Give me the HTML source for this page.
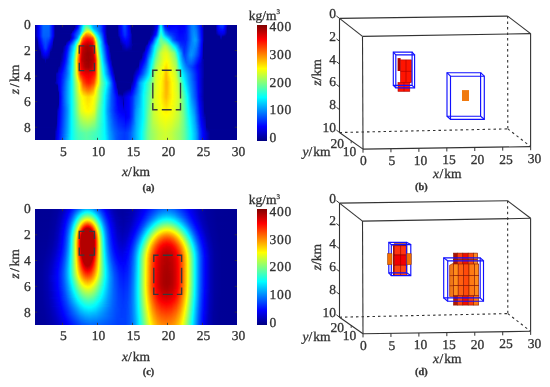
<!DOCTYPE html>
<html><head><meta charset="utf-8"><style>
html,body{margin:0;padding:0;background:#fff;width:550px;height:387px;overflow:hidden}
body{position:relative}
.hm{position:absolute;overflow:hidden}
.hm i{position:absolute;left:0;width:100%;height:1px;display:block}
.cb{position:absolute;left:257px;width:10px;background:linear-gradient(to top,#000080 0.0%,#00f 12.5%,#0ff 37.5%,#ff0 62.5%,#f00 87.5%,#800000 100.0%)}
svg{position:absolute;left:0;top:0}
text{font-family:"Liberation Serif",serif;fill:#333;text-rendering:geometricPrecision;stroke:#333;stroke-width:0.3px}
</style></head><body>
<div class="hm" style="left:35px;top:25px;width:202px;height:115px"><i style="top:0px;background:linear-gradient(90deg,#000094 0px,#0000de 2.5px,#0000f7 3.5px,#000fff 4.5px,#0058ff 7.5px,#0068ff 8.5px,#006aff 9.5px,#0068ff 13.5px,#0059ff 14.5px,#000cff 17.5px,#0000eb 18.5px,#0000b3 19.5px,#000094 20.5px,#000094 39.5px,#0000ae 40.5px,#0000f6 42.5px,#0016ff 43.5px,#003cff 44.5px,#00f6ff 48.5px,#1affe5 49.5px,#3fc 50.5px,#3fffc0 51.5px,#3cffc3 52.5px,#1bffe4 54.5px,#00f7ff 55.5px,#00d2ff 56.5px,#00a4ff 58.5px,#005bff 64.5px,#0037ff 66.5px,#0007ff 68.5px,#00e 69.5px,#0000a7 71.5px,#000094 72.5px,#000094 81.5px,#0000a2 82.5px,#0000ca 83.5px,#0000e6 84.5px,#0000f8 85.5px,#000dff 86.5px,#003eff 88.5px,#0048ff 89.5px,#0040ff 90.5px,#0000fa 93.5px,#0000e3 94.5px,#000094 96.5px,#000097 117.5px,#0000b1 119.5px,#0000e3 121.5px,#0005ff 122.5px,#008fff 124.5px,#00dcff 125.5px,#00dcff 126.5px,#0092ff 127.5px,#0020ff 129.5px,#000aff 130.5px,#00f 131.5px,#0000f0 134.5px,#0000fe 141.5px,#0000eb 145.5px,#0000ed 147.5px,#0000fd 149.5px,#0017ff 151.5px,#0076ff 156.5px,#0081ff 158.5px,#007cff 159.5px,#0062ff 161.5px,#0000f9 166.5px,#0000da 167.5px,#0000ac 168.5px,#000094 169.5px,#000094 180.5px,#0000f6 182.5px,#0013ff 183.5px,#0034ff 185.5px,#003dff 187.5px,#0030ff 188.5px,#0014ff 189.5px,#0000f3 190.5px,#0000a8 192.5px,#000097 193.5px,#000094 202px)"></i><i style="top:1px;background:linear-gradient(90deg,#000094 0px,#0000de 2.5px,#0000f8 3.5px,#000fff 4.5px,#0057ff 7.5px,#0067ff 8.5px,#0069ff 9.5px,#0067ff 13.5px,#0059ff 14.5px,#000cff 17.5px,#0000eb 18.5px,#0000b3 19.5px,#000094 20.5px,#000094 39.5px,#0000fd 42.5px,#0047ff 44.5px,#05fffa 48.5px,#4affb5 50.5px,#59ffa6 51.5px,#53ffac 52.5px,#43ffbc 53.5px,#2cffd3 54.5px,#06fff9 55.5px,#00c0ff 57.5px,#0af 58.5px,#0060ff 64.5px,#003bff 66.5px,#0007ff 68.5px,#00e 69.5px,#0000a7 71.5px,#000094 72.5px,#000098 82.5px,#0000c7 83.5px,#0000e4 84.5px,#0000f7 85.5px,#000bff 86.5px,#003aff 88.5px,#0045ff 89.5px,#003eff 90.5px,#0000fb 93.5px,#0000e5 94.5px,#000094 96.5px,#000094 116.5px,#0000a3 118.5px,#0000b5 119.5px,#0000e9 121.5px,#000fff 122.5px,#00e3ff 125.5px,#00e3ff 126.5px,#009fff 127.5px,#0031ff 129.5px,#0017ff 130.5px,#0002ff 132.5px,#0000f7 135.5px,#0003ff 141.5px,#00e 145.5px,#0000f3 148.5px,#0000fe 149.5px,#0018ff 151.5px,#0076ff 156.5px,#0082ff 158.5px,#007eff 159.5px,#0065ff 161.5px,#0000fb 166.5px,#0000dc 167.5px,#0000ac 168.5px,#000094 169.5px,#000094 180.5px,#0000f0 182.5px,#000cff 183.5px,#002bff 185.5px,#03f 187.5px,#0027ff 188.5px,#000eff 189.5px,#00e 190.5px,#00009c 192.5px,#000094 193.5px,#000094 202px)"></i><i style="top:2px;background:linear-gradient(90deg,#000094 0px,#0000de 2.5px,#0000f8 3.5px,#000fff 4.5px,#0057ff 7.5px,#06f 8.5px,#0068ff 9.5px,#06f 13.5px,#0058ff 14.5px,#000cff 17.5px,#0000eb 18.5px,#0000b3 19.5px,#000094 20.5px,#000095 39.5px,#0000e7 41.5px,#0006ff 42.5px,#0027ff 43.5px,#00e3ff 47.5px,#13ffec 48.5px,#62ff9d 50.5px,#73ff8c 51.5px,#6bff94 52.5px,#58ffa7 53.5px,#3effc1 54.5px,#13ffec 55.5px,#00ebff 56.5px,#00b0ff 58.5px,#0064ff 64.5px,#003fff 66.5px,#0008ff 68.5px,#00e 69.5px,#0000a6 71.5px,#000094 72.5px,#000094 82.5px,#0000c5 83.5px,#0000e2 84.5px,#0009ff 86.5px,#0037ff 88.5px,#0042ff 89.5px,#003cff 90.5px,#0000fc 93.5px,#0000e7 94.5px,#0000c3 95.5px,#000094 96.5px,#000094 116.5px,#0000a6 118.5px,#00e 121.5px,#0018ff 122.5px,#00e9ff 125.5px,#00eaff 126.5px,#00abff 127.5px,#0042ff 129.5px,#0024ff 130.5px,#000bff 132.5px,#0000fe 134.5px,#0007ff 140.5px,#00f 142.5px,#0000f1 145.5px,#00f 149.5px,#0018ff 151.5px,#0076ff 156.5px,#0084ff 158.5px,#0080ff 159.5px,#0068ff 161.5px,#0000fc 166.5px,#00d 167.5px,#0000ad 168.5px,#000094 169.5px,#000094 180.5px,#0000eb 182.5px,#0004ff 183.5px,#0021ff 185.5px,#0029ff 187.5px,#001eff 188.5px,#0007ff 189.5px,#0000ea 190.5px,#000094 192.5px,#000094 202px)"></i><i style="top:3px;background:linear-gradient(90deg,#000094 0px,#0000de 2.5px,#0000f8 3.5px,#000fff 4.5px,#0056ff 7.5px,#0065ff 8.5px,#0067ff 9.5px,#0065ff 13.5px,#0057ff 14.5px,#000cff 17.5px,#0000eb 18.5px,#0000b4 19.5px,#000094 20.5px,#000094 38.5px,#0000f4 41.5px,#0013ff 42.5px,#0034ff 43.5px,#008aff 45.5px,#0ef 47.5px,#20ffdf 48.5px,#78ff87 50.5px,#8cff73 51.5px,#89ff76 52.5px,#78ff87 53.5px,#5dffa2 54.5px,#08fff7 56.5px,#0df 57.5px,#00bfff 58.5px,#00adff 59.5px,#08f 62.5px,#0056ff 65.5px,#0008ff 68.5px,#0000ed 69.5px,#0000a6 71.5px,#000094 72.5px,#000094 82.5px,#0000c3 83.5px,#0000df 84.5px,#0007ff 86.5px,#0034ff 88.5px,#003fff 89.5px,#003aff 90.5px,#0000fd 93.5px,#0000e8 94.5px,#0000c6 95.5px,#000094 96.5px,#000094 116.5px,#0000a9 118.5px,#0000f3 121.5px,#0021ff 122.5px,#006bff 123.5px,#00f0ff 125.5px,#00f1ff 126.5px,#0053ff 129.5px,#0031ff 130.5px,#0014ff 132.5px,#0006ff 134.5px,#000aff 140.5px,#0000f5 145.5px,#0001ff 149.5px,#0019ff 151.5px,#0076ff 156.5px,#0085ff 158.5px,#007aff 160.5px,#006bff 161.5px,#0000fd 166.5px,#0000de 167.5px,#0000ad 168.5px,#000094 169.5px,#000094 180.5px,#0000e6 182.5px,#0000fc 183.5px,#000dff 184.5px,#001fff 187.5px,#0015ff 188.5px,#00f 189.5px,#0000e5 190.5px,#000094 192.5px,#000094 202px)"></i><i style="top:4px;background:linear-gradient(90deg,#000094 0px,#0000de 2.5px,#0000f8 3.5px,#000fff 4.5px,#05f 7.5px,#0064ff 8.5px,#06f 9.5px,#0064ff 13.5px,#0057ff 14.5px,#000cff 17.5px,#0000eb 18.5px,#0000b4 19.5px,#000094 20.5px,#000094 38.5px,#00c 39.5px,#0000ed 40.5px,#0009ff 41.5px,#04f 43.5px,#0092ff 45.5px,#00f5ff 47.5px,#2cffd3 48.5px,#61ff9e 49.5px,#8bff74 50.5px,#a5ff5a 51.5px,#acff53 52.5px,#a2ff5d 53.5px,#89ff76 54.5px,#34ffcb 56.5px,#00fdff 57.5px,#00d8ff 58.5px,#00c0ff 59.5px,#006cff 64.5px,#0040ff 66.5px,#0008ff 68.5px,#0000ed 69.5px,#0000a6 71.5px,#000094 72.5px,#000094 82.5px,#0000c0 83.5px,#00d 84.5px,#0005ff 86.5px,#0031ff 88.5px,#003cff 89.5px,#0038ff 90.5px,#0000fe 93.5px,#0000ea 94.5px,#0000c9 95.5px,#000094 96.5px,#000094 116.5px,#0000ac 118.5px,#0000f7 121.5px,#002bff 122.5px,#07f 123.5px,#00f6ff 125.5px,#00f8ff 126.5px,#0064ff 129.5px,#003eff 130.5px,#001dff 132.5px,#000dff 134.5px,#000dff 141.5px,#00f 143.5px,#0000f8 145.5px,#0003ff 149.5px,#001aff 151.5px,#0076ff 156.5px,#0087ff 158.5px,#007dff 160.5px,#006fff 161.5px,#0000fe 166.5px,#0000e0 167.5px,#0000ae 168.5px,#000094 169.5px,#000094 180.5px,#0000df 182.5px,#0000f5 183.5px,#0005ff 184.5px,#0014ff 187.5px,#0000f8 189.5px,#0000de 190.5px,#000094 192.5px,#000094 202px)"></i><i style="top:5px;background:linear-gradient(90deg,#000094 0px,#0000de 2.5px,#0000f8 3.5px,#000fff 4.5px,#05f 7.5px,#0063ff 8.5px,#06f 9.5px,#0064ff 13.5px,#0056ff 14.5px,#000cff 17.5px,#0000eb 18.5px,#0000b4 19.5px,#000094 20.5px,#000096 37.5px,#0000b7 38.5px,#0000e8 39.5px,#0002ff 40.5px,#0075ff 44.5px,#009aff 45.5px,#00fcff 47.5px,#38ffc7 48.5px,#74ff8b 49.5px,#9eff61 50.5px,#beff41 51.5px,#d0ff2f 52.5px,#cdff32 53.5px,#b6ff49 54.5px,#90ff6f 55.5px,#60ff9f 56.5px,#1effe1 57.5px,#00f2ff 58.5px,#00d2ff 59.5px,#0058ff 65.5px,#0008ff 68.5px,#0000ed 69.5px,#0000a6 71.5px,#000094 72.5px,#000094 82.5px,#0000be 83.5px,#0000db 84.5px,#0004ff 86.5px,#002eff 88.5px,#0039ff 89.5px,#0036ff 90.5px,#0000fe 93.5px,#0000eb 94.5px,#00c 95.5px,#000094 96.5px,#000094 115.5px,#0000a0 117.5px,#0000b2 118.5px,#0001ff 121.5px,#0036ff 122.5px,#0082ff 123.5px,#00feff 125.5px,#01fffe 126.5px,#0075ff 129.5px,#004eff 130.5px,#002aff 132.5px,#0017ff 134.5px,#000fff 141.5px,#0000fc 144.5px,#0006ff 149.5px,#001aff 151.5px,#07f 156.5px,#08f 158.5px,#0080ff 160.5px,#0072ff 161.5px,#0001ff 166.5px,#0000e1 167.5px,#0000ae 168.5px,#000094 169.5px,#000094 180.5px,#0000d7 182.5px,#00e 183.5px,#0005ff 185.5px,#000aff 187.5px,#0003ff 188.5px,#0000f1 189.5px,#000094 192.5px,#000094 202px)"></i><i style="top:6px;background:linear-gradient(90deg,#000094 0px,#0000df 2.5px,#0000f8 3.5px,#000fff 4.5px,#0054ff 7.5px,#0063ff 8.5px,#0065ff 9.5px,#0063ff 13.5px,#0056ff 14.5px,#000cff 17.5px,#0000eb 18.5px,#0000b4 19.5px,#000094 20.5px,#000094 36.5px,#0000f9 39.5px,#0047ff 42.5px,#0081ff 44.5px,#00a8ff 45.5px,#00dbff 46.5px,#18ffe7 47.5px,#98ff67 49.5px,#e4ff1b 51.5px,#f7ff08 52.5px,#f6ff09 53.5px,#e2ff1d 54.5px,#c2ff3d 55.5px,#91ff6e 56.5px,#4cffb3 57.5px,#1affe5 58.5px,#00f1ff 59.5px,#00d3ff 60.5px,#005fff 65.5px,#000bff 68.5px,#0000ef 69.5px,#0000a6 71.5px,#000094 72.5px,#000094 82.5px,#00b 83.5px,#0000d8 84.5px,#0002ff 86.5px,#002bff 88.5px,#0036ff 89.5px,#0034ff 90.5px,#00f 93.5px,#0000ec 94.5px,#0000cf 95.5px,#000094 96.5px,#000094 115.5px,#0000a6 117.5px,#0000f1 120.5px,#000eff 121.5px,#0045ff 122.5px,#00cdff 124.5px,#07fff8 125.5px,#0afff5 126.5px,#0df 127.5px,#0063ff 130.5px,#002eff 133.5px,#0020ff 135.5px,#01f 141.5px,#0000fe 144.5px,#00f 147.5px,#000eff 150.5px,#002cff 152.5px,#07f 156.5px,#0083ff 157.5px,#008aff 159.5px,#0075ff 161.5px,#0002ff 166.5px,#0000e2 167.5px,#0000af 168.5px,#000094 169.5px,#000094 180.5px,#0000e7 183.5px,#0000fa 185.5px,#00f 187.5px,#0000ea 189.5px,#000094 192.5px,#000094 202px)"></i><i style="top:7px;background:linear-gradient(90deg,#000094 0px,#0000df 2.5px,#0000f8 3.5px,#000fff 4.5px,#0054ff 7.5px,#0062ff 8.5px,#0064ff 9.5px,#0062ff 13.5px,#05f 14.5px,#000cff 17.5px,#0000ec 18.5px,#0000b4 19.5px,#000094 20.5px,#000094 36.5px,#0000d1 37.5px,#0000f2 38.5px,#000bff 39.5px,#006dff 43.5px,#008dff 44.5px,#00bdff 45.5px,#00fcff 46.5px,#48ffb7 47.5px,#92ff6d 48.5px,#ceff31 49.5px,#faff05 50.5px,#ffe900 51.5px,#ffde00 52.5px,#ffe000 53.5px,#fff000 54.5px,#f5ff0a 55.5px,#c8ff37 56.5px,#51ffae 58.5px,#1dffe2 59.5px,#00f1ff 60.5px,#0050ff 66.5px,#0012ff 68.5px,#0000f4 69.5px,#0000a7 71.5px,#000094 72.5px,#000094 82.5px,#0000b9 83.5px,#0000ed 85.5px,#00f 86.5px,#0014ff 87.5px,#03f 89.5px,#0032ff 90.5px,#0001ff 93.5px,#00e 94.5px,#0000d2 95.5px,#00009c 96.5px,#000094 97.5px,#000094 115.5px,#0000ab 117.5px,#0000f9 120.5px,#001bff 121.5px,#0053ff 122.5px,#00d7ff 124.5px,#10ffef 125.5px,#12ffed 126.5px,#00eaff 127.5px,#0078ff 130.5px,#003eff 133.5px,#002bff 135.5px,#0001ff 144.5px,#0003ff 147.5px,#0010ff 150.5px,#002cff 152.5px,#07f 156.5px,#008bff 158.5px,#008cff 159.5px,#0078ff 161.5px,#0003ff 166.5px,#0000e3 167.5px,#0000af 168.5px,#000094 169.5px,#000094 180.5px,#00d 183.5px,#0000f1 185.5px,#0000f5 187.5px,#0000e2 189.5px,#000094 192.5px,#000094 202px)"></i><i style="top:8px;background:linear-gradient(90deg,#000094 0px,#0000df 2.5px,#0000f8 3.5px,#000fff 4.5px,#0053ff 7.5px,#0061ff 8.5px,#0063ff 9.5px,#0061ff 13.5px,#0054ff 14.5px,#000cff 17.5px,#0000ec 18.5px,#0000b4 19.5px,#000094 20.5px,#000098 35.5px,#0000ba 36.5px,#0000ea 37.5px,#0004ff 38.5px,#07f 43.5px,#0098ff 44.5px,#00d1ff 45.5px,#1effe1 46.5px,#caff35 48.5px,#fffa00 49.5px,#ffcd00 50.5px,#ffb700 51.5px,#ffb900 53.5px,#ffd600 55.5px,#feff01 56.5px,#0ffff0 60.5px,#00e6ff 61.5px,#005bff 66.5px,#0019ff 68.5px,#0000f8 69.5px,#0000a9 71.5px,#000094 72.5px,#000094 82.5px,#0000b7 83.5px,#0000ec 85.5px,#0000fd 86.5px,#01f 87.5px,#0030ff 89.5px,#0030ff 90.5px,#0002ff 93.5px,#0000ef 94.5px,#0000d5 95.5px,#0000a7 96.5px,#000094 97.5px,#000094 115.5px,#0000b0 117.5px,#0003ff 120.5px,#0027ff 121.5px,#00e1ff 124.5px,#18ffe7 125.5px,#1bffe4 126.5px,#00f6ff 127.5px,#008cff 130.5px,#0060ff 132.5px,#003fff 134.5px,#0003ff 144.5px,#0005ff 147.5px,#0012ff 150.5px,#002dff 152.5px,#07f 156.5px,#008cff 158.5px,#008eff 159.5px,#007bff 161.5px,#0005ff 166.5px,#0000e5 167.5px,#0000b0 168.5px,#000094 169.5px,#000094 180.5px,#0000d1 183.5px,#0000df 184.5px,#0000eb 187.5px,#0000e6 188.5px,#0000d7 189.5px,#0000a5 191.5px,#000094 192.5px,#000094 202px)"></i><i style="top:9px;background:linear-gradient(90deg,#000094 0px,#0000df 2.5px,#0000f8 3.5px,#000fff 4.5px,#0052ff 7.5px,#0060ff 8.5px,#0062ff 9.5px,#0060ff 13.5px,#0054ff 14.5px,#000cff 17.5px,#0000ec 18.5px,#0000b4 19.5px,#000094 20.5px,#000094 34.5px,#0000a8 35.5px,#0000f2 37.5px,#000dff 38.5px,#006aff 42.5px,#08f 43.5px,#00b0ff 44.5px,#00f4ff 45.5px,#4bffb4 46.5px,#af5 47.5px,#fdff02 48.5px,#ffa100 50.5px,#ff9000 51.5px,#ff9500 53.5px,#ffab00 55.5px,#ffcf00 56.5px,#ff0 57.5px,#3fc 60.5px,#01fffe 61.5px,#00bcff 63.5px,#06f 66.5px,#0000fc 69.5px,#0000ac 71.5px,#000094 72.5px,#000094 82.5px,#0000ea 85.5px,#0000fb 86.5px,#000eff 87.5px,#002eff 89.5px,#002eff 90.5px,#0003ff 93.5px,#0000f1 94.5px,#0000d8 95.5px,#000094 97.5px,#000094 115.5px,#0000b6 117.5px,#0000f1 119.5px,#000bff 120.5px,#0034ff 121.5px,#00ebff 124.5px,#21ffde 125.5px,#24ffdb 126.5px,#04fffb 127.5px,#00a1ff 130.5px,#0072ff 132.5px,#004dff 134.5px,#0028ff 138.5px,#0005ff 144.5px,#000aff 148.5px,#001dff 151.5px,#07f 156.5px,#008eff 158.5px,#0090ff 159.5px,#007fff 161.5px,#0006ff 166.5px,#0000e6 167.5px,#0000b0 168.5px,#000094 169.5px,#000094 180.5px,#00009a 181.5px,#0000c0 183.5px,#0000da 185.5px,#0000de 186.5px,#0000d3 188.5px,#0000c6 189.5px,#00009b 191.5px,#000094 192.5px,#000094 202px)"></i><i style="top:10px;background:linear-gradient(90deg,#000094 0px,#0000df 2.5px,#0000f9 3.5px,#000fff 4.5px,#0052ff 7.5px,#005fff 8.5px,#0061ff 9.5px,#0060ff 13.5px,#0053ff 14.5px,#000dff 17.5px,#0000ec 18.5px,#0000b4 19.5px,#000094 20.5px,#000094 34.5px,#0000a7 35.5px,#0000f1 37.5px,#000cff 38.5px,#0079ff 42.5px,#00a0ff 43.5px,#00d4ff 44.5px,#28ffd7 45.5px,#e0ff1f 47.5px,#ffd200 48.5px,#ffa500 49.5px,#ff8200 50.5px,#ff7300 51.5px,#ff7200 52.5px,#f80 55.5px,#fc0 57.5px,#f5ff0a 58.5px,#5cffa3 60.5px,#21ffde 61.5px,#00f5ff 62.5px,#0070ff 66.5px,#0001ff 69.5px,#000094 72.5px,#000094 82.5px,#0000e7 85.5px,#000aff 87.5px,#0028ff 89.5px,#0029ff 90.5px,#0001ff 93.5px,#0000d9 95.5px,#000094 97.5px,#000094 114.5px,#00a 116.5px,#0001ff 119.5px,#001eff 120.5px,#0048ff 121.5px,#00f9ff 124.5px,#2cffd3 125.5px,#2fffd0 126.5px,#13ffec 127.5px,#00f0ff 128.5px,#0089ff 132.5px,#0052ff 135.5px,#0027ff 139.5px,#0007ff 144.5px,#000bff 148.5px,#001dff 151.5px,#07f 156.5px,#008fff 158.5px,#0093ff 159.5px,#0082ff 161.5px,#0007ff 166.5px,#0000e7 167.5px,#0000b1 168.5px,#000094 169.5px,#000094 181.5px,#0000b3 184.5px,#0000cd 185.5px,#0000d0 186.5px,#0000bd 187.5px,#0000b8 188.5px,#000094 191.5px,#000094 202px)"></i><i style="top:11px;background:linear-gradient(90deg,#000094 0px,#0000f6 3.5px,#000dff 4.5px,#004eff 7.5px,#005cff 8.5px,#005fff 11.5px,#005bff 13.5px,#004fff 14.5px,#0009ff 17.5px,#0000e7 18.5px,#0000af 19.5px,#000094 20.5px,#000094 34.5px,#0000a6 35.5px,#0000ef 37.5px,#000bff 38.5px,#0063ff 41.5px,#08f 42.5px,#00b8ff 43.5px,#00f7ff 44.5px,#5affa5 45.5px,#c1ff3e 46.5px,#ffe800 47.5px,#ffa300 48.5px,#ff7e00 49.5px,#ff6300 50.5px,#ff5600 51.5px,#f50 53.5px,#ff6500 55.5px,#f90 57.5px,#ffd200 58.5px,#deff21 59.5px,#86ff79 60.5px,#40ffbf 61.5px,#0efff1 62.5px,#00e4ff 63.5px,#007aff 66.5px,#0006ff 69.5px,#0000e5 70.5px,#000094 72.5px,#000094 82.5px,#0000a2 83.5px,#00b 84.5px,#0000e0 85.5px,#0003ff 87.5px,#001fff 89.5px,#0021ff 90.5px,#0000fd 93.5px,#0000d6 95.5px,#000094 97.5px,#000094 114.5px,#0000ba 116.5px,#0000f8 118.5px,#003aff 120.5px,#0065ff 121.5px,#00d1ff 123.5px,#0bfff4 124.5px,#39ffc6 125.5px,#3cffc3 126.5px,#07fff8 128.5px,#00edff 129.5px,#0090ff 133.5px,#04f 137.5px,#001bff 141.5px,#000aff 144.5px,#000cff 148.5px,#001eff 151.5px,#0087ff 157.5px,#0095ff 159.5px,#0085ff 161.5px,#0008ff 166.5px,#0000e7 167.5px,#0000b1 168.5px,#000094 169.5px,#000094 183.5px,#00009a 184.5px,#0000c0 185.5px,#0000c3 186.5px,#0000a1 187.5px,#000096 189.5px,#000094 202px)"></i><i style="top:12px;background:linear-gradient(90deg,#000094 0px,#00a 1.5px,#0000f1 3.5px,#0007ff 4.5px,#0048ff 7.5px,#0057ff 8.5px,#005cff 10.5px,#0054ff 13.5px,#0032ff 15.5px,#0003ff 17.5px,#0000da 18.5px,#0000a6 19.5px,#000094 20.5px,#000094 34.5px,#0000a4 35.5px,#00e 37.5px,#000bff 38.5px,#006cff 41.5px,#0097ff 42.5px,#00d0ff 43.5px,#1cffe3 44.5px,#fbff04 46.5px,#ffb200 47.5px,#ff7300 48.5px,#f40 50.5px,#ff3400 52.5px,#ff4200 55.5px,#f60 57.5px,#ff9b00 58.5px,#ffed00 59.5px,#afff50 60.5px,#60ff9f 61.5px,#27ffd8 62.5px,#00f8ff 63.5px,#000aff 69.5px,#0000e9 70.5px,#000095 72.5px,#000097 83.5px,#0000ad 84.5px,#0000d8 85.5px,#0000fb 87.5px,#0017ff 89.5px,#0019ff 90.5px,#0009ff 92.5px,#0000ea 94.5px,#0000d3 95.5px,#000094 97.5px,#000094 114.5px,#0000ea 117.5px,#000bff 118.5px,#0057ff 120.5px,#00e6ff 123.5px,#1cffe3 124.5px,#46ffb9 125.5px,#49ffb6 126.5px,#07fff8 129.5px,#00daff 131.5px,#0050ff 137.5px,#001eff 141.5px,#000dff 144.5px,#000eff 148.5px,#001fff 151.5px,#0087ff 157.5px,#0097ff 159.5px,#0095ff 160.5px,#08f 161.5px,#000aff 166.5px,#0000e8 167.5px,#0000b1 168.5px,#000094 169.5px,#000094 184.5px,#0000b4 185.5px,#0000b5 186.5px,#000094 187.5px,#000094 202px)"></i><i style="top:13px;background:linear-gradient(90deg,#000094 0px,#0000a0 1.5px,#0000bf 2.5px,#0000ec 3.5px,#0002ff 4.5px,#0051ff 8.5px,#0058ff 10.5px,#004cff 13.5px,#003fff 14.5px,#0000fb 17.5px,#00009c 19.5px,#000094 20.5px,#000094 34.5px,#0000f9 37.5px,#0038ff 39.5px,#0082ff 41.5px,#00b0ff 42.5px,#00efff 43.5px,#42ffbd 44.5px,#b6ff49 45.5px,#ffd600 46.5px,#ff8b00 47.5px,#ff5300 48.5px,#ff2d00 50.5px,#ff1c00 52.5px,#ff1f00 54.5px,#f40 57.5px,#ff7400 58.5px,#ffc500 59.5px,#d3ff2c 60.5px,#7cff83 61.5px,#3cffc3 62.5px,#0afff5 63.5px,#00e1ff 64.5px,#000fff 69.5px,#0000ed 70.5px,#0000a1 72.5px,#000094 73.5px,#000094 83.5px,#00009f 84.5px,#0000cf 85.5px,#0000e5 86.5px,#0003ff 88.5px,#01f 90.5px,#0004ff 92.5px,#0000f6 93.5px,#0000d0 95.5px,#000094 97.5px,#000094 114.5px,#00b 115.5px,#0000f7 117.5px,#001dff 118.5px,#00faff 123.5px,#2dffd2 124.5px,#53ffac 125.5px,#56ffa9 126.5px,#0dfff2 130.5px,#00f7ff 131.5px,#00afff 134.5px,#005cff 137.5px,#0049ff 138.5px,#0021ff 141.5px,#0010ff 144.5px,#000fff 148.5px,#001fff 151.5px,#08f 157.5px,#009aff 159.5px,#0098ff 160.5px,#008bff 161.5px,#000bff 166.5px,#0000e9 167.5px,#0000b2 168.5px,#000094 169.5px,#000094 184.5px,#0000a7 185.5px,#0000a8 186.5px,#000094 187.5px,#000094 202px)"></i><i style="top:14px;background:linear-gradient(90deg,#000094 0px,#000096 1.5px,#0000b2 2.5px,#0000e7 3.5px,#0000fb 4.5px,#0010ff 5.5px,#004bff 8.5px,#05f 10.5px,#0045ff 13.5px,#000cff 16.5px,#0000f4 17.5px,#0000bd 18.5px,#000094 19.5px,#000094 34.5px,#0000d3 35.5px,#0000f3 36.5px,#01f 37.5px,#05f 39.5px,#00d4ff 42.5px,#15ffea 43.5px,#69ff96 44.5px,#d7ff28 45.5px,#ffb800 46.5px,#ff7300 47.5px,#ff4300 48.5px,#ff1c00 50.5px,#ff0a00 52.5px,#ff0e00 54.5px,#ff3200 57.5px,#ff5f00 58.5px,#ffa800 59.5px,#f1ff0e 60.5px,#95ff6a 61.5px,#4fffb0 62.5px,#18ffe7 63.5px,#00efff 64.5px,#0015ff 69.5px,#0000f2 70.5px,#0000a3 72.5px,#000094 73.5px,#000094 84.5px,#0000c7 85.5px,#0000ed 87.5px,#0005ff 89.5px,#000aff 90.5px,#0000fe 92.5px,#0000f2 93.5px,#0000ce 95.5px,#000094 97.5px,#000094 113.5px,#0000a1 114.5px,#0000e8 116.5px,#0004ff 117.5px,#00e5ff 122.5px,#0ffff0 123.5px,#3effc1 124.5px,#60ff9f 125.5px,#63ff9c 126.5px,#39ffc6 129.5px,#0ff 132.5px,#00abff 135.5px,#0068ff 137.5px,#0052ff 138.5px,#0024ff 141.5px,#0012ff 144.5px,#0010ff 148.5px,#0020ff 151.5px,#0089ff 157.5px,#009cff 159.5px,#009bff 160.5px,#008fff 161.5px,#0060ff 163.5px,#000cff 166.5px,#0000ea 167.5px,#0000b2 168.5px,#000094 169.5px,#000094 184.5px,#00009b 186.5px,#000094 187.5px,#000094 202px)"></i><i style="top:15px;background:linear-gradient(90deg,#000094 0px,#000094 1.5px,#0000a4 2.5px,#0000df 3.5px,#0000f6 4.5px,#000bff 5.5px,#0046ff 8.5px,#0052ff 10.5px,#003dff 13.5px,#0005ff 16.5px,#00e 17.5px,#0000af 18.5px,#000094 19.5px,#000094 32.5px,#00009e 33.5px,#0000b5 34.5px,#00e 35.5px,#0009ff 36.5px,#0028ff 37.5px,#009cff 40.5px,#00f9ff 42.5px,#3affc5 43.5px,#91ff6e 44.5px,#f9ff06 45.5px,#ff9a00 46.5px,#ff5c00 47.5px,#ff3200 48.5px,#ff1b00 49.5px,#f00 51.5px,#f70000 53.5px,#ff0400 55.5px,#ff2000 57.5px,#ff4a00 58.5px,#ff8c00 59.5px,#ffef00 60.5px,#aeff51 61.5px,#61ff9e 62.5px,#27ffd8 63.5px,#00feff 64.5px,#001bff 69.5px,#0000f6 70.5px,#0000a5 72.5px,#000094 73.5px,#000094 84.5px,#0000bf 85.5px,#0000e6 87.5px,#0000fc 89.5px,#0002ff 90.5px,#0000fa 92.5px,#0000e0 94.5px,#0000b5 96.5px,#000094 97.5px,#000094 112.5px,#0000b7 114.5px,#0000f7 116.5px,#0015ff 117.5px,#00a6ff 120.5px,#00f6ff 122.5px,#1dffe2 123.5px,#48ffb7 124.5px,#67ff98 125.5px,#6cff93 126.5px,#40ffbf 130.5px,#0ff 133.5px,#00c3ff 135.5px,#007cff 137.5px,#0051ff 139.5px,#0027ff 142.5px,#0015ff 145.5px,#0015ff 149.5px,#02f 151.5px,#0089ff 157.5px,#009cff 159.5px,#009bff 160.5px,#008eff 161.5px,#005fff 163.5px,#000cff 166.5px,#0000ea 167.5px,#0000af 168.5px,#000094 169.5px,#000094 202px)"></i><i style="top:16px;background:linear-gradient(90deg,#000094 0px,#000097 2.5px,#0000d7 3.5px,#0000f1 4.5px,#0005ff 5.5px,#0040ff 8.5px,#004eff 10.5px,#0036ff 13.5px,#0000fd 16.5px,#0000e7 17.5px,#0000a0 18.5px,#000094 19.5px,#000094 31.5px,#0000a7 32.5px,#0002ff 35.5px,#001eff 36.5px,#06f 38.5px,#00edff 41.5px,#1effe1 42.5px,#5fffa0 43.5px,#b8ff47 44.5px,#ffe300 45.5px,#ff7c00 46.5px,#f40 47.5px,#ff2100 48.5px,#ff0b00 49.5px,#fb0000 50.5px,#e50000 52.5px,#e50000 53.5px,#fc0000 56.5px,#ff0e00 57.5px,#ff3500 58.5px,#ff6f00 59.5px,#ffd100 60.5px,#c7ff38 61.5px,#73ff8c 62.5px,#36ffc9 63.5px,#0dfff2 64.5px,#00e1ff 65.5px,#0021ff 69.5px,#0000fb 70.5px,#0000a6 72.5px,#000094 73.5px,#000094 84.5px,#0000b7 85.5px,#0000ea 88.5px,#0000fa 91.5px,#0000eb 93.5px,#0000db 94.5px,#0000b4 96.5px,#000094 97.5px,#000094 112.5px,#00e 115.5px,#000bff 116.5px,#002aff 117.5px,#00b6ff 120.5px,#02fffd 122.5px,#67ff98 125.5px,#6fff90 126.5px,#68ff97 128.5px,#5fa 130.5px,#30ffcf 132.5px,#00fbff 134.5px,#09f 137.5px,#006cff 139.5px,#003dff 142.5px,#0025ff 144.5px,#0019ff 146.5px,#001aff 150.5px,#0089ff 157.5px,#09f 159.5px,#0097ff 160.5px,#008aff 161.5px,#005cff 163.5px,#000aff 166.5px,#0000e8 167.5px,#0000a7 168.5px,#000094 169.5px,#000094 202px)"></i><i style="top:17px;background:linear-gradient(90deg,#000094 0px,#000094 2.5px,#0000cf 3.5px,#0000fe 5.5px,#003aff 8.5px,#004bff 10.5px,#003bff 12.5px,#000bff 15.5px,#0000f5 16.5px,#00d 17.5px,#000094 18.5px,#000094 30.5px,#0000a7 31.5px,#0000fb 34.5px,#0017ff 35.5px,#0057ff 37.5px,#00d7ff 40.5px,#0efff1 41.5px,#4fb 42.5px,#87ff78 43.5px,#e1ff1e 44.5px,#ffbf00 45.5px,#ff5f00 46.5px,#ff2c00 47.5px,#ff0e00 48.5px,#f90000 49.5px,#de0000 51.5px,#d60000 53.5px,#e20000 55.5px,#fe0000 57.5px,#ff2600 58.5px,#ff5e00 59.5px,#ffbf00 60.5px,#d8ff27 61.5px,#82ff7d 62.5px,#41ffbe 63.5px,#15ffea 64.5px,#00e8ff 65.5px,#0029ff 69.5px,#0003ff 70.5px,#0000de 71.5px,#0000b0 72.5px,#000094 73.5px,#000094 84.5px,#0000af 85.5px,#0000e0 88.5px,#0000f4 91.5px,#0000e7 93.5px,#0000b4 96.5px,#000094 97.5px,#000094 112.5px,#0000c6 113.5px,#00f 115.5px,#003fff 117.5px,#00c6ff 120.5px,#00eaff 121.5px,#0cfff3 122.5px,#68ff97 125.5px,#73ff8c 126.5px,#76ff89 128.5px,#69ff96 130.5px,#5bffa4 131.5px,#15ffea 134.5px,#00f8ff 135.5px,#00b6ff 137.5px,#0087ff 139.5px,#0031ff 144.5px,#001fff 146.5px,#001cff 150.5px,#007dff 156.5px,#0096ff 159.5px,#0086ff 161.5px,#0059ff 163.5px,#0008ff 166.5px,#0000e7 167.5px,#0000a0 168.5px,#000094 169.5px,#000094 202px)"></i><i style="top:18px;background:linear-gradient(90deg,#000094 0px,#000094 2.5px,#0000c7 3.5px,#0000e6 4.5px,#0000f9 5.5px,#000eff 6.5px,#0035ff 8.5px,#0047ff 10.5px,#0036ff 12.5px,#0003ff 15.5px,#00e 16.5px,#0000d2 17.5px,#000094 18.5px,#000094 30.5px,#0000ba 31.5px,#0000f2 33.5px,#000dff 34.5px,#004dff 36.5px,#0bf 39.5px,#00ebff 40.5px,#2affd5 41.5px,#b4ff4b 43.5px,#fff100 44.5px,#f40 46.5px,#ff1200 47.5px,#f70000 48.5px,#d90000 50.5px,#c90000 52.5px,#d50000 55.5px,#f20000 57.5px,#ff1e00 58.5px,#ff5900 59.5px,#ffb900 60.5px,#e2ff1d 61.5px,#8eff71 62.5px,#49ffb6 63.5px,#17ffe8 64.5px,#00e8ff 65.5px,#0032ff 69.5px,#000dff 70.5px,#0000ec 71.5px,#000094 73.5px,#000094 84.5px,#0000e0 89.5px,#00e 91.5px,#0000e2 93.5px,#0000b4 96.5px,#000098 97.5px,#000094 111.5px,#00009e 112.5px,#0000d8 113.5px,#0000f4 114.5px,#01f 115.5px,#0031ff 116.5px,#05f 117.5px,#00d7ff 120.5px,#00f8ff 121.5px,#17ffe8 122.5px,#69ff96 125.5px,#7fff80 127.5px,#84ff7b 129.5px,#7eff81 130.5px,#5effa1 132.5px,#14ffeb 135.5px,#00f3ff 136.5px,#00b9ff 138.5px,#003dff 144.5px,#002cff 145.5px,#0021ff 147.5px,#0020ff 150.5px,#007eff 156.5px,#0094ff 159.5px,#008fff 160.5px,#006eff 162.5px,#0006ff 166.5px,#0000e5 167.5px,#000098 168.5px,#000094 169.5px,#000094 202px)"></i><i style="top:19px;background:linear-gradient(90deg,#000094 0px,#000094 2.5px,#0000bf 3.5px,#00d 4.5px,#0008ff 6.5px,#002fff 8.5px,#04f 10.5px,#003eff 11.5px,#0000fb 15.5px,#0000e7 16.5px,#0000c8 17.5px,#000094 18.5px,#000097 30.5px,#0000cd 31.5px,#0002ff 33.5px,#001fff 34.5px,#00ceff 39.5px,#00feff 40.5px,#46ffb9 41.5px,#e1ff1e 43.5px,#ffc600 44.5px,#ff7200 45.5px,#ff2800 46.5px,#f80000 47.5px,#d30000 49.5px,#bc0000 52.5px,#c90000 55.5px,#e60000 57.5px,#ff1500 58.5px,#ff5400 59.5px,#ffb300 60.5px,#ebff14 61.5px,#9f6 62.5px,#51ffae 63.5px,#19ffe6 64.5px,#00e8ff 65.5px,#003cff 69.5px,#0018ff 70.5px,#0000f7 71.5px,#0000d5 72.5px,#000096 73.5px,#000094 84.5px,#0000e8 91.5px,#0000dc 93.5px,#000096 98.5px,#000094 110.5px,#00009e 111.5px,#0000b8 112.5px,#0000e9 113.5px,#0003ff 114.5px,#006aff 117.5px,#00e7ff 120.5px,#06fff9 121.5px,#6aff95 125.5px,#8f7 127.5px,#96ff69 129.5px,#92ff6d 130.5px,#75ff8a 132.5px,#10ffef 136.5px,#00f0ff 137.5px,#03f 145.5px,#0027ff 147.5px,#0023ff 150.5px,#0080ff 156.5px,#0091ff 159.5px,#008cff 160.5px,#006bff 162.5px,#0004ff 166.5px,#0000e3 167.5px,#000094 168.5px,#000094 202px)"></i><i style="top:20px;background:linear-gradient(90deg,#000094 0px,#000094 2.5px,#0000d5 4.5px,#0001ff 6.5px,#003aff 9.5px,#0041ff 10.5px,#003aff 11.5px,#0006ff 14.5px,#0000f3 15.5px,#0000dc 16.5px,#000094 18.5px,#000094 28.5px,#0000a1 29.5px,#0000b8 30.5px,#0000e0 31.5px,#0000f9 32.5px,#0012ff 33.5px,#0031ff 34.5px,#007fff 36.5px,#00e1ff 39.5px,#13ffec 40.5px,#bf4 42.5px,#fff100 43.5px,#ff4b00 45.5px,#ff0d00 46.5px,#df0000 47.5px,#c00 48.5px,#b70000 50.5px,#b00000 53.5px,#c70000 56.5px,#da0000 57.5px,#ff0c00 58.5px,#ff4f00 59.5px,#ffad00 60.5px,#f5ff0a 61.5px,#5affa5 63.5px,#1affe5 64.5px,#00e8ff 65.5px,#02f 70.5px,#0003ff 71.5px,#0000e7 72.5px,#0000b8 73.5px,#000098 74.5px,#000094 75.5px,#000094 85.5px,#0000de 91.5px,#0000d5 93.5px,#000094 98.5px,#000094 109.5px,#000098 110.5px,#0000f4 113.5px,#01f 114.5px,#03f 115.5px,#00f7ff 120.5px,#14ffeb 121.5px,#91ff6e 127.5px,#a8ff57 129.5px,#a7ff58 130.5px,#8bff74 132.5px,#48ffb7 135.5px,#0efff1 137.5px,#00f1ff 138.5px,#0093ff 142.5px,#003bff 145.5px,#0027ff 148.5px,#0027ff 150.5px,#0082ff 156.5px,#008eff 159.5px,#08f 160.5px,#0067ff 162.5px,#0002ff 166.5px,#0000e0 167.5px,#000094 168.5px,#000094 202px)"></i><i style="top:21px;background:linear-gradient(90deg,#000094 0px,#000094 2.5px,#0000e8 5.5px,#0000fa 6.5px,#000eff 7.5px,#0036ff 9.5px,#003dff 10.5px,#0036ff 11.5px,#0000fd 14.5px,#0000eb 15.5px,#000094 18.5px,#000094 27.5px,#00009d 28.5px,#0000b1 29.5px,#0000eb 31.5px,#0003ff 32.5px,#003eff 34.5px,#008fff 36.5px,#00efff 39.5px,#24ffdb 40.5px,#76ff89 41.5px,#d3ff2c 42.5px,#ffd600 43.5px,#ff3500 45.5px,#fc0000 46.5px,#d10000 47.5px,#c00000 48.5px,#ae0000 50.5px,#a70000 52.5px,#ad0000 54.5px,#bf0000 56.5px,#d20000 57.5px,#ff0400 58.5px,#ff4800 59.5px,#ff0 61.5px,#afff50 62.5px,#20ffdf 64.5px,#00ecff 65.5px,#002aff 70.5px,#000bff 71.5px,#0000ef 72.5px,#0000a7 74.5px,#000094 75.5px,#000094 86.5px,#0000ad 87.5px,#0000d3 91.5px,#0000d3 92.5px,#0000ad 96.5px,#000094 97.5px,#000094 109.5px,#0000a6 110.5px,#00f 113.5px,#0040ff 115.5px,#00dfff 119.5px,#04fffb 120.5px,#36ffc9 122.5px,#9aff65 127.5px,#b5ff4a 129.5px,#b5ff4a 130.5px,#9cff63 132.5px,#5dffa2 135.5px,#0afff5 138.5px,#00f1ff 139.5px,#00a5ff 142.5px,#0047ff 145.5px,#0027ff 149.5px,#0036ff 151.5px,#0079ff 155.5px,#008dff 158.5px,#0084ff 160.5px,#0076ff 161.5px,#004dff 163.5px,#00f 166.5px,#0000de 167.5px,#000094 168.5px,#000094 202px)"></i><i style="top:22px;background:linear-gradient(90deg,#000094 0px,#000094 2.5px,#0000a6 3.5px,#0000e0 5.5px,#0008ff 7.5px,#0032ff 9.5px,#003aff 10.5px,#0032ff 11.5px,#0009ff 13.5px,#0000e2 15.5px,#0000a8 17.5px,#000094 18.5px,#000094 27.5px,#0000b8 29.5px,#0000f0 31.5px,#0009ff 32.5px,#0024ff 33.5px,#0096ff 36.5px,#00faff 39.5px,#31ffce 40.5px,#df2 42.5px,#ffcf00 43.5px,#ff3100 45.5px,#f80000 46.5px,#ce0000 47.5px,#bd0000 48.5px,#ac0000 50.5px,#a50000 52.5px,#ab0000 54.5px,#bc0000 56.5px,#cd0000 57.5px,#fa0000 58.5px,#ff3f00 59.5px,#fff400 61.5px,#b9ff46 62.5px,#29ffd6 64.5px,#00f3ff 65.5px,#002fff 70.5px,#000fff 71.5px,#0000f2 72.5px,#0000ac 74.5px,#000094 75.5px,#000094 86.5px,#0000a8 87.5px,#0000c7 91.5px,#0000c7 92.5px,#0000a8 96.5px,#000094 97.5px,#000094 109.5px,#0000ef 112.5px,#0009ff 113.5px,#0027ff 114.5px,#006fff 116.5px,#00e7ff 119.5px,#0bfff4 120.5px,#3fffc0 122.5px,#a3ff5c 127.5px,#bcff43 129.5px,#bcff43 130.5px,#b5ff4a 131.5px,#93ff6c 133.5px,#6bff94 135.5px,#08fff7 139.5px,#00edff 140.5px,#0056ff 145.5px,#003aff 147.5px,#0029ff 149.5px,#0039ff 151.5px,#007cff 155.5px,#008cff 158.5px,#0081ff 160.5px,#0072ff 161.5px,#0000fd 166.5px,#0000dc 167.5px,#000094 168.5px,#000094 202px)"></i><i style="top:23px;background:linear-gradient(90deg,#000094 0px,#000094 2.5px,#00009e 3.5px,#00e 6.5px,#0002ff 7.5px,#002bff 9.5px,#03f 10.5px,#002bff 11.5px,#0002ff 13.5px,#00e 14.5px,#00009e 17.5px,#000094 18.5px,#000094 27.5px,#0000bf 29.5px,#0000f5 31.5px,#000eff 32.5px,#002cff 33.5px,#009dff 36.5px,#06fff9 39.5px,#3fffc0 40.5px,#e7ff18 42.5px,#ffc700 43.5px,#ff2d00 45.5px,#f30000 46.5px,#cb0000 47.5px,#b00 48.5px,#a00 50.5px,#a30000 52.5px,#a80000 54.5px,#b90000 56.5px,#c90000 57.5px,#f20000 58.5px,#ff3500 59.5px,#ffea00 61.5px,#c3ff3c 62.5px,#31ffce 64.5px,#00faff 65.5px,#0034ff 70.5px,#0014ff 71.5px,#0000f6 72.5px,#000094 75.5px,#000094 86.5px,#0000a4 87.5px,#0000bc 91.5px,#0000a4 96.5px,#000094 97.5px,#000094 109.5px,#0000be 110.5px,#0000f8 112.5px,#0013ff 113.5px,#0031ff 114.5px,#0ef 119.5px,#13ffec 120.5px,#48ffb7 122.5px,#9bff64 126.5px,#baff45 128.5px,#c4ff3b 130.5px,#b0ff4f 132.5px,#79ff86 135.5px,#02fffd 140.5px,#00e0ff 141.5px,#06f 145.5px,#0032ff 148.5px,#002bff 149.5px,#003dff 151.5px,#007fff 155.5px,#008bff 158.5px,#006eff 161.5px,#0000fb 166.5px,#0000d9 167.5px,#000094 168.5px,#000094 202px)"></i><i style="top:24px;background:linear-gradient(90deg,#000094 0px,#000094 3.5px,#0000c5 5.5px,#0000e9 6.5px,#0000fa 7.5px,#0010ff 8.5px,#0029ff 10.5px,#0021ff 11.5px,#0000fa 13.5px,#0000e9 14.5px,#0000c5 15.5px,#000094 17.5px,#000094 27.5px,#0000fa 31.5px,#0014ff 32.5px,#03f 33.5px,#00a4ff 36.5px,#00e5ff 38.5px,#10ffef 39.5px,#4cffb3 40.5px,#f0ff0f 42.5px,#ffbf00 43.5px,#ff2900 45.5px,#ef0000 46.5px,#c80000 47.5px,#b90000 48.5px,#a80000 50.5px,#a10000 52.5px,#a50000 54.5px,#b60000 56.5px,#c50000 57.5px,#ea0000 58.5px,#ff2c00 59.5px,#ffdf00 61.5px,#ceff31 62.5px,#3affc5 64.5px,#02fffd 65.5px,#0039ff 70.5px,#0000fa 72.5px,#000094 75.5px,#000094 86.5px,#00009f 87.5px,#0000b0 91.5px,#00009f 96.5px,#000094 97.5px,#000094 109.5px,#0000ca 110.5px,#0001ff 112.5px,#005cff 115.5px,#00f6ff 119.5px,#1affe5 120.5px,#52ffad 122.5px,#a6ff59 126.5px,#c2ff3d 128.5px,#cbff34 130.5px,#bf4 132.5px,#87ff78 135.5px,#3fc 139.5px,#16ffe9 140.5px,#00f1ff 141.5px,#0076ff 145.5px,#0035ff 148.5px,#002dff 149.5px,#0040ff 151.5px,#0082ff 155.5px,#008cff 157.5px,#0083ff 159.5px,#006aff 161.5px,#0000f9 166.5px,#0000d7 167.5px,#000094 168.5px,#000094 202px)"></i><i style="top:25px;background:linear-gradient(90deg,#000094 0px,#000094 3.5px,#0000a0 4.5px,#0000b5 5.5px,#0000e2 6.5px,#0008ff 8.5px,#001fff 10.5px,#0008ff 12.5px,#0000f4 13.5px,#0000e2 14.5px,#0000b5 15.5px,#000094 17.5px,#000094 27.5px,#0001ff 31.5px,#003aff 33.5px,#0089ff 35.5px,#00ecff 38.5px,#1bffe4 39.5px,#59ffa6 40.5px,#faff05 42.5px,#ff2400 45.5px,#eb0000 46.5px,#c40000 47.5px,#b70000 48.5px,#9f0000 52.5px,#a30000 54.5px,#b20000 56.5px,#c10000 57.5px,#e10000 58.5px,#ff2300 59.5px,#ffd500 61.5px,#d8ff27 62.5px,#43ffbc 64.5px,#09fff6 65.5px,#00dbff 66.5px,#003eff 70.5px,#0000fe 72.5px,#0000e3 73.5px,#000094 75.5px,#000094 86.5px,#0000a5 91.5px,#000094 97.5px,#000094 108.5px,#0000a0 109.5px,#0000d6 110.5px,#0000f1 111.5px,#000aff 112.5px,#04f 114.5px,#00feff 119.5px,#2fd 120.5px,#5bffa4 122.5px,#b1ff4e 126.5px,#c9ff36 128.5px,#d3ff2c 130.5px,#c5ff3a 132.5px,#71ff8e 137.5px,#49ffb6 139.5px,#02fffd 141.5px,#00dcff 142.5px,#0050ff 147.5px,#0038ff 148.5px,#002fff 149.5px,#04f 151.5px,#0085ff 155.5px,#008cff 157.5px,#0081ff 159.5px,#06f 161.5px,#0012ff 165.5px,#0000f7 166.5px,#0000d5 167.5px,#000094 168.5px,#000094 202px)"></i><i style="top:26px;background:linear-gradient(90deg,#000094 0px,#000094 4.5px,#0000a6 5.5px,#0000d9 6.5px,#00f 8.5px,#000eff 9.5px,#0014ff 10.5px,#00f 12.5px,#0000d9 14.5px,#0000a6 15.5px,#000094 16.5px,#000094 27.5px,#0000b7 28.5px,#00e 30.5px,#0006ff 31.5px,#001fff 32.5px,#0091ff 35.5px,#00f4ff 38.5px,#26ffd9 39.5px,#67ff98 40.5px,#fffb00 42.5px,#ff6300 44.5px,#ff2000 45.5px,#e70000 46.5px,#c10000 47.5px,#b40000 48.5px,#9d0000 52.5px,#a00000 54.5px,#af0000 56.5px,#bc0000 57.5px,#d90000 58.5px,#ff1a00 59.5px,#ff6c00 60.5px,#ffca00 61.5px,#e2ff1d 62.5px,#4cffb3 64.5px,#10ffef 65.5px,#00e0ff 66.5px,#0021ff 71.5px,#0003ff 72.5px,#0000e7 73.5px,#000094 75.5px,#00009a 91.5px,#000094 107.5px,#00009e 108.5px,#0000b5 109.5px,#0000e3 110.5px,#0000f9 111.5px,#0013ff 112.5px,#004eff 114.5px,#06fff9 119.5px,#64ff9b 122.5px,#af5 125.5px,#c7ff38 127.5px,#daff25 130.5px,#cfff30 132.5px,#73ff8c 138.5px,#5fffa0 139.5px,#3effc1 140.5px,#13ffec 141.5px,#00eaff 142.5px,#003cff 148.5px,#0031ff 149.5px,#0047ff 151.5px,#08f 155.5px,#008cff 157.5px,#007eff 159.5px,#0062ff 161.5px,#0010ff 165.5px,#0000f5 166.5px,#0000d2 167.5px,#000094 168.5px,#000094 202px)"></i><i style="top:27px;background:linear-gradient(90deg,#000094 0px,#000097 5.5px,#0000d0 6.5px,#0000f7 8.5px,#0005ff 9.5px,#000aff 10.5px,#0005ff 11.5px,#0000e7 13.5px,#0000d0 14.5px,#000097 15.5px,#000094 26.5px,#0000a0 27.5px,#0000f3 30.5px,#000bff 31.5px,#0025ff 32.5px,#009aff 35.5px,#00fbff 38.5px,#30ffcf 39.5px,#c1ff3e 41.5px,#fff100 42.5px,#ff5c00 44.5px,#ff1c00 45.5px,#e20000 46.5px,#be0000 47.5px,#b20000 48.5px,#9a0000 52.5px,#9d0000 54.5px,#ac0000 56.5px,#b80000 57.5px,#d10000 58.5px,#f10 59.5px,#ff6000 60.5px,#ffbf00 61.5px,#ecff13 62.5px,#5fa 64.5px,#17ffe8 65.5px,#00e6ff 66.5px,#0025ff 71.5px,#0007ff 72.5px,#0000eb 73.5px,#00009d 75.5px,#000094 76.5px,#000094 106.5px,#000098 107.5px,#0000ca 109.5px,#0000eb 110.5px,#0002ff 111.5px,#0057ff 114.5px,#00e8ff 118.5px,#0efff1 119.5px,#6eff91 122.5px,#b5ff4a 125.5px,#d1ff2e 127.5px,#e1ff1e 130.5px,#d9ff26 132.5px,#8f7 138.5px,#75ff8a 139.5px,#00f8ff 142.5px,#0086ff 146.5px,#003fff 148.5px,#0034ff 149.5px,#004aff 151.5px,#007fff 154.5px,#008fff 156.5px,#0086ff 158.5px,#006eff 160.5px,#004eff 162.5px,#000dff 165.5px,#0000f3 166.5px,#0000d0 167.5px,#000094 168.5px,#000094 202px)"></i><i style="top:28px;background:linear-gradient(90deg,#000094 0px,#000094 5.5px,#0000c7 6.5px,#00d 7.5px,#0000fa 9.5px,#00f 10.5px,#0000fa 11.5px,#00d 13.5px,#0000c7 14.5px,#000094 15.5px,#000094 25.5px,#009 26.5px,#0000a9 27.5px,#0000f7 30.5px,#000fff 31.5px,#002aff 32.5px,#00a0ff 35.5px,#03fffc 38.5px,#3affc5 39.5px,#cf3 41.5px,#ffe800 42.5px,#ff5700 44.5px,#ff1800 45.5px,#de0000 46.5px,#bc0000 47.5px,#b10000 48.5px,#9c0000 51.5px,#900 53.5px,#a20000 55.5px,#b50000 57.5px,#cb0000 58.5px,#ff0800 59.5px,#f50 60.5px,#ffb500 61.5px,#f5ff0a 62.5px,#5effa1 64.5px,#1effe1 65.5px,#00ecff 66.5px,#002aff 71.5px,#000bff 72.5px,#0000ef 73.5px,#0000a7 75.5px,#000094 76.5px,#000094 106.5px,#0000a3 107.5px,#0000f2 110.5px,#000aff 111.5px,#0025ff 112.5px,#0083ff 115.5px,#00f0ff 118.5px,#16ffe9 119.5px,#75ff8a 122.5px,#bcff43 125.5px,#d6ff29 127.5px,#e6ff19 130.5px,#e0ff1f 132.5px,#95ff6a 138.5px,#82ff7d 139.5px,#60ff9f 140.5px,#06fff9 142.5px,#00e5ff 143.5px,#008fff 146.5px,#0045ff 148.5px,#0038ff 149.5px,#004eff 151.5px,#0082ff 154.5px,#0090ff 156.5px,#0084ff 158.5px,#006aff 160.5px,#0037ff 163.5px,#000bff 165.5px,#0000f1 166.5px,#0000ce 167.5px,#000094 168.5px,#000094 202px)"></i><i style="top:29px;background:linear-gradient(90deg,#000094 0px,#000094 5.5px,#0000be 6.5px,#0000e7 8.5px,#0000f5 10.5px,#0000e7 12.5px,#0000be 14.5px,#000094 15.5px,#000094 25.5px,#0000ad 27.5px,#0000fa 30.5px,#002fff 32.5px,#00a4ff 35.5px,#00e1ff 37.5px,#0afff5 38.5px,#43ffbc 39.5px,#d5ff2a 41.5px,#ffe000 42.5px,#ff5200 44.5px,#ff1400 45.5px,#db0000 46.5px,#b00 47.5px,#a70000 49.5px,#900 52.5px,#9c0000 54.5px,#b40000 57.5px,#c80000 58.5px,#f00 59.5px,#ff4b00 60.5px,#fa0 61.5px,#feff01 62.5px,#67ff98 64.5px,#27ffd8 65.5px,#00f3ff 66.5px,#002fff 71.5px,#000fff 72.5px,#0000f2 73.5px,#0000ac 75.5px,#000094 76.5px,#000094 106.5px,#0000f9 110.5px,#01f 111.5px,#002eff 112.5px,#00afff 116.5px,#00f8ff 118.5px,#1effe1 119.5px,#7bff84 122.5px,#bdff42 125.5px,#dfff20 128.5px,#e9ff16 131.5px,#daff25 133.5px,#87ff78 139.5px,#68ff97 140.5px,#1fe 142.5px,#00ecff 143.5px,#0093ff 146.5px,#004dff 148.5px,#003eff 149.5px,#0051ff 151.5px,#0086ff 154.5px,#0092ff 156.5px,#0076ff 159.5px,#0046ff 162.5px,#0009ff 165.5px,#0000ef 166.5px,#0000cb 167.5px,#000094 168.5px,#000094 202px)"></i><i style="top:30px;background:linear-gradient(90deg,#000094 0px,#000094 5.5px,#0000b5 6.5px,#0000db 8.5px,#0000eb 10.5px,#0000db 12.5px,#0000b5 14.5px,#000094 15.5px,#000094 25.5px,#0000b1 27.5px,#0000fe 30.5px,#0034ff 32.5px,#00a7ff 35.5px,#00e6ff 37.5px,#1fe 38.5px,#4bffb4 39.5px,#deff21 41.5px,#ffd800 42.5px,#ff4c00 44.5px,#ff1000 45.5px,#d80000 46.5px,#b00 47.5px,#b00000 48.5px,#9c0000 51.5px,#900 53.5px,#a10000 55.5px,#b30000 57.5px,#c60000 58.5px,#f70000 59.5px,#ff4100 60.5px,#fff700 62.5px,#b8ff47 63.5px,#2fffd0 65.5px,#00faff 66.5px,#0034ff 71.5px,#0014ff 72.5px,#0000f6 73.5px,#000094 76.5px,#000094 106.5px,#00f 110.5px,#0037ff 112.5px,#01fffe 118.5px,#6f9 121.5px,#beff41 125.5px,#e0ff1f 128.5px,#ecff13 131.5px,#deff21 133.5px,#8dff72 139.5px,#70ff8f 140.5px,#1cffe3 142.5px,#00f4ff 143.5px,#05f 148.5px,#0045ff 149.5px,#0053ff 151.5px,#0086ff 154.5px,#0090ff 156.5px,#0071ff 159.5px,#002fff 163.5px,#0005ff 165.5px,#0000ec 166.5px,#0000c8 167.5px,#000094 168.5px,#000094 202px)"></i><i style="top:31px;background:linear-gradient(90deg,#000094 0px,#000094 5.5px,#0000ce 8.5px,#00d 10.5px,#0000ce 12.5px,#000094 15.5px,#000094 25.5px,#0000b5 27.5px,#0002ff 30.5px,#0038ff 32.5px,#00abff 35.5px,#00ebff 37.5px,#18ffe7 38.5px,#54ffab 39.5px,#e7ff18 41.5px,#ffd000 42.5px,#ff4700 44.5px,#ff0c00 45.5px,#d50000 46.5px,#ba0000 47.5px,#a60000 49.5px,#900 53.5px,#b20000 57.5px,#c30000 58.5px,#ef0000 59.5px,#ff3700 60.5px,#fe0 62.5px,#c1ff3e 63.5px,#37ffc8 65.5px,#01fffe 66.5px,#0039ff 71.5px,#0000fa 73.5px,#000094 76.5px,#000094 106.5px,#0000bc 107.5px,#0000ef 109.5px,#0006ff 110.5px,#001fff 111.5px,#00e2ff 117.5px,#08fff7 118.5px,#6dff92 121.5px,#aeff51 124.5px,#d9ff26 127.5px,#eaff15 129.5px,#efff10 131.5px,#e2ff1d 133.5px,#92ff6d 139.5px,#54ffab 141.5px,#00fbff 143.5px,#007aff 147.5px,#005dff 148.5px,#004cff 149.5px,#004aff 150.5px,#0081ff 154.5px,#0089ff 156.5px,#006aff 159.5px,#0029ff 163.5px,#0001ff 165.5px,#0000e9 166.5px,#0000c5 167.5px,#000094 168.5px,#000094 202px)"></i><i style="top:32px;background:linear-gradient(90deg,#000094 0px,#000094 5.5px,#0000c2 8.5px,#0000cd 10.5px,#0000c2 12.5px,#000094 15.5px,#000094 25.5px,#0000b8 27.5px,#00e 29.5px,#0005ff 30.5px,#003dff 32.5px,#008cff 34.5px,#00efff 37.5px,#1effe1 38.5px,#5dffa2 39.5px,#f0ff0f 41.5px,#ffc800 42.5px,#ff4200 44.5px,#ff0800 45.5px,#d20000 46.5px,#b90000 47.5px,#a60000 49.5px,#900 53.5px,#b10000 57.5px,#c00000 58.5px,#e70000 59.5px,#ff2c00 60.5px,#ffe500 62.5px,#caff35 63.5px,#3fffc0 65.5px,#08fff7 66.5px,#00dbff 67.5px,#003eff 71.5px,#0000fe 73.5px,#0000e3 74.5px,#000094 76.5px,#000094 106.5px,#0000c4 107.5px,#0000f4 109.5px,#000cff 110.5px,#0026ff 111.5px,#0091ff 114.5px,#00eaff 117.5px,#10ffef 118.5px,#59ffa6 120.5px,#74ff8b 121.5px,#b0ff4f 124.5px,#e4ff1b 128.5px,#f2ff0d 131.5px,#dbff24 134.5px,#97ff68 139.5px,#60ff9f 141.5px,#04fffb 143.5px,#00dfff 144.5px,#0081ff 147.5px,#0053ff 149.5px,#004cff 150.5px,#007dff 154.5px,#0082ff 156.5px,#0063ff 159.5px,#0000fb 165.5px,#0000e5 166.5px,#000094 168.5px,#000094 202px)"></i><i style="top:33px;background:linear-gradient(90deg,#000094 0px,#000097 6.5px,#0000b1 8.5px,#0000c1 10.5px,#0000b1 12.5px,#000097 14.5px,#000094 25.5px,#0000bc 27.5px,#0000f1 29.5px,#0009ff 30.5px,#0021ff 31.5px,#0090ff 34.5px,#00f4ff 37.5px,#25ffda 38.5px,#65ff9a 39.5px,#f9ff06 41.5px,#ff3d00 44.5px,#ff0400 45.5px,#ce0000 46.5px,#b80000 47.5px,#a60000 49.5px,#900 53.5px,#b00000 57.5px,#bd0000 58.5px,#e00000 59.5px,#f20 60.5px,#ffdc00 62.5px,#d3ff2c 63.5px,#47ffb8 65.5px,#0ffff0 66.5px,#00e1ff 67.5px,#0021ff 72.5px,#0003ff 73.5px,#0000e7 74.5px,#000094 76.5px,#000094 104.5px,#000095 105.5px,#0000a5 106.5px,#00c 107.5px,#0000fa 109.5px,#002dff 111.5px,#009cff 114.5px,#00f3ff 117.5px,#17ffe8 118.5px,#61ff9e 120.5px,#a3ff5c 123.5px,#e5ff1a 128.5px,#f5ff0a 131.5px,#dfff20 134.5px,#9dff62 139.5px,#6bff94 141.5px,#0cfff3 143.5px,#00e4ff 144.5px,#006eff 148.5px,#004eff 150.5px,#0079ff 154.5px,#007cff 156.5px,#006aff 158.5px,#000bff 164.5px,#0000f6 165.5px,#0000e0 166.5px,#000094 168.5px,#000094 202px)"></i><i style="top:34px;background:linear-gradient(90deg,#000094 0px,#000094 7.5px,#0000a2 9.5px,#0000b9 10.5px,#0000a2 11.5px,#000094 13.5px,#000094 25.5px,#0000f4 29.5px,#000cff 30.5px,#0025ff 31.5px,#0095ff 34.5px,#00f8ff 37.5px,#2cffd3 38.5px,#fffb00 41.5px,#ff7600 43.5px,#f00 45.5px,#cb0000 46.5px,#b70000 47.5px,#9b0000 51.5px,#9b0000 54.5px,#a60000 56.5px,#ba0000 58.5px,#d80000 59.5px,#ff1800 60.5px,#ffd300 62.5px,#dcff23 63.5px,#4fffb0 65.5px,#16ffe9 66.5px,#00e6ff 67.5px,#0025ff 72.5px,#0007ff 73.5px,#0000eb 74.5px,#00009d 76.5px,#000094 77.5px,#000094 104.5px,#0000b7 106.5px,#0000d4 107.5px,#0001ff 109.5px,#0035ff 111.5px,#00a8ff 114.5px,#00fbff 117.5px,#1fffe0 118.5px,#69ff96 120.5px,#96ff69 122.5px,#e7ff18 128.5px,#f8ff07 131.5px,#e4ff1b 134.5px,#90ff6f 140.5px,#7f8 141.5px,#13ffec 143.5px,#00e9ff 144.5px,#008eff 147.5px,#0051ff 150.5px,#0074ff 154.5px,#0075ff 156.5px,#05f 159.5px,#0005ff 164.5px,#0000f2 165.5px,#0000ba 167.5px,#000094 169.5px,#000094 202px)"></i><i style="top:35px;background:linear-gradient(90deg,#000094 0px,#000094 9.5px,#0000b0 10.5px,#000094 11.5px,#000094 24.5px,#0000ad 26.5px,#0000f9 29.5px,#002aff 31.5px,#09f 34.5px,#00fcff 37.5px,#30ffcf 38.5px,#fff800 41.5px,#ff7400 43.5px,#fe0000 45.5px,#c00 46.5px,#b90000 47.5px,#9c0000 51.5px,#9c0000 54.5px,#a70000 56.5px,#b00 58.5px,#d50000 59.5px,#ff1400 60.5px,#ffcf00 62.5px,#e1ff1e 63.5px,#56ffa9 65.5px,#1cffe3 66.5px,#00ecff 67.5px,#002bff 72.5px,#000cff 73.5px,#0000f0 74.5px,#0000a8 76.5px,#000094 77.5px,#000094 103.5px,#0000b1 105.5px,#0000f2 108.5px,#0008ff 109.5px,#003cff 111.5px,#00b0ff 114.5px,#03fffc 117.5px,#70ff8f 120.5px,#9cff63 122.5px,#e9ff16 128.5px,#fcff03 131.5px,#e7ff18 134.5px,#96ff69 140.5px,#7fff80 141.5px,#52ffad 142.5px,#1affe5 143.5px,#00f0ff 144.5px,#0095ff 147.5px,#0057ff 150.5px,#0070ff 154.5px,#006fff 156.5px,#005cff 158.5px,#0000fe 164.5px,#0000ed 165.5px,#0000b6 167.5px,#00a 168.5px,#000094 169.5px,#000094 202px)"></i><i style="top:36px;background:linear-gradient(90deg,#000094 0px,#000094 9.5px,#0000a8 10.5px,#000094 11.5px,#000094 24.5px,#0000b4 26.5px,#0000fd 29.5px,#0030ff 31.5px,#00feff 37.5px,#3fc 38.5px,#fffa00 41.5px,#f70 43.5px,#ff0200 45.5px,#d00000 46.5px,#bd0000 47.5px,#a90000 49.5px,#9b0000 53.5px,#b30000 57.5px,#bf0000 58.5px,#d90000 59.5px,#ff1700 60.5px,#ffcf00 62.5px,#e2ff1d 63.5px,#5affa5 65.5px,#2fd 66.5px,#00f2ff 67.5px,#03f 72.5px,#0013ff 73.5px,#0000f6 74.5px,#000094 77.5px,#000094 103.5px,#0000fb 108.5px,#0010ff 109.5px,#04f 111.5px,#00b6ff 114.5px,#00ecff 116.5px,#0afff5 117.5px,#76ff89 120.5px,#a1ff5e 122.5px,#f7ff08 129.5px,#fffd00 131.5px,#fdff02 132.5px,#eaff15 134.5px,#9aff65 140.5px,#83ff7c 141.5px,#21ffde 143.5px,#00f7ff 144.5px,#009cff 147.5px,#005fff 150.5px,#005aff 151.5px,#006cff 154.5px,#0068ff 156.5px,#05f 158.5px,#000aff 163.5px,#0000f9 164.5px,#0000e8 165.5px,#0000b6 167.5px,#000094 169.5px,#000094 202px)"></i><i style="top:37px;background:linear-gradient(90deg,#000094 0px,#000094 9.5px,#0000a0 10.5px,#000094 11.5px,#000094 24.5px,#0003ff 29.5px,#0035ff 31.5px,#02fffd 37.5px,#35ffca 38.5px,#fffc00 41.5px,#ff7a00 43.5px,#ff0400 45.5px,#d40000 46.5px,#ac0000 49.5px,#9d0000 53.5px,#a50000 55.5px,#b60000 57.5px,#c30000 58.5px,#dc0000 59.5px,#ff1a00 60.5px,#ffcf00 62.5px,#e3ff1c 63.5px,#5fffa0 65.5px,#28ffd7 66.5px,#00f8ff 67.5px,#003bff 72.5px,#0000fc 74.5px,#0000df 75.5px,#000094 77.5px,#000094 103.5px,#0000b4 104.5px,#0000f1 107.5px,#0004ff 108.5px,#0031ff 110.5px,#004cff 111.5px,#0bf 114.5px,#00f2ff 116.5px,#1fe 117.5px,#7dff82 120.5px,#a6ff59 122.5px,#faff05 129.5px,#fff800 131.5px,#fffd00 132.5px,#e0ff1f 135.5px,#9fff60 140.5px,#8f7 141.5px,#28ffd7 143.5px,#00feff 144.5px,#00a3ff 147.5px,#06f 150.5px,#005bff 151.5px,#0067ff 154.5px,#0061ff 156.5px,#004eff 158.5px,#0003ff 163.5px,#0000e3 165.5px,#0000c9 166.5px,#000094 169.5px,#000094 202px)"></i><i style="top:38px;background:linear-gradient(90deg,#000094 0px,#000094 24.5px,#0000f3 28.5px,#0008ff 29.5px,#003bff 31.5px,#04fffb 37.5px,#37ffc8 38.5px,#fffe00 41.5px,#ff7d00 43.5px,#ff0700 45.5px,#d80000 46.5px,#ae0000 49.5px,#a10000 51.5px,#9e0000 53.5px,#af0000 56.5px,#c70000 58.5px,#df0000 59.5px,#ff1d00 60.5px,#ff7100 61.5px,#ffcf00 62.5px,#e5ff1a 63.5px,#64ff9b 65.5px,#00feff 67.5px,#0020ff 73.5px,#0003ff 74.5px,#0000e7 75.5px,#000094 77.5px,#000094 103.5px,#0000be 104.5px,#0000f9 107.5px,#0021ff 109.5px,#05f 111.5px,#009fff 113.5px,#00f9ff 116.5px,#18ffe7 117.5px,#83ff7c 120.5px,#abff54 122.5px,#feff01 129.5px,#fff300 131.5px,#fff900 132.5px,#efff10 134.5px,#a3ff5c 140.5px,#8cff73 141.5px,#06fff9 144.5px,#00e2ff 145.5px,#0093ff 148.5px,#0060ff 151.5px,#0063ff 154.5px,#005bff 156.5px,#0047ff 158.5px,#0000fc 163.5px,#000094 169.5px,#000094 202px)"></i><i style="top:39px;background:linear-gradient(90deg,#000094 0px,#000094 24.5px,#0000b3 25.5px,#0000f8 28.5px,#000dff 29.5px,#0041ff 31.5px,#00e0ff 36.5px,#06fff9 37.5px,#39ffc6 38.5px,#7f8 39.5px,#ff0 41.5px,#ff0a00 45.5px,#dc0000 46.5px,#b10000 49.5px,#a30000 51.5px,#a00000 53.5px,#b10000 56.5px,#c00 58.5px,#e30000 59.5px,#ff2000 60.5px,#ff7200 61.5px,#ffcf00 62.5px,#e6ff19 63.5px,#68ff97 65.5px,#3fc 66.5px,#05fffa 67.5px,#00deff 68.5px,#009aff 70.5px,#0027ff 73.5px,#0009ff 74.5px,#0000ec 75.5px,#0000c8 76.5px,#000094 77.5px,#000094 103.5px,#0000c8 104.5px,#0000f0 106.5px,#0002ff 107.5px,#0042ff 110.5px,#005dff 111.5px,#00c5ff 114.5px,#0ff 116.5px,#8aff75 120.5px,#b0ff4f 122.5px,#fffd00 129.5px,#fe0 131.5px,#fff500 132.5px,#fdff02 133.5px,#a7ff58 140.5px,#90ff6f 141.5px,#0dfff2 144.5px,#00e9ff 145.5px,#009aff 148.5px,#0067ff 151.5px,#0054ff 156.5px,#0040ff 158.5px,#0004ff 162.5px,#0000f6 163.5px,#00a 168.5px,#000094 169.5px,#000094 202px)"></i><i style="top:40px;background:linear-gradient(90deg,#000094 0px,#000095 24.5px,#0000b9 25.5px,#0000fd 28.5px,#002aff 30.5px,#00e3ff 36.5px,#09fff6 37.5px,#3bffc4 38.5px,#78ff87 39.5px,#fdff02 41.5px,#ff0c00 45.5px,#e00000 46.5px,#bf0000 48.5px,#ab0000 50.5px,#a10000 53.5px,#b40000 56.5px,#d00000 58.5px,#e60000 59.5px,#ff2300 60.5px,#ff7300 61.5px,#ffcf00 62.5px,#e8ff17 63.5px,#6dff92 65.5px,#39ffc6 66.5px,#0bfff4 67.5px,#00e4ff 68.5px,#00a2ff 70.5px,#002eff 73.5px,#000fff 74.5px,#0000f2 75.5px,#0000d0 76.5px,#00009d 77.5px,#000094 78.5px,#000094 103.5px,#0000d3 104.5px,#0000f7 106.5px,#000aff 107.5px,#004aff 110.5px,#0065ff 111.5px,#00caff 114.5px,#06fff9 116.5px,#90ff6f 120.5px,#b6ff49 122.5px,#fff900 129.5px,#ffe900 131.5px,#fffe00 133.5px,#acff53 140.5px,#94ff6b 141.5px,#15ffea 144.5px,#00f0ff 145.5px,#00b8ff 147.5px,#007cff 150.5px,#0062ff 152.5px,#04f 157.5px,#0000fd 162.5px,#00a 168.5px,#000094 169.5px,#000094 202px)"></i><i style="top:41px;background:linear-gradient(90deg,#000094 0px,#000094 23.5px,#0000a4 24.5px,#00e 27.5px,#0003ff 28.5px,#002fff 30.5px,#00e5ff 36.5px,#0bfff4 37.5px,#79ff86 39.5px,#fbff04 41.5px,#ff0f00 45.5px,#e40000 46.5px,#c20000 48.5px,#ad0000 50.5px,#a30000 53.5px,#b70000 56.5px,#e90000 59.5px,#ff2600 60.5px,#ff7400 61.5px,#ffcf00 62.5px,#e9ff16 63.5px,#72ff8d 65.5px,#3fffc0 66.5px,#1fe 67.5px,#00eaff 68.5px,#00abff 70.5px,#0035ff 73.5px,#0015ff 74.5px,#0000f7 75.5px,#0000d8 76.5px,#0000ae 77.5px,#000094 78.5px,#000094 102.5px,#0000a0 103.5px,#00d 104.5px,#00f 106.5px,#0053ff 110.5px,#00edff 115.5px,#0cfff3 116.5px,#97ff68 120.5px,#bf4 122.5px,#faff05 128.5px,#ffe700 130.5px,#ffe400 131.5px,#fffc00 133.5px,#b0ff4f 140.5px,#9f6 141.5px,#1cffe3 144.5px,#00f7ff 145.5px,#00bfff 147.5px,#0084ff 150.5px,#005cff 153.5px,#003eff 157.5px,#0000fc 162.5px,#00a 168.5px,#000094 169.5px,#000094 202px)"></i><i style="top:42px;background:linear-gradient(90deg,#000094 0px,#000094 22.5px,#0000b1 24.5px,#0000f3 27.5px,#0008ff 28.5px,#0034ff 30.5px,#00e7ff 36.5px,#0efff1 37.5px,#7aff85 39.5px,#f8ff07 41.5px,#ff1200 45.5px,#e90000 46.5px,#c80000 48.5px,#b20000 50.5px,#a80000 53.5px,#bc0000 56.5px,#e00 59.5px,#ff2900 60.5px,#ff7600 61.5px,#ffcf00 62.5px,#eaff15 63.5px,#adff52 64.5px,#43ffbc 66.5px,#17ffe8 67.5px,#00efff 68.5px,#00b1ff 70.5px,#003cff 73.5px,#0000fd 75.5px,#0000e1 76.5px,#000098 78.5px,#000094 79.5px,#000094 101.5px,#0000af 103.5px,#0000e6 104.5px,#0000f6 105.5px,#0007ff 106.5px,#0043ff 109.5px,#0075ff 111.5px,#00f2ff 115.5px,#12ffed 116.5px,#9dff62 120.5px,#c0ff3f 122.5px,#fcff03 128.5px,#ffe300 130.5px,#ffdf00 131.5px,#fff900 133.5px,#cfff30 138.5px,#b5ff4a 140.5px,#9dff62 141.5px,#0ff 145.5px,#00c6ff 147.5px,#008bff 150.5px,#0063ff 153.5px,#0000fe 162.5px,#00a 168.5px,#000094 169.5px,#000094 202px)"></i><i style="top:43px;background:linear-gradient(90deg,#000094 0px,#000094 22.5px,#0000f9 27.5px,#000dff 28.5px,#0037ff 30.5px,#00eaff 36.5px,#1fe 37.5px,#7aff85 39.5px,#f5ff0a 41.5px,#fc0 42.5px,#ff1600 45.5px,#ef0000 46.5px,#d00000 48.5px,#b00 50.5px,#b20000 53.5px,#c50000 56.5px,#f40000 59.5px,#ff2c00 60.5px,#f70 61.5px,#ffce00 62.5px,#ebff14 63.5px,#afff50 64.5px,#47ffb8 66.5px,#1bffe4 67.5px,#00f4ff 68.5px,#0092ff 71.5px,#0043ff 73.5px,#0005ff 75.5px,#0000e8 76.5px,#00009f 78.5px,#000094 79.5px,#000094 100.5px,#0000bd 103.5px,#0000ed 104.5px,#0000fd 105.5px,#02f 107.5px,#0064ff 110.5px,#00f8ff 115.5px,#18ffe7 116.5px,#a4ff5b 120.5px,#b8ff47 121.5px,#ff0 128.5px,#ffde00 130.5px,#ffda00 131.5px,#fff600 133.5px,#fbff04 134.5px,#b9ff46 140.5px,#a1ff5e 141.5px,#07fff8 145.5px,#00e6ff 146.5px,#00b7ff 148.5px,#0084ff 151.5px,#0001ff 162.5px,#0000ab 168.5px,#000094 169.5px,#000094 202px)"></i><i style="top:44px;background:linear-gradient(90deg,#000094 0px,#000094 22.5px,#0000b2 23.5px,#00f 27.5px,#0025ff 29.5px,#05f 31.5px,#00ecff 36.5px,#14ffeb 37.5px,#7bff84 39.5px,#f2ff0d 41.5px,#ffd000 42.5px,#ff1900 45.5px,#f50000 46.5px,#c40000 50.5px,#b00 53.5px,#cd0000 56.5px,#fa0000 59.5px,#ff2f00 60.5px,#ff7900 61.5px,#ffce00 62.5px,#ecff13 63.5px,#b1ff4e 64.5px,#4bffb4 66.5px,#20ffdf 67.5px,#00f8ff 68.5px,#0097ff 71.5px,#0029ff 74.5px,#000bff 75.5px,#00e 76.5px,#0000a7 78.5px,#000094 79.5px,#000094 99.5px,#00009a 100.5px,#0000b9 102.5px,#00c 103.5px,#0000f3 104.5px,#0005ff 105.5px,#006cff 110.5px,#00fdff 115.5px,#af5 120.5px,#bdff42 121.5px,#fffc00 128.5px,#ffd900 130.5px,#ffd500 131.5px,#fff300 133.5px,#fdff02 134.5px,#bdff42 140.5px,#a6ff59 141.5px,#0efff1 145.5px,#00edff 146.5px,#00beff 148.5px,#008bff 151.5px,#0003ff 162.5px,#0000ab 168.5px,#000094 169.5px,#000094 202px)"></i><i style="top:45px;background:linear-gradient(90deg,#000094 0px,#000094 22.5px,#00b 23.5px,#0000e3 25.5px,#0005ff 27.5px,#0058ff 31.5px,#00adff 34.5px,#0ef 36.5px,#17ffe8 37.5px,#7bff84 39.5px,#efff10 41.5px,#ffd300 42.5px,#ff1c00 45.5px,#fb0000 46.5px,#cd0000 50.5px,#c50000 53.5px,#d50000 56.5px,#ff0100 59.5px,#ff3200 60.5px,#ff7a00 61.5px,#ffcd00 62.5px,#ecff13 63.5px,#7eff81 65.5px,#24ffdb 67.5px,#00fdff 68.5px,#009cff 71.5px,#0030ff 74.5px,#01f 75.5px,#0000f4 76.5px,#0000ae 78.5px,#000094 79.5px,#000094 99.5px,#0000da 103.5px,#0000fa 104.5px,#001eff 106.5px,#005dff 109.5px,#008eff 111.5px,#03fffc 115.5px,#b1ff4e 120.5px,#c3ff3c 121.5px,#faff05 127.5px,#fff900 128.5px,#ffd400 130.5px,#ffcf00 131.5px,#fffe00 134.5px,#c2ff3d 140.5px,#af5 141.5px,#15ffea 145.5px,#00f4ff 146.5px,#00b3ff 149.5px,#0084ff 152.5px,#0005ff 162.5px,#0000f6 163.5px,#0000ab 168.5px,#000094 169.5px,#000094 202px)"></i><i style="top:46px;background:linear-gradient(90deg,#000094 0px,#000094 21.5px,#00009a 22.5px,#0000c4 23.5px,#0000f9 26.5px,#000bff 27.5px,#0043ff 30.5px,#00adff 34.5px,#00f1ff 36.5px,#1affe5 37.5px,#7cff83 39.5px,#ecff13 41.5px,#ffd700 42.5px,#ff2000 45.5px,#ff0300 46.5px,#f30000 47.5px,#d60000 50.5px,#ce0000 53.5px,#de0000 56.5px,#ff0700 59.5px,#ff3400 60.5px,#fc0 62.5px,#edff12 63.5px,#81ff7e 65.5px,#29ffd6 67.5px,#03fffc 68.5px,#00e0ff 69.5px,#0037ff 74.5px,#0000fa 76.5px,#000094 79.5px,#000094 98.5px,#00009c 99.5px,#0000e7 103.5px,#0001ff 104.5px,#0039ff 107.5px,#0096ff 111.5px,#00e9ff 114.5px,#09fff6 115.5px,#b7ff48 120.5px,#c9ff36 121.5px,#fdff02 127.5px,#fff700 128.5px,#ffd000 130.5px,#ffca00 131.5px,#fffc00 134.5px,#dfff20 138.5px,#c6ff39 140.5px,#aeff51 141.5px,#1cffe3 145.5px,#00fbff 146.5px,#00cdff 148.5px,#009aff 151.5px,#0007ff 162.5px,#0000f7 163.5px,#0000ab 168.5px,#000094 169.5px,#000094 202px)"></i><i style="top:47px;background:linear-gradient(90deg,#000094 0px,#000094 20.5px,#0000ad 22.5px,#0000ce 23.5px,#00f 26.5px,#005dff 31.5px,#00adff 34.5px,#00f3ff 36.5px,#1dffe2 37.5px,#7cff83 39.5px,#e9ff16 41.5px,#ffda00 42.5px,#ff2300 45.5px,#ff0900 46.5px,#fa0000 47.5px,#df0000 50.5px,#d80000 53.5px,#e60000 56.5px,#fd0000 58.5px,#ff0d00 59.5px,#ff3700 60.5px,#fc0 62.5px,#edff12 63.5px,#84ff7b 65.5px,#2dffd2 67.5px,#08fff7 68.5px,#00e4ff 69.5px,#00f 76.5px,#0000e4 77.5px,#000094 79.5px,#000094 98.5px,#0000f0 103.5px,#0007ff 104.5px,#0041ff 107.5px,#009eff 111.5px,#0ef 114.5px,#0efff1 115.5px,#bdff42 120.5px,#cfff30 121.5px,#fffe00 127.5px,#fff400 128.5px,#ffcb00 130.5px,#ffc500 131.5px,#fff900 134.5px,#e2ff1d 138.5px,#cbff34 140.5px,#b3ff4c 141.5px,#03fffc 146.5px,#00e9ff 147.5px,#0092ff 152.5px,#0009ff 162.5px,#0000f9 163.5px,#0000ab 168.5px,#000094 169.5px,#000094 202px)"></i><i style="top:48px;background:linear-gradient(90deg,#000094 0px,#000094 20.5px,#0000b2 21.5px,#0000d7 23.5px,#0006ff 26.5px,#004aff 30.5px,#07f 32.5px,#00adff 34.5px,#00f6ff 36.5px,#20ffdf 37.5px,#7dff82 39.5px,#e5ff1a 41.5px,#ffde00 42.5px,#ff2700 45.5px,#ff0f00 46.5px,#ff0200 47.5px,#f60000 48.5px,#e70000 50.5px,#e10000 53.5px,#f80000 57.5px,#ff1300 59.5px,#ff3a00 60.5px,#ffcb00 62.5px,#ef1 63.5px,#87ff78 65.5px,#32ffcd 67.5px,#0cfff3 68.5px,#00e8ff 69.5px,#0006ff 76.5px,#0000ea 77.5px,#00009d 79.5px,#000094 80.5px,#000094 97.5px,#009 98.5px,#0000f9 103.5px,#0021ff 105.5px,#005fff 108.5px,#00f4ff 114.5px,#14ffeb 115.5px,#a4ff5b 119.5px,#c4ff3b 120.5px,#d5ff2a 121.5px,#fffc00 127.5px,#fff100 128.5px,#ffc600 130.5px,#ffc000 131.5px,#fff700 134.5px,#fdff02 135.5px,#e6ff19 138.5px,#cfff30 140.5px,#b7ff48 141.5px,#0afff5 146.5px,#00f0ff 147.5px,#09f 152.5px,#0000fa 163.5px,#0000ab 168.5px,#000094 169.5px,#000094 202px)"></i><i style="top:49px;background:linear-gradient(90deg,#000094 0px,#000094 20.5px,#00b 21.5px,#0000fa 25.5px,#001aff 27.5px,#0063ff 31.5px,#00afff 34.5px,#00f7ff 36.5px,#21ffde 37.5px,#e1ff1e 41.5px,#ffe400 42.5px,#ff3100 45.5px,#ff1a00 46.5px,#f00 48.5px,#eb0000 51.5px,#e90000 53.5px,#f00 57.5px,#ff0c00 58.5px,#ff1b00 59.5px,#ff4100 60.5px,#ffcd00 62.5px,#efff10 63.5px,#89ff76 65.5px,#5effa1 66.5px,#1fe 68.5px,#0ef 69.5px,#000eff 76.5px,#0000f1 77.5px,#00a 79.5px,#000094 80.5px,#000094 97.5px,#0000a0 98.5px,#0000f2 102.5px,#0005ff 103.5px,#0054ff 107.5px,#00fbff 114.5px,#1bffe4 115.5px,#c8ff37 120.5px,#d8ff27 121.5px,#eaff15 123.5px,#fff900 127.5px,#fe0 128.5px,#ffc300 130.5px,#ffbd00 131.5px,#ffe500 133.5px,#fffe00 135.5px,#d2ff2d 140.5px,#bf4 141.5px,#1fe 146.5px,#00f7ff 147.5px,#009eff 152.5px,#0000fb 163.5px,#0000ab 168.5px,#000094 169.5px,#000094 202px)"></i><i style="top:50px;background:linear-gradient(90deg,#000094 0px,#000094 20.5px,#00b 21.5px,#0000fb 25.5px,#001cff 27.5px,#0067ff 31.5px,#00b2ff 34.5px,#00f7ff 36.5px,#20ffdf 37.5px,#dbff24 41.5px,#fe0 42.5px,#ff4200 45.5px,#ff1700 47.5px,#fe0000 49.5px,#e00 53.5px,#fd0000 56.5px,#ff1400 58.5px,#ff2400 59.5px,#ff4b00 60.5px,#ffcf00 62.5px,#f0ff0f 63.5px,#8aff75 65.5px,#60ff9f 66.5px,#17ffe8 68.5px,#00f6ff 69.5px,#009dff 72.5px,#0018ff 76.5px,#0000f9 77.5px,#000094 80.5px,#000094 97.5px,#0000fd 102.5px,#0063ff 107.5px,#00ebff 113.5px,#06fff9 114.5px,#abff54 119.5px,#c9ff36 120.5px,#d9ff26 121.5px,#feff01 126.5px,#ffec00 128.5px,#ffc200 130.5px,#ffbc00 131.5px,#ffe200 133.5px,#fffc00 135.5px,#ebff14 138.5px,#d4ff2b 140.5px,#beff41 141.5px,#19ffe6 146.5px,#0ff 147.5px,#00a2ff 152.5px,#0000fb 163.5px,#0000ab 168.5px,#000094 169.5px,#000094 202px)"></i><i style="top:51px;background:linear-gradient(90deg,#000094 0px,#000094 20.5px,#0000bc 21.5px,#0000fd 25.5px,#002fff 28.5px,#006bff 31.5px,#00b5ff 34.5px,#00f7ff 36.5px,#1fffe0 37.5px,#d5ff2a 41.5px,#fff700 42.5px,#ff5300 45.5px,#f20 47.5px,#fe0000 50.5px,#f40000 53.5px,#fb0000 55.5px,#ff1b00 58.5px,#ff2d00 59.5px,#ff5600 60.5px,#ffd200 62.5px,#f2ff0d 63.5px,#8cff73 65.5px,#62ff9d 66.5px,#00fdff 69.5px,#00a7ff 72.5px,#0002ff 77.5px,#0000e6 78.5px,#000094 80.5px,#000094 97.5px,#0000f3 101.5px,#0008ff 102.5px,#00f6ff 113.5px,#10ffef 114.5px,#2bffd4 115.5px,#caff35 120.5px,#d9ff26 121.5px,#fffe00 126.5px,#ffe900 128.5px,#ffc000 130.5px,#fb0 131.5px,#fff900 135.5px,#ecff13 138.5px,#d7ff28 140.5px,#a5ff5a 142.5px,#21ffde 146.5px,#07fff8 147.5px,#00efff 148.5px,#0095ff 153.5px,#0000fc 163.5px,#00a 168.5px,#000094 169.5px,#000094 202px)"></i><i style="top:52px;background:linear-gradient(90deg,#000094 0px,#000094 20.5px,#0000bc 21.5px,#0000fe 25.5px,#0032ff 28.5px,#006fff 31.5px,#00b7ff 34.5px,#00f7ff 36.5px,#1effe1 37.5px,#fdff02 42.5px,#ff6400 45.5px,#ff4500 46.5px,#ff1b00 48.5px,#fe0000 51.5px,#f90000 53.5px,#ff0200 55.5px,#ff1500 57.5px,#ff3700 59.5px,#ff6000 60.5px,#ffd500 62.5px,#f3ff0c 63.5px,#8dff72 65.5px,#64ff9b 66.5px,#06fff9 69.5px,#00eaff 70.5px,#00b1ff 72.5px,#000bff 77.5px,#00e 78.5px,#0000ca 79.5px,#000094 80.5px,#000094 97.5px,#0000e7 100.5px,#0000fb 101.5px,#02fffd 113.5px,#34ffcb 115.5px,#b0ff4f 119.5px,#cbff34 120.5px,#daff25 121.5px,#fffd00 126.5px,#ffe700 128.5px,#ffbf00 130.5px,#ffba00 131.5px,#fff700 135.5px,#feff01 136.5px,#e5ff1a 139.5px,#c5ff3a 141.5px,#29ffd6 146.5px,#0efff1 147.5px,#00f5ff 148.5px,#0098ff 153.5px,#0000fc 163.5px,#00a 168.5px,#000094 169.5px,#000094 202px)"></i><i style="top:53px;background:linear-gradient(90deg,#000094 0px,#000094 20.5px,#0000bc 21.5px,#0001ff 25.5px,#0034ff 28.5px,#0074ff 31.5px,#00baff 34.5px,#00f7ff 36.5px,#1dffe2 37.5px,#f4ff0b 42.5px,#ffda00 43.5px,#ff7500 45.5px,#ff3800 47.5px,#ff2400 48.5px,#ff0d00 50.5px,#f00 53.5px,#f10 56.5px,#ff2a00 58.5px,#ff4000 59.5px,#ff6b00 60.5px,#ffd800 62.5px,#f4ff0b 63.5px,#8eff71 65.5px,#6f9 66.5px,#0dfff2 69.5px,#00f3ff 70.5px,#009cff 73.5px,#0013ff 77.5px,#0000f5 78.5px,#0000d5 79.5px,#000094 80.5px,#000094 97.5px,#0000b9 98.5px,#0000ed 100.5px,#0004ff 101.5px,#0067ff 105.5px,#00f7ff 112.5px,#0dfff2 113.5px,#3cffc3 115.5px,#b3ff4c 119.5px,#cf3 120.5px,#dbff24 121.5px,#fffb00 126.5px,#ffe400 128.5px,#ffbe00 130.5px,#ffb800 131.5px,#fffe00 136.5px,#e6ff19 139.5px,#c9ff36 141.5px,#91ff6e 143.5px,#31ffce 146.5px,#00fcff 148.5px,#009aff 153.5px,#0000fc 163.5px,#000094 169.5px,#000094 202px)"></i><i style="top:54px;background:linear-gradient(90deg,#000094 0px,#000094 20.5px,#0000bd 21.5px,#0000e3 23.5px,#0002ff 25.5px,#0061ff 30.5px,#00bdff 34.5px,#00f7ff 36.5px,#1cffe3 37.5px,#ebff14 42.5px,#ffe700 43.5px,#ff8600 45.5px,#f40 47.5px,#ff2d00 48.5px,#ff0c00 51.5px,#ff0600 53.5px,#ff0e00 55.5px,#ff3100 58.5px,#ff4900 59.5px,#ffdb00 62.5px,#f5ff0a 63.5px,#8fff70 65.5px,#69ff96 66.5px,#2effd1 68.5px,#00fcff 70.5px,#00a7ff 73.5px,#001bff 77.5px,#0000fd 78.5px,#0000e0 79.5px,#00009d 80.5px,#000094 81.5px,#000094 97.5px,#0000bf 98.5px,#0000f4 100.5px,#000cff 101.5px,#0076ff 105.5px,#04fffb 112.5px,#45ffba 115.5px,#cdff32 120.5px,#dbff24 121.5px,#fffa00 126.5px,#ffe100 128.5px,#ffbd00 130.5px,#ffb700 131.5px,#fffc00 136.5px,#e8ff17 139.5px,#cf3 141.5px,#b5ff4a 142.5px,#1dffe2 147.5px,#03fffc 148.5px,#00ebff 149.5px,#009dff 153.5px,#0000fd 163.5px,#000094 169.5px,#000094 202px)"></i><i style="top:55px;background:linear-gradient(90deg,#000094 0px,#000094 20.5px,#0000bd 21.5px,#0000e4 23.5px,#0003ff 25.5px,#004fff 29.5px,#00c0ff 34.5px,#00f7ff 36.5px,#1bffe4 37.5px,#9f6 40.5px,#e1ff1e 42.5px,#fff400 43.5px,#ff9700 45.5px,#ff4f00 47.5px,#ff3600 48.5px,#ff1300 51.5px,#ff0b00 53.5px,#ff1400 55.5px,#ff3800 58.5px,#ff5200 59.5px,#ffde00 62.5px,#f7ff08 63.5px,#90ff6f 65.5px,#6bff94 66.5px,#06fff9 70.5px,#00ecff 71.5px,#00b2ff 73.5px,#0005ff 78.5px,#0000e9 79.5px,#0000ae 80.5px,#000094 81.5px,#000094 96.5px,#000097 97.5px,#0000c5 98.5px,#0000fa 100.5px,#0014ff 101.5px,#0085ff 105.5px,#00fbff 111.5px,#4dffb2 115.5px,#b8ff47 119.5px,#dcff23 121.5px,#fdff02 125.5px,#fff900 126.5px,#fb0 130.5px,#ffb600 131.5px,#fffa00 136.5px,#eaff15 139.5px,#d0ff2f 141.5px,#baff45 142.5px,#0afff5 148.5px,#00f1ff 149.5px,#00a0ff 153.5px,#0000fd 163.5px,#000094 169.5px,#000094 202px)"></i><i style="top:56px;background:linear-gradient(90deg,#000094 0px,#000094 19.5px,#00009a 20.5px,#0000bd 21.5px,#0000e6 23.5px,#0005ff 25.5px,#003cff 28.5px,#00f7ff 36.5px,#1affe5 37.5px,#95ff6a 40.5px,#fcff03 43.5px,#ff8000 46.5px,#ff5a00 47.5px,#ff3f00 48.5px,#ff1900 51.5px,#f10 53.5px,#ff1a00 55.5px,#ff4000 58.5px,#ff5b00 59.5px,#fb0 61.5px,#ffe100 62.5px,#f8ff07 63.5px,#92ff6d 65.5px,#6dff92 66.5px,#39ffc6 68.5px,#0efff1 70.5px,#00f6ff 71.5px,#009eff 74.5px,#002cff 77.5px,#000dff 78.5px,#0000f0 79.5px,#0000bf 80.5px,#009 81.5px,#000094 96.5px,#0000a4 97.5px,#00c 98.5px,#0002ff 100.5px,#0094ff 105.5px,#00f5ff 110.5px,#09fff6 111.5px,#5fa 115.5px,#cfff30 120.5px,#e7ff18 122.5px,#feff01 125.5px,#fff700 126.5px,#ffba00 130.5px,#ffb400 131.5px,#ffbc00 132.5px,#fff800 136.5px,#ecff13 139.5px,#d3ff2c 141.5px,#bfff40 142.5px,#10ffef 148.5px,#00f7ff 149.5px,#00a3ff 153.5px,#0036ff 160.5px,#0000fd 163.5px,#000094 169.5px,#000094 202px)"></i><i style="top:57px;background:linear-gradient(90deg,#000094 0px,#000094 19.5px,#0000e7 23.5px,#0006ff 25.5px,#003eff 28.5px,#00f7ff 36.5px,#18ffe7 37.5px,#92ff6d 40.5px,#efff10 43.5px,#ffe800 44.5px,#ff6500 47.5px,#ff4800 48.5px,#ff2000 51.5px,#ff1700 53.5px,#ff2000 55.5px,#ff4700 58.5px,#ff6500 59.5px,#ffc300 61.5px,#ffe400 62.5px,#f9ff06 63.5px,#93ff6c 65.5px,#6fff90 66.5px,#0ff 71.5px,#00a9ff 74.5px,#0034ff 77.5px,#0014ff 78.5px,#0000f7 79.5px,#0000a4 81.5px,#000094 82.5px,#009 96.5px,#00e 99.5px,#0008ff 100.5px,#0089ff 104.5px,#00a3ff 105.5px,#03fffc 110.5px,#72ff8d 116.5px,#d1ff2e 120.5px,#e7ff18 122.5px,#ff0 125.5px,#ffea00 127.5px,#ffb900 130.5px,#ffb300 131.5px,#ffb900 132.5px,#fff600 136.5px,#feff01 137.5px,#edff12 139.5px,#c5ff3a 142.5px,#3fc 147.5px,#00fcff 149.5px,#0094ff 154.5px,#0038ff 160.5px,#0000fe 163.5px,#000094 169.5px,#000094 202px)"></i><i style="top:58px;background:linear-gradient(90deg,#000094 0px,#000094 19.5px,#0000c7 22.5px,#0000e6 23.5px,#0000f5 24.5px,#0007ff 25.5px,#002bff 27.5px,#00f7ff 36.5px,#18ffe7 37.5px,#8fff70 40.5px,#e8ff17 43.5px,#fff100 44.5px,#ff7000 47.5px,#ff5200 48.5px,#ff2a00 51.5px,#ff2000 53.5px,#ff2900 55.5px,#ff5200 58.5px,#ff7000 59.5px,#fc0 61.5px,#ffeb00 62.5px,#f4ff0b 63.5px,#91ff6e 65.5px,#6fff90 66.5px,#03fffc 71.5px,#00adff 74.5px,#0039ff 77.5px,#0000fb 79.5px,#0000db 80.5px,#0000ae 81.5px,#000094 82.5px,#000094 95.5px,#0000a4 96.5px,#0000f4 99.5px,#000fff 100.5px,#0091ff 104.5px,#00abff 105.5px,#00f7ff 109.5px,#0afff5 110.5px,#63ff9c 115.5px,#d2ff2d 120.5px,#e8ff17 122.5px,#fffe00 125.5px,#ffe900 127.5px,#ffb900 130.5px,#ffb300 131.5px,#ffb900 132.5px,#ffe900 135.5px,#ff0 137.5px,#e5ff1a 140.5px,#c8ff37 142.5px,#02fffd 149.5px,#00eaff 150.5px,#0097ff 154.5px,#0039ff 160.5px,#0000fe 163.5px,#000094 169.5px,#000094 202px)"></i><i style="top:59px;background:linear-gradient(90deg,#000094 0px,#000095 20.5px,#0000b3 22.5px,#0000e2 23.5px,#0000f4 24.5px,#0008ff 25.5px,#002eff 27.5px,#00f7ff 36.5px,#18ffe7 37.5px,#8dff72 40.5px,#e6ff19 43.5px,#fff400 44.5px,#ff7a00 47.5px,#ff5e00 48.5px,#ff3600 51.5px,#ff2d00 53.5px,#ff3700 55.5px,#ff6000 58.5px,#ff7f00 59.5px,#ffd700 61.5px,#fff600 62.5px,#e9ff16 63.5px,#8dff72 65.5px,#6cff93 66.5px,#00fdff 71.5px,#00a8ff 74.5px,#003aff 77.5px,#0000fe 79.5px,#0000e1 80.5px,#000094 82.5px,#000094 95.5px,#0000fb 99.5px,#0032ff 101.5px,#0093ff 104.5px,#00acff 105.5px,#00f9ff 109.5px,#65ff9a 115.5px,#d3ff2c 120.5px,#e9ff16 122.5px,#fffe00 125.5px,#ffe900 127.5px,#ffb900 130.5px,#ffb400 131.5px,#ffb900 132.5px,#ffe900 135.5px,#ff0 137.5px,#e5ff1a 140.5px,#c9ff36 142.5px,#07fff8 149.5px,#00efff 150.5px,#009aff 154.5px,#003aff 160.5px,#00f 163.5px,#000094 169.5px,#000094 202px)"></i><i style="top:60px;background:linear-gradient(90deg,#000094 0px,#000094 21.5px,#00009e 22.5px,#00d 23.5px,#0000f3 24.5px,#0008ff 25.5px,#0030ff 27.5px,#00f8ff 36.5px,#18ffe7 37.5px,#8aff75 40.5px,#e4ff1b 43.5px,#fff700 44.5px,#ff8400 47.5px,#ff6a00 48.5px,#ff4300 51.5px,#ff3a00 53.5px,#ff4500 55.5px,#ff6e00 58.5px,#ff8d00 59.5px,#ffe200 61.5px,#fdff02 62.5px,#deff21 63.5px,#8f7 65.5px,#69ff96 66.5px,#00f9ff 71.5px,#00a4ff 74.5px,#001eff 78.5px,#0003ff 79.5px,#0000e7 80.5px,#000094 82.5px,#000094 95.5px,#00b 96.5px,#0004ff 99.5px,#0038ff 101.5px,#0095ff 104.5px,#00c4ff 106.5px,#00fbff 109.5px,#67ff98 115.5px,#c3ff3c 119.5px,#e9ff16 122.5px,#fffd00 125.5px,#ffe900 127.5px,#ffba00 130.5px,#ffb400 131.5px,#ffba00 132.5px,#ffe900 135.5px,#fffe00 137.5px,#e6ff19 140.5px,#caff35 142.5px,#0cfff3 149.5px,#00f4ff 150.5px,#009eff 154.5px,#003cff 160.5px,#00f 163.5px,#000094 169.5px,#000094 202px)"></i><i style="top:61px;background:linear-gradient(90deg,#000094 0px,#000094 22.5px,#0000d9 23.5px,#0000f2 24.5px,#0008ff 25.5px,#001dff 26.5px,#00f8ff 36.5px,#18ffe7 37.5px,#8f7 40.5px,#fffa00 44.5px,#ff8e00 47.5px,#ff7600 48.5px,#ff5000 51.5px,#ff4800 53.5px,#ff5200 55.5px,#ff7c00 58.5px,#ff9c00 59.5px,#ffed00 61.5px,#f2ff0d 62.5px,#d2ff2d 63.5px,#83ff7c 65.5px,#6f9 66.5px,#0efff1 70.5px,#00f4ff 71.5px,#00a0ff 74.5px,#0020ff 78.5px,#0006ff 79.5px,#0000eb 80.5px,#0000c7 81.5px,#000094 82.5px,#000094 95.5px,#0000c6 96.5px,#0000f4 98.5px,#000bff 99.5px,#0024ff 100.5px,#00b0ff 105.5px,#00feff 109.5px,#68ff97 115.5px,#c4ff3b 119.5px,#eaff15 122.5px,#fffd00 125.5px,#ffe800 127.5px,#ffba00 130.5px,#ffb500 131.5px,#fb0 132.5px,#ffe900 135.5px,#fffe00 137.5px,#e6ff19 140.5px,#cbff34 142.5px,#2bffd4 148.5px,#00f9ff 150.5px,#008eff 155.5px,#003dff 160.5px,#0001ff 163.5px,#000094 169.5px,#000094 202px)"></i><i style="top:62px;background:linear-gradient(90deg,#000094 0px,#000094 22.5px,#0000d5 23.5px,#0000f2 24.5px,#0009ff 25.5px,#00f9ff 36.5px,#18ffe7 37.5px,#85ff7a 40.5px,#fffd00 44.5px,#f90 47.5px,#ff8200 48.5px,#ff5d00 51.5px,#f50 53.5px,#ff6000 55.5px,#ff8a00 58.5px,#fff800 61.5px,#c7ff38 63.5px,#7eff81 65.5px,#62ff9d 66.5px,#0afff5 70.5px,#00f0ff 71.5px,#00d4ff 72.5px,#02f 78.5px,#0009ff 79.5px,#0000ef 80.5px,#0000cf 81.5px,#000096 82.5px,#000094 95.5px,#0000d1 96.5px,#0000fb 98.5px,#002bff 100.5px,#00b1ff 105.5px,#01fffe 109.5px,#6aff95 115.5px,#c6ff39 119.5px,#e2ff1d 121.5px,#fffd00 125.5px,#ffe800 127.5px,#fb0 130.5px,#ffb600 131.5px,#ffbc00 132.5px,#ffe900 135.5px,#fffe00 137.5px,#e6ff19 140.5px,#cdff32 142.5px,#00feff 150.5px,#0091ff 155.5px,#003fff 160.5px,#0001ff 163.5px,#000094 169.5px,#000094 202px)"></i><i style="top:63px;background:linear-gradient(90deg,#000094 0px,#000094 22.5px,#0000d1 23.5px,#0000f1 24.5px,#0009ff 25.5px,#00f9ff 36.5px,#18ffe7 37.5px,#83ff7c 40.5px,#feff01 44.5px,#ffa300 47.5px,#ff8e00 48.5px,#ff6300 52.5px,#ff6500 54.5px,#ff8500 57.5px,#ff9800 58.5px,#ffe000 60.5px,#fbff04 61.5px,#7aff85 65.5px,#06fff9 70.5px,#00ebff 71.5px,#0024ff 78.5px,#000cff 79.5px,#0000f3 80.5px,#0000d7 81.5px,#0000a8 82.5px,#000094 83.5px,#000094 93.5px,#00009e 95.5px,#00d 96.5px,#0003ff 98.5px,#00b3ff 105.5px,#03fffc 109.5px,#6cff93 115.5px,#c8ff37 119.5px,#e2ff1d 121.5px,#fffc00 125.5px,#ffe800 127.5px,#fb0 130.5px,#ffb700 131.5px,#ffbc00 132.5px,#ffe900 135.5px,#fffe00 137.5px,#e7ff18 140.5px,#ceff31 142.5px,#04fffb 150.5px,#00ecff 151.5px,#0093ff 155.5px,#0040ff 160.5px,#0002ff 163.5px,#000094 169.5px,#000094 202px)"></i><i style="top:64px;background:linear-gradient(90deg,#000094 0px,#000094 22.5px,#00c 23.5px,#0000f0 24.5px,#0009ff 25.5px,#00faff 36.5px,#18ffe7 37.5px,#81ff7e 40.5px,#fbff04 44.5px,#ffad00 47.5px,#ff9a00 48.5px,#ff7600 51.5px,#ff6f00 53.5px,#ff7b00 55.5px,#ff9300 57.5px,#ffa600 58.5px,#ffed00 60.5px,#f0ff0f 61.5px,#75ff8a 65.5px,#02fffd 70.5px,#003fff 77.5px,#000fff 79.5px,#0000f7 80.5px,#0000df 81.5px,#000094 83.5px,#000094 91.5px,#0000a7 94.5px,#0000ae 95.5px,#0000e7 96.5px,#0000f6 97.5px,#000aff 98.5px,#0020ff 99.5px,#00b5ff 105.5px,#00f2ff 108.5px,#05fffa 109.5px,#4affb5 113.5px,#6eff91 115.5px,#caff35 119.5px,#e3ff1c 121.5px,#fffc00 125.5px,#ffe800 127.5px,#ffbc00 130.5px,#ffb700 131.5px,#ffbd00 132.5px,#ffea00 135.5px,#fffe00 137.5px,#e7ff18 140.5px,#cfff30 142.5px,#09fff6 150.5px,#00f0ff 151.5px,#0096ff 155.5px,#0042ff 160.5px,#0003ff 163.5px,#000094 169.5px,#000094 202px)"></i><i style="top:65px;background:linear-gradient(90deg,#000094 0px,#000094 22.5px,#00e 24.5px,#0009ff 25.5px,#00faff 36.5px,#17ffe8 37.5px,#7fff80 40.5px,#f7ff08 44.5px,#ffeb00 45.5px,#ffb700 47.5px,#ffa500 48.5px,#ff8400 51.5px,#ff7d00 53.5px,#ff8900 55.5px,#ffa000 57.5px,#ffb300 58.5px,#fff600 60.5px,#e8ff17 61.5px,#72ff8d 65.5px,#00fdff 70.5px,#0059ff 76.5px,#0000fb 80.5px,#0000c8 82.5px,#000094 83.5px,#000094 89.5px,#0000bf 95.5px,#00e 96.5px,#0000fd 97.5px,#00f5ff 108.5px,#07fff8 109.5px,#4bffb4 113.5px,#70ff8f 115.5px,#cf3 119.5px,#e4ff1b 121.5px,#fffc00 125.5px,#ffe800 127.5px,#ffbc00 130.5px,#ffb800 131.5px,#ffbe00 132.5px,#ffea00 135.5px,#fffe00 137.5px,#d0ff2f 142.5px,#0efff1 150.5px,#00f5ff 151.5px,#09f 155.5px,#04f 160.5px,#0003ff 163.5px,#000094 169.5px,#000094 202px)"></i><i style="top:66px;background:linear-gradient(90deg,#000094 0px,#000094 22.5px,#0000ad 23.5px,#0000ed 24.5px,#0008ff 25.5px,#004fff 28.5px,#00faff 36.5px,#17ffe8 37.5px,#7dff82 40.5px,#d7ff28 43.5px,#f2ff0d 44.5px,#fff200 45.5px,#ffb200 48.5px,#ff9200 51.5px,#ff8b00 53.5px,#ff9700 55.5px,#ffad00 57.5px,#ffbe00 58.5px,#fffb00 60.5px,#70ff8f 65.5px,#00faff 70.5px,#0041ff 77.5px,#0001ff 80.5px,#0000ec 81.5px,#0000d1 82.5px,#000094 83.5px,#000095 88.5px,#0000d0 95.5px,#0000f5 96.5px,#0005ff 97.5px,#00f7ff 108.5px,#0afff5 109.5px,#5fffa0 114.5px,#cdff32 119.5px,#e5ff1a 121.5px,#fffb00 125.5px,#ffe800 127.5px,#ffbd00 130.5px,#ffb900 131.5px,#ffbf00 132.5px,#ffea00 135.5px,#fffe00 137.5px,#d1ff2e 142.5px,#00faff 151.5px,#009bff 155.5px,#0032ff 161.5px,#0004ff 163.5px,#000094 169.5px,#000094 202px)"></i><i style="top:67px;background:linear-gradient(90deg,#000094 0px,#000094 22.5px,#00009a 23.5px,#0000eb 24.5px,#0007ff 25.5px,#0050ff 28.5px,#00faff 36.5px,#17ffe8 37.5px,#b6ff49 42.5px,#ecff13 44.5px,#fff900 45.5px,#ffbe00 48.5px,#ff9b00 52.5px,#ff9e00 54.5px,#ffaf00 56.5px,#ffca00 58.5px,#ffe300 59.5px,#fdff02 60.5px,#6eff91 65.5px,#10ffef 69.5px,#00f6ff 70.5px,#0041ff 77.5px,#0005ff 80.5px,#0000f1 81.5px,#0000da 82.5px,#000094 83.5px,#000094 87.5px,#0000e0 95.5px,#0000fc 96.5px,#0020ff 98.5px,#00f9ff 108.5px,#60ff9f 114.5px,#cfff30 119.5px,#e6ff19 121.5px,#fffb00 125.5px,#ffbd00 130.5px,#ffba00 131.5px,#ffbf00 132.5px,#ffea00 135.5px,#fffd00 137.5px,#dfff20 141.5px,#c0ff3f 143.5px,#0ff 151.5px,#009eff 155.5px,#0034ff 161.5px,#0004ff 163.5px,#000094 169.5px,#000094 202px)"></i><i style="top:68px;background:linear-gradient(90deg,#000094 0px,#000094 23.5px,#0000e9 24.5px,#0006ff 25.5px,#0050ff 28.5px,#00faff 36.5px,#17ffe8 37.5px,#96ff69 41.5px,#feff01 45.5px,#ffca00 48.5px,#ffa900 52.5px,#ffac00 54.5px,#ffbc00 56.5px,#ffd500 58.5px,#ffec00 59.5px,#f8ff07 60.5px,#6cff93 65.5px,#0cfff3 69.5px,#00f2ff 70.5px,#0058ff 76.5px,#000aff 80.5px,#0000f6 81.5px,#0000e3 82.5px,#000098 83.5px,#000094 87.5px,#0000a9 88.5px,#0000ed 95.5px,#0004ff 96.5px,#0027ff 98.5px,#00fbff 108.5px,#75ff8a 115.5px,#c0ff3f 118.5px,#e7ff18 121.5px,#fffb00 125.5px,#ffbe00 130.5px,#ffba00 131.5px,#ffc000 132.5px,#ffea00 135.5px,#fffd00 137.5px,#dfff20 141.5px,#c3ff3c 143.5px,#05fffa 151.5px,#00ecff 152.5px,#008cff 156.5px,#0035ff 161.5px,#0005ff 163.5px,#00e 164.5px,#000094 169.5px,#000094 202px)"></i><i style="top:69px;background:linear-gradient(90deg,#000094 0px,#000094 23.5px,#0000e8 24.5px,#0005ff 25.5px,#0050ff 28.5px,#00faff 36.5px,#16ffe9 37.5px,#93ff6c 41.5px,#f7ff08 45.5px,#fff400 46.5px,#ffd600 48.5px,#ffb800 52.5px,#fb0 54.5px,#ffca00 56.5px,#ffe100 58.5px,#fff400 59.5px,#f3ff0c 60.5px,#daff25 61.5px,#84ff7b 64.5px,#09fff6 69.5px,#00efff 70.5px,#0057ff 76.5px,#0000fc 81.5px,#0000ea 82.5px,#0000b0 83.5px,#000097 87.5px,#0000b2 88.5px,#0000f7 95.5px,#001aff 97.5px,#00fdff 108.5px,#7f8 115.5px,#c2ff3d 118.5px,#e8ff17 121.5px,#fffa00 125.5px,#ffbe00 130.5px,#fb0 131.5px,#ffc100 132.5px,#fffd00 137.5px,#e0ff1f 141.5px,#c5ff3a 143.5px,#0afff5 151.5px,#00f1ff 152.5px,#008eff 156.5px,#0037ff 161.5px,#0006ff 163.5px,#00e 164.5px,#000094 169.5px,#000094 202px)"></i><i style="top:70px;background:linear-gradient(90deg,#000094 0px,#000094 23.5px,#0000e6 24.5px,#0004ff 25.5px,#0067ff 29.5px,#00faff 36.5px,#16ffe9 37.5px,#75ff8a 40.5px,#abff54 42.5px,#dcff23 44.5px,#fffd00 46.5px,#ffd100 50.5px,#ffc600 53.5px,#ffe000 57.5px,#fffd00 59.5px,#d7ff28 61.5px,#82ff7d 64.5px,#05fffa 69.5px,#0057ff 76.5px,#0002ff 81.5px,#0000ef 82.5px,#0000c8 83.5px,#0000a9 87.5px,#0000bc 88.5px,#0000de 91.5px,#0002ff 95.5px,#0021ff 97.5px,#0062ff 100.5px,#0095ff 103.5px,#01fffe 108.5px,#6f9 114.5px,#90ff6f 116.5px,#c5ff3a 118.5px,#e0ff1f 120.5px,#fffa00 125.5px,#ffbf00 130.5px,#ffbc00 131.5px,#fffd00 137.5px,#e1ff1e 141.5px,#c7ff38 143.5px,#0ffff0 151.5px,#00f5ff 152.5px,#0090ff 156.5px,#0038ff 161.5px,#0006ff 163.5px,#00e 164.5px,#000094 169.5px,#000094 202px)"></i><i style="top:71px;background:linear-gradient(90deg,#000094 0px,#000094 23.5px,#0000e3 24.5px,#0002ff 25.5px,#0067ff 29.5px,#00faff 36.5px,#16ffe9 37.5px,#73ff8c 40.5px,#a8ff57 42.5px,#d7ff28 44.5px,#f8ff07 46.5px,#fff800 47.5px,#ffd500 52.5px,#ffd800 54.5px,#fff800 58.5px,#f8ff07 59.5px,#d3ff2c 61.5px,#02fffd 69.5px,#0056ff 76.5px,#0007ff 81.5px,#0000f5 82.5px,#0000d4 84.5px,#0000bc 87.5px,#0000fa 93.5px,#000dff 95.5px,#0028ff 97.5px,#0069ff 100.5px,#0af 104.5px,#03fffc 108.5px,#7aff85 115.5px,#c7ff38 118.5px,#e1ff1e 120.5px,#fffa00 125.5px,#ffbf00 130.5px,#ffbd00 131.5px,#fffd00 137.5px,#e1ff1e 141.5px,#c9ff36 143.5px,#00faff 152.5px,#0092ff 156.5px,#0039ff 161.5px,#0007ff 163.5px,#00e 164.5px,#0000c5 166.5px,#000094 169.5px,#000094 202px)"></i><i style="top:72px;background:linear-gradient(90deg,#000094 0px,#000094 23.5px,#0000e3 24.5px,#0002ff 25.5px,#0067ff 29.5px,#00faff 36.5px,#15ffea 37.5px,#71ff8e 40.5px,#bdff42 43.5px,#e5ff1a 45.5px,#fffe00 47.5px,#fd0 52.5px,#ffe000 54.5px,#fffe00 58.5px,#cfff30 61.5px,#0ff 69.5px,#0056ff 76.5px,#000aff 81.5px,#0000f9 82.5px,#0000cd 86.5px,#0000c7 88.5px,#0000e4 90.5px,#0000fe 93.5px,#0012ff 95.5px,#002cff 97.5px,#006dff 100.5px,#00acff 104.5px,#04fffb 108.5px,#7cff83 115.5px,#c9ff36 118.5px,#e1ff1e 120.5px,#fffa00 125.5px,#ffc100 130.5px,#ffbf00 131.5px,#fffd00 137.5px,#e1ff1e 141.5px,#c9ff36 143.5px,#00fdff 152.5px,#0095ff 156.5px,#003cff 161.5px,#0008ff 163.5px,#0000ef 164.5px,#000094 169.5px,#000094 202px)"></i><i style="top:73px;background:linear-gradient(90deg,#000094 0px,#000094 23.5px,#0000e5 24.5px,#0003ff 25.5px,#06f 29.5px,#00faff 36.5px,#15ffea 37.5px,#6fff90 40.5px,#bf4 43.5px,#e3ff1c 45.5px,#feff01 47.5px,#ffdf00 52.5px,#ffe200 54.5px,#fff600 57.5px,#feff01 58.5px,#e1ff1e 60.5px,#00feff 69.5px,#0056ff 76.5px,#0000fa 82.5px,#0000c0 88.5px,#0000d9 89.5px,#0000e5 90.5px,#00f 93.5px,#0008ff 94.5px,#002dff 97.5px,#006fff 100.5px,#00aeff 104.5px,#04fffb 108.5px,#7eff81 115.5px,#c8ff37 118.5px,#e0ff1f 120.5px,#fffb00 125.5px,#ffc500 130.5px,#ffc200 131.5px,#ff0 137.5px,#e0ff1f 141.5px,#c9ff36 143.5px,#0ff 152.5px,#09f 156.5px,#003eff 161.5px,#000bff 163.5px,#0000f2 164.5px,#000094 169.5px,#000094 202px)"></i><i style="top:74px;background:linear-gradient(90deg,#000094 0px,#000094 23.5px,#0000e7 24.5px,#0004ff 25.5px,#0050ff 28.5px,#00faff 36.5px,#15ffea 37.5px,#6dff92 40.5px,#b9ff46 43.5px,#e2ff1d 45.5px,#fdff02 47.5px,#ffe100 52.5px,#ffe400 54.5px,#fff800 57.5px,#fcff03 58.5px,#deff21 60.5px,#00fdff 69.5px,#00b0ff 72.5px,#0056ff 76.5px,#0000fb 82.5px,#0000cf 87.5px,#0000ba 88.5px,#0000db 89.5px,#00f 93.5px,#0009ff 94.5px,#002eff 97.5px,#0071ff 100.5px,#00afff 104.5px,#04fffb 108.5px,#7fff80 115.5px,#c8ff37 118.5px,#e0ff1f 120.5px,#fffd00 125.5px,#ffd100 129.5px,#ffc600 131.5px,#fff800 136.5px,#feff01 137.5px,#e8ff17 140.5px,#c8ff37 143.5px,#5fffa0 148.5px,#02fffd 152.5px,#009cff 156.5px,#05f 160.5px,#000dff 163.5px,#0000f4 164.5px,#000094 169.5px,#000094 202px)"></i><i style="top:75px;background:linear-gradient(90deg,#000094 0px,#000094 23.5px,#0000e8 24.5px,#0005ff 25.5px,#004fff 28.5px,#00faff 36.5px,#15ffea 37.5px,#6cff93 40.5px,#b7ff48 43.5px,#f0ff0f 46.5px,#fffa00 48.5px,#ffe300 52.5px,#ffe600 54.5px,#fffa00 57.5px,#faff05 58.5px,#dbff24 60.5px,#00fcff 69.5px,#00aeff 72.5px,#05f 76.5px,#0000fd 82.5px,#0000d3 87.5px,#0000b3 88.5px,#0000dc 89.5px,#00f 93.5px,#0009ff 94.5px,#002fff 97.5px,#0073ff 100.5px,#00b1ff 104.5px,#04fffb 108.5px,#80ff7f 115.5px,#c7ff38 118.5px,#dfff20 120.5px,#fffe00 125.5px,#ffd400 129.5px,#ffc900 131.5px,#fffa00 136.5px,#e7ff18 140.5px,#c8ff37 143.5px,#61ff9e 148.5px,#04fffb 152.5px,#00e9ff 153.5px,#00a0ff 156.5px,#0059ff 160.5px,#000fff 163.5px,#0000f6 164.5px,#000094 169.5px,#000094 202px)"></i><i style="top:76px;background:linear-gradient(90deg,#000094 0px,#000094 23.5px,#0000ea 24.5px,#0006ff 25.5px,#004fff 28.5px,#00faff 36.5px,#15ffea 37.5px,#6aff95 40.5px,#b5ff4a 43.5px,#ef1 46.5px,#fffb00 48.5px,#ffe600 52.5px,#ffe900 54.5px,#fffc00 57.5px,#f9ff06 58.5px,#d8ff27 60.5px,#72ff8d 64.5px,#00fbff 69.5px,#00adff 72.5px,#05f 76.5px,#0000fe 82.5px,#0000d6 87.5px,#0000ac 88.5px,#0000de 89.5px,#00f 93.5px,#0009ff 94.5px,#0030ff 97.5px,#0075ff 100.5px,#00b2ff 104.5px,#04fffb 108.5px,#82ff7d 115.5px,#c7ff38 118.5px,#deff21 120.5px,#ff0 125.5px,#ffd700 129.5px,#ffcd00 131.5px,#fffb00 136.5px,#e6ff19 140.5px,#c7ff38 143.5px,#62ff9d 148.5px,#06fff9 152.5px,#00ebff 153.5px,#00b8ff 155.5px,#005cff 160.5px,#0012ff 163.5px,#0000f8 164.5px,#0000ae 168.5px,#000094 169.5px,#000094 202px)"></i><i style="top:77px;background:linear-gradient(90deg,#000094 0px,#000094 23.5px,#0000eb 24.5px,#0007ff 25.5px,#004eff 28.5px,#00faff 36.5px,#15ffea 37.5px,#b3ff4c 43.5px,#edff12 46.5px,#fffd00 48.5px,#ffe800 52.5px,#ffeb00 54.5px,#fffe00 57.5px,#eaff15 59.5px,#d5ff2a 60.5px,#6fff90 64.5px,#00faff 69.5px,#00abff 72.5px,#05f 76.5px,#00f 82.5px,#0000f4 83.5px,#0000da 87.5px,#0000a5 88.5px,#0000df 89.5px,#00f 93.5px,#0009ff 94.5px,#0032ff 97.5px,#07f 100.5px,#00b4ff 104.5px,#04fffb 108.5px,#83ff7c 115.5px,#c7ff38 118.5px,#df2 120.5px,#feff01 125.5px,#ffda00 129.5px,#ffd100 131.5px,#fffc00 136.5px,#e5ff1a 140.5px,#c7ff38 143.5px,#64ff9b 148.5px,#08fff7 152.5px,#00edff 153.5px,#00a7ff 156.5px,#005fff 160.5px,#0000fb 164.5px,#0000b0 168.5px,#000094 169.5px,#000094 202px)"></i><i style="top:78px;background:linear-gradient(90deg,#000094 0px,#000094 23.5px,#0000ec 24.5px,#0008ff 25.5px,#00faff 36.5px,#15ffea 37.5px,#b0ff4f 43.5px,#ecff13 46.5px,#ff0 48.5px,#ffea00 52.5px,#fff800 56.5px,#feff01 57.5px,#e8ff17 59.5px,#6cff93 64.5px,#00f9ff 69.5px,#0af 72.5px,#05f 76.5px,#0002ff 82.5px,#0000f5 83.5px,#0000de 87.5px,#00009e 88.5px,#0000e1 89.5px,#00f 93.5px,#0009ff 94.5px,#03f 97.5px,#0079ff 100.5px,#00b5ff 104.5px,#04fffb 108.5px,#85ff7a 115.5px,#c6ff39 118.5px,#df2 120.5px,#fdff02 125.5px,#ffd600 130.5px,#ffd400 131.5px,#fffe00 136.5px,#dcff23 141.5px,#c6ff39 143.5px,#65ff9a 148.5px,#0afff5 152.5px,#00efff 153.5px,#0af 156.5px,#0062ff 160.5px,#0000fd 164.5px,#0000b1 168.5px,#000094 169.5px,#000094 202px)"></i><i style="top:79px;background:linear-gradient(90deg,#000094 0px,#000095 23.5px,#00e 24.5px,#0008ff 25.5px,#004eff 28.5px,#00b2ff 33.5px,#00faff 36.5px,#14ffeb 37.5px,#c6ff39 44.5px,#ebff14 46.5px,#feff01 48.5px,#ffec00 52.5px,#fffa00 56.5px,#fdff02 57.5px,#e6ff19 59.5px,#7fff80 63.5px,#12ffed 68.5px,#00f8ff 69.5px,#00a8ff 72.5px,#05f 76.5px,#0003ff 82.5px,#0000f7 83.5px,#0000e2 87.5px,#0000a3 88.5px,#0000e2 89.5px,#00f 93.5px,#0009ff 94.5px,#0034ff 97.5px,#007bff 100.5px,#00b7ff 104.5px,#04fffb 108.5px,#86ff79 115.5px,#c6ff39 118.5px,#d3ff2c 119.5px,#fffc00 126.5px,#ffe000 129.5px,#ffd800 131.5px,#fff700 135.5px,#ff0 136.5px,#e3ff1c 140.5px,#c6ff39 143.5px,#6f9 148.5px,#0cfff3 152.5px,#00f2ff 153.5px,#00c1ff 155.5px,#0065ff 160.5px,#00f 164.5px,#0000b2 168.5px,#000094 169.5px,#000094 202px)"></i><i style="top:80px;background:linear-gradient(90deg,#000094 0px,#000094 22.5px,#0000a0 23.5px,#0000ef 24.5px,#0009ff 25.5px,#004dff 28.5px,#00b1ff 33.5px,#00faff 36.5px,#14ffeb 37.5px,#c5ff3a 44.5px,#e9ff16 46.5px,#fffb00 49.5px,#fe0 53.5px,#fffc00 56.5px,#e4ff1b 59.5px,#7cff83 63.5px,#1fe 68.5px,#00f7ff 69.5px,#00a7ff 72.5px,#05f 76.5px,#0004ff 82.5px,#0000f9 83.5px,#0000e5 87.5px,#0000b0 88.5px,#0000e4 89.5px,#00f 93.5px,#0009ff 94.5px,#0035ff 97.5px,#008fff 101.5px,#00b9ff 104.5px,#04fffb 108.5px,#c6ff39 118.5px,#d2ff2d 119.5px,#fffd00 126.5px,#ffe300 129.5px,#ffdb00 131.5px,#fff900 135.5px,#e2ff1d 140.5px,#c5ff3a 143.5px,#68ff97 148.5px,#0dfff2 152.5px,#00f4ff 153.5px,#00c4ff 155.5px,#0068ff 160.5px,#0002ff 164.5px,#0000b4 168.5px,#000094 169.5px,#000094 202px)"></i><i style="top:81px;background:linear-gradient(90deg,#000094 0px,#000094 22.5px,#0000ab 23.5px,#0000f1 24.5px,#000aff 25.5px,#00b0ff 33.5px,#00faff 36.5px,#14ffeb 37.5px,#c3ff3c 44.5px,#e8ff17 46.5px,#fffd00 49.5px,#fff000 53.5px,#fffe00 56.5px,#e2ff1d 59.5px,#78ff87 63.5px,#10ffef 68.5px,#00f6ff 69.5px,#00a5ff 72.5px,#05f 76.5px,#001dff 80.5px,#0000fb 83.5px,#0000e8 87.5px,#0000bd 88.5px,#0000e5 89.5px,#00f 93.5px,#0009ff 94.5px,#0036ff 97.5px,#0091ff 101.5px,#00baff 104.5px,#04fffb 108.5px,#c5ff3a 118.5px,#d1ff2e 119.5px,#ff0 126.5px,#ffe600 129.5px,#ffdf00 131.5px,#fffb00 135.5px,#e1ff1e 140.5px,#c4ff3b 143.5px,#69ff96 148.5px,#0ffff0 152.5px,#00f6ff 153.5px,#00c8ff 155.5px,#006cff 160.5px,#0004ff 164.5px,#0000b5 168.5px,#000094 169.5px,#000094 202px)"></i><i style="top:82px;background:linear-gradient(90deg,#000094 0px,#000094 21.5px,#00009a 22.5px,#0000b6 23.5px,#0000f2 24.5px,#000bff 25.5px,#09f 32.5px,#00faff 36.5px,#14ffeb 37.5px,#c1ff3e 44.5px,#e7ff18 46.5px,#ff0 49.5px,#fff300 52.5px,#fff900 55.5px,#f7ff08 57.5px,#e0ff1f 59.5px,#74ff8b 63.5px,#0ffff0 68.5px,#00f6ff 69.5px,#00a4ff 72.5px,#06f 75.5px,#0029ff 79.5px,#0000fc 83.5px,#0000ea 87.5px,#0000ca 88.5px,#0000e6 89.5px,#0001ff 93.5px,#0009ff 94.5px,#0037ff 97.5px,#0093ff 101.5px,#00bcff 104.5px,#04fffb 108.5px,#b3ff4c 117.5px,#d1ff2e 119.5px,#feff01 126.5px,#ffe200 131.5px,#fffd00 135.5px,#e0ff1f 140.5px,#c4ff3b 143.5px,#6aff95 148.5px,#1fe 152.5px,#00f8ff 153.5px,#00cbff 155.5px,#006fff 160.5px,#0007ff 164.5px,#0000f1 165.5px,#0000b7 168.5px,#000094 169.5px,#000094 202px)"></i><i style="top:83px;background:linear-gradient(90deg,#000094 0px,#000094 21.5px,#0000a2 22.5px,#0000c1 23.5px,#0000f3 24.5px,#000cff 25.5px,#0097ff 32.5px,#00faff 36.5px,#14ffeb 37.5px,#bfff40 44.5px,#e6ff19 46.5px,#fdff02 49.5px,#fff500 52.5px,#fffb00 55.5px,#f5ff0a 57.5px,#deff21 59.5px,#71ff8e 63.5px,#0efff1 68.5px,#00f5ff 69.5px,#00a2ff 72.5px,#06f 75.5px,#002aff 79.5px,#0000fe 83.5px,#0000ec 87.5px,#0000d7 88.5px,#0000e7 89.5px,#0001ff 93.5px,#0009ff 94.5px,#0038ff 97.5px,#0095ff 101.5px,#04fffb 108.5px,#69ff96 113.5px,#c4ff3b 118.5px,#d0ff2f 119.5px,#fdff02 126.5px,#ffe600 131.5px,#ff0 135.5px,#d8ff27 141.5px,#c3ff3c 143.5px,#6cff93 148.5px,#00faff 153.5px,#00ceff 155.5px,#0072ff 160.5px,#0009ff 164.5px,#0000f3 165.5px,#0000b8 168.5px,#000094 169.5px,#000094 202px)"></i><i style="top:84px;background:linear-gradient(90deg,#000094 0px,#000094 21.5px,#0000ab 22.5px,#0000f5 24.5px,#000dff 25.5px,#0096ff 32.5px,#00faff 36.5px,#14ffeb 37.5px,#bdff42 44.5px,#e4ff1b 46.5px,#fffd00 50.5px,#fff700 53.5px,#fffd00 55.5px,#f4ff0b 57.5px,#df2 59.5px,#83ff7c 62.5px,#6dff92 63.5px,#0dfff2 68.5px,#00f4ff 69.5px,#00a0ff 72.5px,#0054ff 76.5px,#001eff 80.5px,#0001ff 83.5px,#0000f9 84.5px,#0000ef 87.5px,#0000e4 88.5px,#0001ff 93.5px,#0009ff 94.5px,#0039ff 97.5px,#0085ff 100.5px,#0097ff 101.5px,#04fffb 108.5px,#6bff94 113.5px,#c4ff3b 118.5px,#d0ff2f 119.5px,#fffc00 127.5px,#ffe900 131.5px,#fff900 134.5px,#deff21 140.5px,#c3ff3c 143.5px,#6dff92 148.5px,#00fcff 153.5px,#00d1ff 155.5px,#008aff 159.5px,#000bff 164.5px,#0000f5 165.5px,#0000ba 168.5px,#000094 169.5px,#000094 202px)"></i><i style="top:85px;background:linear-gradient(90deg,#000094 0px,#000094 21.5px,#0000f6 24.5px,#000eff 25.5px,#0094ff 32.5px,#00faff 36.5px,#14ffeb 37.5px,#d3ff2c 45.5px,#e3ff1c 46.5px,#ff0 50.5px,#fff900 53.5px,#ff0 55.5px,#e9ff16 58.5px,#dbff24 59.5px,#7fff80 62.5px,#0cfff3 68.5px,#00f3ff 69.5px,#009fff 72.5px,#0054ff 76.5px,#001eff 80.5px,#0002ff 83.5px,#0000fb 84.5px,#0000ec 89.5px,#0001ff 93.5px,#0009ff 94.5px,#003aff 97.5px,#0087ff 100.5px,#09f 101.5px,#04fffb 108.5px,#6cff93 113.5px,#b3ff4c 117.5px,#cfff30 119.5px,#fffe00 127.5px,#ffed00 131.5px,#fffb00 134.5px,#df2 140.5px,#c2ff3d 143.5px,#6eff91 148.5px,#0ff 153.5px,#008eff 159.5px,#000dff 164.5px,#0000f7 165.5px,#00b 168.5px,#000094 169.5px,#000094 202px)"></i><i style="top:86px;background:linear-gradient(90deg,#000094 0px,#000094 21.5px,#0000de 23.5px,#0000f8 24.5px,#000fff 25.5px,#0094ff 32.5px,#00faff 36.5px,#13ffec 37.5px,#cfff30 45.5px,#dfff20 46.5px,#fbff04 50.5px,#fffe00 53.5px,#f4ff0b 56.5px,#d6ff29 59.5px,#7cff83 62.5px,#0bfff4 68.5px,#00f3ff 69.5px,#009fff 72.5px,#0065ff 75.5px,#0020ff 80.5px,#0000fe 84.5px,#0000ed 90.5px,#0001ff 93.5px,#0009ff 94.5px,#003bff 97.5px,#0089ff 100.5px,#009bff 101.5px,#04fffb 108.5px,#6eff91 113.5px,#b4ff4b 117.5px,#ceff31 119.5px,#feff01 127.5px,#fff100 131.5px,#fffe00 134.5px,#dcff23 140.5px,#c2ff3d 143.5px,#70ff8f 148.5px,#02fffd 153.5px,#0091ff 159.5px,#0010ff 164.5px,#0000f9 165.5px,#0000bd 168.5px,#000094 169.5px,#000094 202px)"></i><i style="top:87px;background:linear-gradient(90deg,#000094 0px,#000094 21.5px,#0000e0 23.5px,#0000f9 24.5px,#0010ff 25.5px,#0095ff 32.5px,#00faff 36.5px,#13ffec 37.5px,#c9ff36 45.5px,#d9ff26 46.5px,#f3ff0c 50.5px,#f9ff06 53.5px,#edff12 56.5px,#d0ff2f 59.5px,#79ff86 62.5px,#0bfff4 68.5px,#00f3ff 69.5px,#00a1ff 72.5px,#0058ff 76.5px,#0023ff 80.5px,#0008ff 83.5px,#0000fd 85.5px,#00e 90.5px,#0001ff 93.5px,#0009ff 94.5px,#003dff 97.5px,#008bff 100.5px,#009dff 101.5px,#04fffb 108.5px,#6fff90 113.5px,#b4ff4b 117.5px,#ceff31 119.5px,#fcff03 127.5px,#fff500 130.5px,#fffa00 133.5px,#e1ff1e 139.5px,#c1ff3e 143.5px,#71ff8e 148.5px,#04fffb 153.5px,#0ef 154.5px,#0095ff 159.5px,#0012ff 164.5px,#0000fa 165.5px,#0000be 168.5px,#00009a 169.5px,#000094 170.5px,#000094 202px)"></i><i style="top:88px;background:linear-gradient(90deg,#000094 0px,#000094 21.5px,#0000e3 23.5px,#0000fa 24.5px,#0096ff 32.5px,#00faff 36.5px,#13ffec 37.5px,#aeff51 44.5px,#d3ff2c 46.5px,#ecff13 50.5px,#f1ff0e 53.5px,#e6ff19 56.5px,#c9ff36 59.5px,#76ff89 62.5px,#0bfff4 68.5px,#00f4ff 69.5px,#00a2ff 72.5px,#004bff 77.5px,#0013ff 82.5px,#0000fd 86.5px,#0000f8 89.5px,#0000ef 90.5px,#0001ff 93.5px,#000aff 94.5px,#003eff 97.5px,#008dff 100.5px,#009fff 101.5px,#04fffb 108.5px,#71ff8e 113.5px,#b4ff4b 117.5px,#cdff32 119.5px,#ff0 128.5px,#fff800 131.5px,#fffd00 133.5px,#e0ff1f 139.5px,#c1ff3e 143.5px,#73ff8c 148.5px,#06fff9 153.5px,#00f0ff 154.5px,#0098ff 159.5px,#002dff 163.5px,#0000fc 165.5px,#0000c0 168.5px,#00009f 169.5px,#000095 170.5px,#000094 202px)"></i><i style="top:89px;background:linear-gradient(90deg,#000094 0px,#000094 21.5px,#0000e5 23.5px,#0000fb 24.5px,#0097ff 32.5px,#00faff 36.5px,#12ffed 37.5px,#af5 44.5px,#cf3 46.5px,#e5ff1a 50.5px,#eaff15 53.5px,#deff21 56.5px,#c3ff3c 59.5px,#73ff8c 62.5px,#0bfff4 68.5px,#00f4ff 69.5px,#00a4ff 72.5px,#004eff 77.5px,#0016ff 82.5px,#0000fe 87.5px,#0000fb 89.5px,#0000ef 90.5px,#0001ff 93.5px,#000aff 94.5px,#003fff 97.5px,#008fff 100.5px,#00a1ff 101.5px,#04fffb 108.5px,#73ff8c 113.5px,#c2ff3d 118.5px,#dbff24 121.5px,#f5ff0a 126.5px,#fffe00 129.5px,#fffd00 132.5px,#e5ff1a 138.5px,#c0ff3f 143.5px,#74ff8b 148.5px,#08fff7 153.5px,#00f3ff 154.5px,#009cff 159.5px,#0000fe 165.5px,#0000c1 168.5px,#0000a5 169.5px,#000094 171.5px,#000094 202px)"></i><i style="top:90px;background:linear-gradient(90deg,#000094 0px,#000094 21.5px,#0000c3 22.5px,#0000e7 23.5px,#0000fd 24.5px,#0098ff 32.5px,#00faff 36.5px,#12ffed 37.5px,#b8ff47 45.5px,#d4ff2b 48.5px,#e2ff1d 52.5px,#d7ff28 56.5px,#bcff43 59.5px,#70ff8f 62.5px,#0bfff4 68.5px,#00f5ff 69.5px,#0091ff 73.5px,#005eff 76.5px,#0036ff 79.5px,#000cff 84.5px,#0000fe 89.5px,#0000f0 90.5px,#0001ff 93.5px,#000aff 94.5px,#0040ff 97.5px,#0090ff 100.5px,#00a3ff 101.5px,#04fffb 108.5px,#74ff8b 113.5px,#c2ff3d 118.5px,#efff10 125.5px,#ff0 131.5px,#e9ff16 137.5px,#bfff40 143.5px,#75ff8a 148.5px,#0afff5 153.5px,#00f6ff 154.5px,#009fff 159.5px,#0001ff 165.5px,#0000ab 169.5px,#000094 171.5px,#000094 202px)"></i><i style="top:91px;background:linear-gradient(90deg,#000094 0px,#000094 21.5px,#0000c6 22.5px,#0000e8 23.5px,#0000fe 24.5px,#09f 32.5px,#00faff 36.5px,#1fe 37.5px,#b2ff4d 45.5px,#cdff32 48.5px,#dbff24 52.5px,#cfff30 56.5px,#b6ff49 59.5px,#6dff92 62.5px,#0bfff4 68.5px,#00f6ff 69.5px,#0093ff 73.5px,#0061ff 76.5px,#0039ff 79.5px,#000fff 84.5px,#0003ff 89.5px,#0000f1 90.5px,#0001ff 93.5px,#000aff 94.5px,#0041ff 97.5px,#0092ff 100.5px,#00a5ff 101.5px,#03fffc 108.5px,#76ff89 113.5px,#c1ff3e 118.5px,#ef1 125.5px,#fcff03 131.5px,#e8ff17 137.5px,#bfff40 143.5px,#7f8 148.5px,#0dfff2 153.5px,#00f8ff 154.5px,#00a3ff 159.5px,#0003ff 165.5px,#0000b0 169.5px,#000094 171.5px,#000094 202px)"></i><i style="top:92px;background:linear-gradient(90deg,#000094 0px,#000094 21.5px,#0000c8 22.5px,#0000ea 23.5px,#00f 24.5px,#009aff 32.5px,#00fbff 36.5px,#1fe 37.5px,#acff53 45.5px,#c6ff39 48.5px,#d4ff2b 52.5px,#c8ff37 56.5px,#afff50 59.5px,#6aff95 62.5px,#0bfff4 68.5px,#00f6ff 69.5px,#0095ff 73.5px,#0063ff 76.5px,#003cff 79.5px,#0013ff 84.5px,#0006ff 89.5px,#0000f3 90.5px,#0000fc 92.5px,#000cff 94.5px,#0043ff 97.5px,#0094ff 100.5px,#00a7ff 101.5px,#04fffb 108.5px,#7f8 113.5px,#c0ff3f 118.5px,#ecff13 125.5px,#f8ff07 131.5px,#e6ff19 137.5px,#bdff42 143.5px,#7f8 148.5px,#0ffff0 153.5px,#00faff 154.5px,#00a6ff 159.5px,#0005ff 165.5px,#000094 171.5px,#000094 202px)"></i><i style="top:93px;background:linear-gradient(90deg,#000094 0px,#000094 21.5px,#0000cb 22.5px,#0000eb 23.5px,#0001ff 24.5px,#009bff 32.5px,#00fbff 36.5px,#1fe 37.5px,#a7ff58 45.5px,#c0ff3f 48.5px,#cf3 52.5px,#c1ff3e 56.5px,#a9ff56 59.5px,#6f9 62.5px,#0bfff4 68.5px,#00f7ff 69.5px,#0097ff 73.5px,#0065ff 76.5px,#003fff 79.5px,#001bff 83.5px,#0009ff 89.5px,#0000f8 90.5px,#0002ff 92.5px,#0010ff 94.5px,#0047ff 97.5px,#0096ff 100.5px,#00a8ff 101.5px,#00f5ff 107.5px,#06fff9 108.5px,#7f8 113.5px,#bfff40 118.5px,#e9ff16 125.5px,#f6ff09 131.5px,#e3ff1c 137.5px,#bf4 143.5px,#7f8 148.5px,#00fcff 154.5px,#00a8ff 159.5px,#0007ff 165.5px,#0000f2 166.5px,#000094 171.5px,#000094 202px)"></i><i style="top:94px;background:linear-gradient(90deg,#000094 0px,#000094 21.5px,#0000ce 22.5px,#0000ec 23.5px,#0003ff 24.5px,#009cff 32.5px,#00fbff 36.5px,#10ffef 37.5px,#a1ff5e 45.5px,#b9ff46 48.5px,#c5ff3a 52.5px,#b9ff46 56.5px,#a2ff5d 59.5px,#63ff9c 62.5px,#0bfff4 68.5px,#00f7ff 69.5px,#0098ff 73.5px,#004dff 78.5px,#001fff 83.5px,#000cff 89.5px,#0000fc 90.5px,#000dff 93.5px,#0023ff 95.5px,#0060ff 98.5px,#0097ff 100.5px,#00a9ff 101.5px,#00f7ff 107.5px,#08fff7 108.5px,#7f8 113.5px,#bdff42 118.5px,#e3ff1c 124.5px,#f3ff0c 130.5px,#e5ff1a 136.5px,#b9ff46 143.5px,#76ff89 148.5px,#00feff 154.5px,#0af 159.5px,#02f 164.5px,#000aff 165.5px,#0000f5 166.5px,#0000af 170.5px,#000094 171.5px,#000094 202px)"></i><i style="top:95px;background:linear-gradient(90deg,#000094 0px,#000094 21.5px,#0000d0 22.5px,#00e 23.5px,#0004ff 24.5px,#009dff 32.5px,#00fbff 36.5px,#10ffef 37.5px,#9bff64 45.5px,#b2ff4d 48.5px,#bdff42 52.5px,#b2ff4d 56.5px,#9cff63 59.5px,#60ff9f 62.5px,#0bfff4 68.5px,#00f8ff 69.5px,#00aeff 72.5px,#0089ff 74.5px,#04f 79.5px,#02f 83.5px,#0010ff 89.5px,#0002ff 90.5px,#01f 93.5px,#0027ff 95.5px,#0063ff 98.5px,#0098ff 100.5px,#00abff 101.5px,#00f9ff 107.5px,#0afff5 108.5px,#7f8 113.5px,#bf4 118.5px,#e0ff1f 124.5px,#f1ff0e 130.5px,#e3ff1c 136.5px,#b7ff48 143.5px,#76ff89 148.5px,#01fffe 154.5px,#00acff 159.5px,#0025ff 164.5px,#000dff 165.5px,#0000f7 166.5px,#0000b2 170.5px,#000094 171.5px,#000094 202px)"></i><i style="top:96px;background:linear-gradient(90deg,#000094 0px,#000094 21.5px,#0000d3 22.5px,#0000ef 23.5px,#0005ff 24.5px,#009eff 32.5px,#00fbff 36.5px,#10ffef 37.5px,#95ff6a 45.5px,#abff54 48.5px,#b6ff49 52.5px,#afff50 55.5px,#95ff6a 59.5px,#5dffa2 62.5px,#0bfff4 68.5px,#00f8ff 69.5px,#009cff 73.5px,#0052ff 78.5px,#0025ff 83.5px,#0013ff 89.5px,#0006ff 90.5px,#0016ff 93.5px,#002bff 95.5px,#06f 98.5px,#009aff 100.5px,#00acff 101.5px,#00fbff 107.5px,#0cfff3 108.5px,#7f8 113.5px,#b9ff46 118.5px,#deff21 124.5px,#ef1 130.5px,#e0ff1f 136.5px,#b5ff4a 143.5px,#75ff8a 148.5px,#03fffc 154.5px,#00f1ff 155.5px,#00aeff 159.5px,#0027ff 164.5px,#0000fa 166.5px,#0000b6 170.5px,#000094 171.5px,#000094 202px)"></i><i style="top:97px;background:linear-gradient(90deg,#000094 0px,#000094 21.5px,#0000d6 22.5px,#0000f1 23.5px,#0007ff 24.5px,#009fff 32.5px,#00fbff 36.5px,#0ffff0 37.5px,#90ff6f 45.5px,#a4ff5b 48.5px,#aeff51 52.5px,#a8ff57 55.5px,#8eff71 59.5px,#5affa5 62.5px,#0bfff4 68.5px,#00f9ff 69.5px,#009eff 73.5px,#05f 78.5px,#0028ff 83.5px,#0016ff 89.5px,#000aff 90.5px,#001aff 93.5px,#0030ff 95.5px,#0069ff 98.5px,#00adff 101.5px,#00fcff 107.5px,#0efff1 108.5px,#78ff87 113.5px,#b7ff48 118.5px,#dbff24 124.5px,#ecff13 130.5px,#df2 136.5px,#b3ff4c 143.5px,#75ff8a 148.5px,#05fffa 154.5px,#00f3ff 155.5px,#009bff 160.5px,#002aff 164.5px,#0000fd 166.5px,#0000b9 170.5px,#000094 171.5px,#000094 202px)"></i><i style="top:98px;background:linear-gradient(90deg,#000094 0px,#000094 21.5px,#0000d8 22.5px,#0000f2 23.5px,#0008ff 24.5px,#00a0ff 32.5px,#00fbff 36.5px,#0ffff0 37.5px,#52ffad 41.5px,#8aff75 45.5px,#9eff61 48.5px,#a7ff58 52.5px,#a0ff5f 55.5px,#8f7 59.5px,#57ffa8 62.5px,#00faff 69.5px,#00a0ff 73.5px,#0071ff 76.5px,#004cff 79.5px,#002cff 83.5px,#0019ff 89.5px,#000fff 90.5px,#001fff 93.5px,#0034ff 95.5px,#006cff 98.5px,#00aeff 101.5px,#00feff 107.5px,#78ff87 113.5px,#acff53 117.5px,#beff41 119.5px,#d9ff26 124.5px,#e9ff16 130.5px,#dbff24 136.5px,#b0ff4f 143.5px,#74ff8b 148.5px,#06fff9 154.5px,#00f5ff 155.5px,#009dff 160.5px,#002cff 164.5px,#00f 166.5px,#0000bd 170.5px,#000094 171.5px,#000094 202px)"></i><i style="top:99px;background:linear-gradient(90deg,#000094 0px,#000094 20.5px,#00009b 21.5px,#0000db 22.5px,#0000f4 23.5px,#0009ff 24.5px,#00a1ff 32.5px,#00fbff 36.5px,#0ffff0 37.5px,#4fffb0 41.5px,#84ff7b 45.5px,#97ff68 48.5px,#9fff60 52.5px,#9f6 55.5px,#81ff7e 59.5px,#54ffab 62.5px,#00faff 69.5px,#00a1ff 73.5px,#0073ff 76.5px,#004fff 79.5px,#002fff 83.5px,#001dff 89.5px,#0013ff 90.5px,#0023ff 93.5px,#0038ff 95.5px,#006fff 98.5px,#00b0ff 101.5px,#01fffe 107.5px,#78ff87 113.5px,#af5 117.5px,#d7ff28 124.5px,#e7ff18 130.5px,#d8ff27 136.5px,#aeff51 143.5px,#74ff8b 148.5px,#08fff7 154.5px,#00f7ff 155.5px,#00a0ff 160.5px,#002fff 164.5px,#0003ff 166.5px,#0000c0 170.5px,#000094 171.5px,#000094 202px)"></i><i style="top:100px;background:linear-gradient(90deg,#000094 0px,#000094 20.5px,#0000a1 21.5px,#00d 22.5px,#0000f5 23.5px,#000aff 24.5px,#00a2ff 32.5px,#00fbff 36.5px,#0efff1 37.5px,#4dffb2 41.5px,#7eff81 45.5px,#90ff6f 48.5px,#98ff67 52.5px,#91ff6e 55.5px,#7bff84 59.5px,#00fbff 69.5px,#00a3ff 73.5px,#0075ff 76.5px,#0052ff 79.5px,#0032ff 83.5px,#0018ff 90.5px,#0027ff 93.5px,#003cff 95.5px,#00b1ff 101.5px,#03fffc 107.5px,#78ff87 113.5px,#a9ff56 117.5px,#d4ff2b 124.5px,#e4ff1b 130.5px,#d5ff2a 136.5px,#acff53 143.5px,#73ff8c 148.5px,#0afff5 154.5px,#00f9ff 155.5px,#00b7ff 159.5px,#008aff 161.5px,#001aff 165.5px,#0006ff 166.5px,#0000f5 167.5px,#0000c3 170.5px,#000094 171.5px,#000094 202px)"></i><i style="top:101px;background:linear-gradient(90deg,#000094 0px,#000094 20.5px,#0000a8 21.5px,#0000e0 22.5px,#0000f6 23.5px,#000cff 24.5px,#00a2ff 32.5px,#00fbff 36.5px,#0efff1 37.5px,#4bffb4 41.5px,#78ff87 45.5px,#89ff76 48.5px,#91ff6e 52.5px,#8aff75 55.5px,#74ff8b 59.5px,#00fbff 69.5px,#00a5ff 73.5px,#07f 76.5px,#05f 79.5px,#0035ff 83.5px,#001cff 90.5px,#002cff 93.5px,#0040ff 95.5px,#00b2ff 101.5px,#05fffa 107.5px,#79ff86 113.5px,#a7ff58 117.5px,#d2ff2d 124.5px,#e2ff1d 130.5px,#d3ff2c 136.5px,#af5 143.5px,#73ff8c 148.5px,#00fbff 155.5px,#00a5ff 160.5px,#001cff 165.5px,#0009ff 166.5px,#0000f7 167.5px,#0000c7 170.5px,#000094 171.5px,#000094 202px)"></i><i style="top:102px;background:linear-gradient(90deg,#000094 0px,#000097 20.5px,#0000ae 21.5px,#0000e3 22.5px,#0000f8 23.5px,#000dff 24.5px,#00a3ff 32.5px,#00fbff 36.5px,#0dfff2 37.5px,#48ffb7 41.5px,#73ff8c 45.5px,#86ff79 49.5px,#89ff76 52.5px,#6eff91 59.5px,#00fcff 69.5px,#00a7ff 73.5px,#007aff 76.5px,#0057ff 79.5px,#0039ff 83.5px,#0021ff 90.5px,#0030ff 93.5px,#0045ff 95.5px,#00b3ff 101.5px,#00f6ff 106.5px,#06fff9 107.5px,#79ff86 113.5px,#a6ff59 117.5px,#cfff30 124.5px,#dfff20 130.5px,#d4ff2b 135.5px,#a8ff57 143.5px,#72ff8d 148.5px,#00fcff 155.5px,#00a7ff 160.5px,#0037ff 164.5px,#000bff 166.5px,#0000fa 167.5px,#0000ca 170.5px,#00009c 171.5px,#000094 172.5px,#000094 202px)"></i><i style="top:103px;background:linear-gradient(90deg,#000094 0px,#000094 19.5px,#00009c 20.5px,#0000b5 21.5px,#0000e5 22.5px,#0000f9 23.5px,#00a4ff 32.5px,#00fcff 36.5px,#0dfff2 37.5px,#46ffb9 41.5px,#6dff92 45.5px,#7fff80 49.5px,#82ff7d 52.5px,#67ff98 59.5px,#00fcff 69.5px,#00a9ff 73.5px,#007cff 76.5px,#005aff 79.5px,#003cff 83.5px,#0025ff 90.5px,#0035ff 93.5px,#0049ff 95.5px,#00b4ff 101.5px,#00f8ff 106.5px,#08fff7 107.5px,#79ff86 113.5px,#a4ff5b 117.5px,#cdff32 124.5px,#df2 130.5px,#cdff32 136.5px,#9dff62 144.5px,#64ff9b 149.5px,#00feff 155.5px,#0af 160.5px,#07f 162.5px,#0039ff 164.5px,#0000fc 167.5px,#0000cd 170.5px,#0000a5 171.5px,#000094 173.5px,#000094 202px)"></i><i style="top:104px;background:linear-gradient(90deg,#000094 0px,#000094 19.5px,#0000a2 20.5px,#0000bc 21.5px,#0000e7 22.5px,#0000fb 23.5px,#00a5ff 32.5px,#00fcff 36.5px,#0dfff2 37.5px,#4fb 41.5px,#60ff9f 44.5px,#75ff8a 48.5px,#7aff85 52.5px,#61ff9e 59.5px,#00fdff 69.5px,#00abff 73.5px,#007eff 76.5px,#005dff 79.5px,#003fff 83.5px,#002aff 90.5px,#0039ff 93.5px,#004dff 95.5px,#00b6ff 101.5px,#00f9ff 106.5px,#0afff5 107.5px,#6aff95 112.5px,#9aff65 116.5px,#c6ff39 123.5px,#daff25 130.5px,#caff35 136.5px,#9bff64 144.5px,#64ff9b 149.5px,#01fffe 155.5px,#00acff 160.5px,#007aff 162.5px,#003cff 164.5px,#00f 167.5px,#0000d1 170.5px,#0000ad 171.5px,#000097 173.5px,#000094 202px)"></i><i style="top:105px;background:linear-gradient(90deg,#000094 0px,#000094 19.5px,#0000a7 20.5px,#0000c2 21.5px,#0000e9 22.5px,#0000fc 23.5px,#00a6ff 32.5px,#00fcff 36.5px,#0cfff3 37.5px,#41ffbe 41.5px,#5bffa4 44.5px,#6eff91 48.5px,#73ff8c 52.5px,#5affa5 59.5px,#29ffd6 65.5px,#00feff 69.5px,#00acff 73.5px,#0081ff 76.5px,#0060ff 79.5px,#003eff 84.5px,#002eff 90.5px,#003eff 93.5px,#0051ff 95.5px,#00b7ff 101.5px,#00fbff 106.5px,#0cfff3 107.5px,#6aff95 112.5px,#9f6 116.5px,#c4ff3b 123.5px,#d7ff28 130.5px,#c8ff37 136.5px,#9f6 144.5px,#64ff9b 149.5px,#03fffc 155.5px,#00f2ff 156.5px,#00afff 160.5px,#007dff 162.5px,#003eff 164.5px,#0003ff 167.5px,#0000d4 170.5px,#0000b6 171.5px,#000095 174.5px,#000094 202px)"></i><i style="top:106px;background:linear-gradient(90deg,#000094 0px,#000094 19.5px,#0000ea 22.5px,#0000fe 23.5px,#00a7ff 32.5px,#00fcff 36.5px,#0cfff3 37.5px,#34ffcb 40.5px,#50ffaf 43.5px,#64ff9b 47.5px,#6cff93 51.5px,#53ffac 59.5px,#28ffd7 65.5px,#00feff 69.5px,#009fff 74.5px,#0062ff 79.5px,#0041ff 84.5px,#0032ff 90.5px,#0042ff 93.5px,#05f 95.5px,#00b8ff 101.5px,#00fdff 106.5px,#6bff94 112.5px,#98ff67 116.5px,#c6ff39 124.5px,#d5ff2a 130.5px,#c5ff3a 136.5px,#97ff68 144.5px,#70ff8f 148.5px,#05fffa 155.5px,#00f4ff 156.5px,#009cff 161.5px,#0041ff 164.5px,#0005ff 167.5px,#0000e8 169.5px,#0000b0 172.5px,#000094 175.5px,#000094 202px)"></i><i style="top:107px;background:linear-gradient(90deg,#000094 0px,#000094 19.5px,#0000ec 22.5px,#00f 23.5px,#00a8ff 32.5px,#00fcff 36.5px,#0cfff3 37.5px,#32ffcd 40.5px,#4cffb3 43.5px,#65ff9a 51.5px,#48ffb7 60.5px,#27ffd8 65.5px,#0ff 69.5px,#00b0ff 73.5px,#006fff 78.5px,#004dff 82.5px,#0037ff 89.5px,#0040ff 92.5px,#005aff 95.5px,#00b9ff 101.5px,#00feff 106.5px,#6cff93 112.5px,#8eff71 115.5px,#acff53 119.5px,#bfff40 123.5px,#d2ff2d 130.5px,#c2ff3d 136.5px,#95ff6a 144.5px,#70ff8f 148.5px,#07fff8 155.5px,#00f6ff 156.5px,#009fff 161.5px,#0043ff 164.5px,#002cff 165.5px,#0008ff 167.5px,#0000f8 168.5px,#0000b8 172.5px,#000094 175.5px,#000094 202px)"></i><i style="top:108px;background:linear-gradient(90deg,#000094 0px,#000094 19.5px,#0000d3 21.5px,#0001ff 23.5px,#00a9ff 32.5px,#00fcff 36.5px,#0bfff4 37.5px,#31ffce 40.5px,#49ffb6 43.5px,#60ff9f 51.5px,#58ffa7 55.5px,#40ffbf 61.5px,#26ffd9 65.5px,#0ff 69.5px,#00b2ff 73.5px,#0071ff 78.5px,#004fff 82.5px,#0038ff 89.5px,#0042ff 92.5px,#005cff 95.5px,#00baff 101.5px,#0ff 106.5px,#6cff93 112.5px,#8eff71 115.5px,#beff41 123.5px,#d1ff2e 130.5px,#c1ff3e 136.5px,#8dff72 145.5px,#63ff9c 149.5px,#08fff7 155.5px,#00f7ff 156.5px,#00b5ff 160.5px,#0085ff 162.5px,#04f 164.5px,#002eff 165.5px,#0009ff 167.5px,#0000f9 168.5px,#000094 175.5px,#000094 202px)"></i><i style="top:109px;background:linear-gradient(90deg,#000094 0px,#000094 19.5px,#0000d5 21.5px,#0003ff 23.5px,#00fdff 36.5px,#0cfff3 37.5px,#30ffcf 40.5px,#48ffb7 43.5px,#5fffa0 51.5px,#57ffa8 55.5px,#3fffc0 61.5px,#26ffd9 65.5px,#01fffe 69.5px,#00a3ff 74.5px,#0068ff 79.5px,#004aff 83.5px,#0038ff 89.5px,#0042ff 92.5px,#005cff 95.5px,#00baff 101.5px,#0ff 106.5px,#6cff93 112.5px,#8eff71 115.5px,#beff41 123.5px,#d1ff2e 130.5px,#c1ff3e 136.5px,#8dff72 145.5px,#63ff9c 149.5px,#08fff7 155.5px,#00f7ff 156.5px,#00b5ff 160.5px,#0085ff 162.5px,#04f 164.5px,#002eff 165.5px,#0009ff 167.5px,#0000f9 168.5px,#000094 175.5px,#000094 202px)"></i><i style="top:110px;background:linear-gradient(90deg,#000094 0px,#000094 19.5px,#0000d7 21.5px,#0004ff 23.5px,#00acff 32.5px,#00ebff 35.5px,#00fdff 36.5px,#0cfff3 37.5px,#2fffd0 40.5px,#47ffb8 43.5px,#5effa1 51.5px,#3effc1 61.5px,#25ffda 65.5px,#02fffd 69.5px,#00f2ff 70.5px,#00a5ff 74.5px,#005fff 80.5px,#0046ff 84.5px,#0038ff 89.5px,#0042ff 92.5px,#005cff 95.5px,#00baff 101.5px,#0ff 106.5px,#6cff93 112.5px,#8eff71 115.5px,#beff41 123.5px,#d1ff2e 130.5px,#c1ff3e 136.5px,#8dff72 145.5px,#63ff9c 149.5px,#08fff7 155.5px,#00f7ff 156.5px,#00b5ff 160.5px,#0085ff 162.5px,#04f 164.5px,#002eff 165.5px,#0009ff 167.5px,#0000f9 168.5px,#000094 175.5px,#000094 202px)"></i><i style="top:111px;background:linear-gradient(90deg,#000094 0px,#000094 19.5px,#0000d9 21.5px,#0005ff 23.5px,#00adff 32.5px,#00ecff 35.5px,#00fdff 36.5px,#0cfff3 37.5px,#2fffd0 40.5px,#46ffb9 43.5px,#5cffa3 51.5px,#3dffc2 61.5px,#25ffda 65.5px,#02fffd 69.5px,#00f3ff 70.5px,#00a6ff 74.5px,#0060ff 80.5px,#004aff 83.5px,#0038ff 89.5px,#0042ff 92.5px,#005cff 95.5px,#00baff 101.5px,#0ff 106.5px,#6cff93 112.5px,#8eff71 115.5px,#beff41 123.5px,#d1ff2e 130.5px,#c1ff3e 136.5px,#8dff72 145.5px,#63ff9c 149.5px,#08fff7 155.5px,#00f7ff 156.5px,#00b5ff 160.5px,#0085ff 162.5px,#04f 164.5px,#002eff 165.5px,#0009ff 167.5px,#0000f9 168.5px,#000094 175.5px,#000094 202px)"></i><i style="top:112px;background:linear-gradient(90deg,#000094 0px,#000094 19.5px,#0000bd 20.5px,#0000db 21.5px,#0006ff 23.5px,#00edff 35.5px,#00feff 36.5px,#0cfff3 37.5px,#2effd1 40.5px,#4fb 43.5px,#5bffa4 51.5px,#3cffc3 61.5px,#25ffda 65.5px,#03fffc 69.5px,#00f5ff 70.5px,#00a7ff 74.5px,#0061ff 80.5px,#004aff 83.5px,#0038ff 89.5px,#0042ff 92.5px,#005cff 95.5px,#00baff 101.5px,#0ff 106.5px,#6cff93 112.5px,#8eff71 115.5px,#beff41 123.5px,#d1ff2e 130.5px,#c1ff3e 136.5px,#8dff72 145.5px,#63ff9c 149.5px,#08fff7 155.5px,#00f7ff 156.5px,#00b5ff 160.5px,#0085ff 162.5px,#04f 164.5px,#002eff 165.5px,#0009ff 167.5px,#0000f9 168.5px,#000094 175.5px,#000094 202px)"></i><i style="top:113px;background:linear-gradient(90deg,#000094 0px,#000094 19.5px,#0000bf 20.5px,#0000f4 22.5px,#0008ff 23.5px,#0ef 35.5px,#00feff 36.5px,#0cfff3 37.5px,#2dffd2 40.5px,#43ffbc 43.5px,#5affa5 51.5px,#52ffad 55.5px,#36ffc9 62.5px,#03fffc 69.5px,#00f6ff 70.5px,#00a8ff 74.5px,#0057ff 81.5px,#0042ff 85.5px,#0038ff 89.5px,#0042ff 92.5px,#005cff 95.5px,#00baff 101.5px,#0ff 106.5px,#6cff93 112.5px,#8eff71 115.5px,#beff41 123.5px,#d1ff2e 130.5px,#c1ff3e 136.5px,#8dff72 145.5px,#63ff9c 149.5px,#08fff7 155.5px,#00f7ff 156.5px,#00b5ff 160.5px,#0085ff 162.5px,#04f 164.5px,#002eff 165.5px,#0009ff 167.5px,#0000f9 168.5px,#000094 175.5px,#000094 202px)"></i><i style="top:114px;background:linear-gradient(90deg,#000094 0px,#000094 19.5px,#0000c1 20.5px,#0000f5 22.5px,#0009ff 23.5px,#0ef 35.5px,#00feff 36.5px,#0cfff3 37.5px,#2cffd3 40.5px,#42ffbd 43.5px,#59ffa6 51.5px,#51ffae 55.5px,#35ffca 62.5px,#04fffb 69.5px,#00f7ff 70.5px,#00a9ff 74.5px,#0058ff 81.5px,#0042ff 85.5px,#0038ff 89.5px,#0042ff 92.5px,#005cff 95.5px,#00baff 101.5px,#0ff 106.5px,#6cff93 112.5px,#8eff71 115.5px,#beff41 123.5px,#d1ff2e 130.5px,#c1ff3e 136.5px,#8dff72 145.5px,#63ff9c 149.5px,#08fff7 155.5px,#00f7ff 156.5px,#00b5ff 160.5px,#0085ff 162.5px,#04f 164.5px,#002eff 165.5px,#0009ff 167.5px,#0000f9 168.5px,#000094 175.5px,#000094 202px)"></i></div>
<div class="hm" style="left:35px;top:209px;width:202px;height:116px"><i style="top:0px;background:linear-gradient(90deg,#000094 0px,#000097 16.5px,#0000a2 23.5px,#00b 28.5px,#0001ff 35.5px,#00a4ff 47.5px,#00bcff 50.5px,#00c1ff 52.5px,#00bcff 54.5px,#00a4ff 57.5px,#0019ff 67.5px,#0001ff 69.5px,#0000f6 70.5px,#0000c5 75.5px,#0000b1 78.5px,#0000a3 82.5px,#00009f 87.5px,#0000a6 93.5px,#0000b5 98.5px,#0000fe 110.5px,#0061ff 124.5px,#0076ff 131.5px,#0071ff 135.5px,#0061ff 139.5px,#0000fe 153.5px,#0000be 163.5px,#0000a2 171.5px,#000097 181.5px,#000094 202px)"></i><i style="top:1px;background:linear-gradient(90deg,#000094 0px,#000097 16.5px,#0000a3 23.5px,#0000be 28.5px,#0000fb 34.5px,#0021ff 37.5px,#00b9ff 47.5px,#00d3ff 50.5px,#00d9ff 52.5px,#00d4ff 54.5px,#00b9ff 57.5px,#002fff 66.5px,#0000fb 70.5px,#0000c8 75.5px,#0000b3 78.5px,#0000a4 82.5px,#00009f 87.5px,#0000a6 93.5px,#0000b6 98.5px,#0002ff 110.5px,#0063ff 123.5px,#07f 127.5px,#007fff 131.5px,#007aff 135.5px,#0069ff 139.5px,#0002ff 153.5px,#0000bf 163.5px,#0000a2 171.5px,#000097 181.5px,#000094 202px)"></i><i style="top:2px;background:linear-gradient(90deg,#000094 0px,#000096 15.5px,#0000a1 22.5px,#0000b9 27.5px,#0001ff 34.5px,#0039ff 38.5px,#00d0ff 47.5px,#00ecff 50.5px,#00f2ff 52.5px,#00edff 54.5px,#00d0ff 57.5px,#002aff 67.5px,#0002ff 70.5px,#0000f6 71.5px,#0000b5 78.5px,#0000a5 82.5px,#0000a0 87.5px,#0000a7 93.5px,#0000b7 98.5px,#0000fd 109.5px,#006cff 123.5px,#0081ff 127.5px,#008aff 131.5px,#0085ff 135.5px,#0072ff 139.5px,#0000fd 154.5px,#0000c0 163.5px,#0000a2 171.5px,#000097 181.5px,#000094 202px)"></i><i style="top:3px;background:linear-gradient(90deg,#000094 0px,#000096 15.5px,#0000a2 22.5px,#0000bc 27.5px,#0000fa 33.5px,#0007ff 34.5px,#0032ff 37.5px,#00c7ff 45.5px,#0ff 49.5px,#0efff1 52.5px,#0ff 55.5px,#00f5ff 56.5px,#00c7ff 59.5px,#03f 67.5px,#0000fb 71.5px,#0000c7 76.5px,#0000b2 79.5px,#0000a4 83.5px,#0000a0 87.5px,#0000b4 97.5px,#0002ff 109.5px,#0076ff 123.5px,#008cff 127.5px,#0095ff 131.5px,#0090ff 135.5px,#007cff 139.5px,#0001ff 154.5px,#0000bc 164.5px,#0000a3 171.5px,#000097 181.5px,#000094 202px)"></i><i style="top:4px;background:linear-gradient(90deg,#000094 0px,#000097 15.5px,#0000a3 22.5px,#0000bf 27.5px,#0001ff 33.5px,#004eff 38.5px,#0df 45.5px,#01fffe 47.5px,#24ffdb 50.5px,#2bffd4 52.5px,#24ffdb 54.5px,#01fffe 57.5px,#0df 59.5px,#004fff 66.5px,#0002ff 71.5px,#0000ca 76.5px,#0000b4 79.5px,#0000a5 83.5px,#0000a1 87.5px,#0000a6 92.5px,#0000b5 97.5px,#0000fd 108.5px,#08f 124.5px,#009cff 128.5px,#00a2ff 132.5px,#0098ff 136.5px,#0081ff 140.5px,#0000fc 155.5px,#0000bd 164.5px,#0000a3 171.5px,#000097 181.5px,#000094 202px)"></i><i style="top:5px;background:linear-gradient(90deg,#000094 0px,#000096 14.5px,#0000a1 21.5px,#0000b9 26.5px,#0000f9 32.5px,#0014ff 34.5px,#0046ff 37.5px,#00f4ff 45.5px,#09fff6 46.5px,#38ffc7 49.5px,#49ffb6 52.5px,#38ffc7 55.5px,#0afff5 58.5px,#00f5ff 59.5px,#0047ff 67.5px,#0015ff 70.5px,#0000fa 72.5px,#0000ce 76.5px,#0000b6 79.5px,#0000a6 83.5px,#0000a1 87.5px,#0000a6 92.5px,#0000b6 97.5px,#0001ff 108.5px,#008dff 123.5px,#00a6ff 127.5px,#00b0ff 131.5px,#0af 135.5px,#0094ff 139.5px,#0001ff 155.5px,#0000be 164.5px,#0000a3 171.5px,#000097 181.5px,#000094 202px)"></i><i style="top:6px;background:linear-gradient(90deg,#000094 0px,#000096 14.5px,#0000a1 21.5px,#0000bc 26.5px,#0000fd 32.5px,#001aff 34.5px,#0050ff 37.5px,#00f5ff 44.5px,#0dfff2 45.5px,#37ffc8 47.5px,#56ffa9 49.5px,#68ff97 52.5px,#56ffa9 55.5px,#37ffc8 57.5px,#0efff1 59.5px,#00f5ff 60.5px,#0051ff 67.5px,#001bff 70.5px,#00f 72.5px,#0000b8 79.5px,#0000a7 83.5px,#0000a2 87.5px,#0000a7 92.5px,#0000b7 97.5px,#0000fd 107.5px,#0021ff 111.5px,#009aff 123.5px,#00b4ff 127.5px,#00bfff 131.5px,#00b8ff 135.5px,#00a1ff 139.5px,#0017ff 153.5px,#0000fc 156.5px,#0000c0 164.5px,#0000a4 171.5px,#000097 181.5px,#000094 202px)"></i><i style="top:7px;background:linear-gradient(90deg,#000094 0px,#000096 14.5px,#0000a2 21.5px,#0000be 26.5px,#0003ff 32.5px,#0032ff 35.5px,#005bff 37.5px,#00f2ff 43.5px,#0dfff2 44.5px,#6f9 48.5px,#80ff7f 50.5px,#89ff76 52.5px,#80ff7f 54.5px,#6f9 56.5px,#0efff1 60.5px,#00f2ff 61.5px,#008aff 65.5px,#0047ff 68.5px,#0012ff 71.5px,#0000f7 73.5px,#0000ca 77.5px,#0000b4 80.5px,#0000a6 84.5px,#0000a3 88.5px,#0000b9 97.5px,#0002ff 107.5px,#00a8ff 123.5px,#00c4ff 127.5px,#00cfff 131.5px,#00c8ff 135.5px,#00b0ff 139.5px,#0001ff 156.5px,#0000bc 165.5px,#0000a2 172.5px,#000096 182.5px,#000094 202px)"></i><i style="top:8px;background:linear-gradient(90deg,#000094 0px,#000097 14.5px,#0000a3 21.5px,#0000c1 26.5px,#0000fa 31.5px,#0017ff 33.5px,#004fff 36.5px,#0097ff 39.5px,#00ebff 42.5px,#09fff6 43.5px,#5affa5 46.5px,#85ff7a 48.5px,#a1ff5e 50.5px,#abff54 52.5px,#a1ff5e 54.5px,#85ff7a 56.5px,#5affa5 58.5px,#09fff6 61.5px,#00ecff 62.5px,#0098ff 65.5px,#0050ff 68.5px,#0018ff 71.5px,#0000fb 73.5px,#0000ce 77.5px,#0000b6 80.5px,#0000a3 87.5px,#0000b5 96.5px,#0000fd 106.5px,#0023ff 110.5px,#00b7ff 123.5px,#00d4ff 127.5px,#00e0ff 131.5px,#00d9ff 135.5px,#00bfff 139.5px,#0023ff 153.5px,#0000fc 157.5px,#0000be 165.5px,#0000a2 172.5px,#000096 182.5px,#000094 202px)"></i><i style="top:9px;background:linear-gradient(90deg,#000094 0px,#000097 14.5px,#0000a4 21.5px,#0000c3 26.5px,#0000fe 31.5px,#001dff 33.5px,#0059ff 36.5px,#00a6ff 39.5px,#01fffe 42.5px,#7f8 46.5px,#a5ff5a 48.5px,#c4ff3b 50.5px,#cfff30 52.5px,#c4ff3b 54.5px,#a6ff59 56.5px,#7f8 58.5px,#01fffe 62.5px,#00a7ff 65.5px,#005aff 68.5px,#0030ff 70.5px,#0001ff 73.5px,#0000b7 80.5px,#00a 83.5px,#0000a4 87.5px,#0000a9 92.5px,#0000b7 96.5px,#0002ff 106.5px,#0036ff 111.5px,#00c7ff 123.5px,#00e6ff 127.5px,#00f3ff 131.5px,#00ebff 135.5px,#00d0ff 139.5px,#00a6ff 143.5px,#002aff 153.5px,#0001ff 157.5px,#0000bf 165.5px,#0000a2 172.5px,#000096 182.5px,#000094 202px)"></i><i style="top:10px;background:linear-gradient(90deg,#000094 0px,#000096 13.5px,#0000a1 20.5px,#0000bd 25.5px,#0003ff 31.5px,#004bff 35.5px,#0097ff 38.5px,#00f4ff 41.5px,#16ffe9 42.5px,#94ff6b 46.5px,#c7ff38 48.5px,#e8ff17 50.5px,#f3ff0c 52.5px,#e8ff17 54.5px,#c7ff38 56.5px,#95ff6a 58.5px,#16ffe9 62.5px,#00f4ff 63.5px,#0098ff 66.5px,#004cff 69.5px,#0014ff 72.5px,#0000f7 74.5px,#0000ca 78.5px,#0000b3 81.5px,#0000a4 88.5px,#0000b8 96.5px,#0000fd 105.5px,#0032ff 110.5px,#00d8ff 123.5px,#00f9ff 127.5px,#03fffc 129.5px,#07fff8 132.5px,#00feff 135.5px,#00ebff 138.5px,#00b5ff 143.5px,#0026ff 154.5px,#0000fc 158.5px,#00b 166.5px,#0000a3 172.5px,#000096 182.5px,#000094 202px)"></i><i style="top:11px;background:linear-gradient(90deg,#000094 0px,#000096 13.5px,#0000a2 20.5px,#0000bf 25.5px,#0000f9 30.5px,#0017ff 32.5px,#0053ff 35.5px,#0087ff 37.5px,#00e4ff 40.5px,#08fff7 41.5px,#b3ff4c 46.5px,#fdff02 49.5px,#ffe800 51.5px,#ffe500 52.5px,#fff100 54.5px,#fdff02 55.5px,#d0ff2f 57.5px,#94ff6b 59.5px,#08fff7 63.5px,#00e5ff 64.5px,#08f 67.5px,#05f 69.5px,#0019ff 72.5px,#0000fb 74.5px,#0000cd 78.5px,#0000b5 81.5px,#0000a5 88.5px,#0000ba 96.5px,#0003ff 105.5px,#003aff 110.5px,#00dfff 122.5px,#00feff 125.5px,#07fff8 126.5px,#18ffe7 129.5px,#1cffe3 132.5px,#13ffec 135.5px,#00feff 138.5px,#00d3ff 142.5px,#003aff 153.5px,#0002ff 158.5px,#0000bd 166.5px,#0000a3 172.5px,#000096 182.5px,#000094 202px)"></i><i style="top:12px;background:linear-gradient(90deg,#000094 0px,#000096 13.5px,#0000a3 20.5px,#0000c1 25.5px,#0000fd 30.5px,#001dff 32.5px,#005cff 35.5px,#0093ff 37.5px,#00f6ff 40.5px,#1bffe4 41.5px,#b0ff4f 45.5px,#f1ff0e 47.5px,#fff200 48.5px,#fc0 50.5px,#ffbe00 52.5px,#fc0 54.5px,#fff200 56.5px,#f1ff0e 57.5px,#d2ff2d 58.5px,#1cffe3 63.5px,#00f7ff 64.5px,#0094ff 67.5px,#005dff 69.5px,#0031ff 71.5px,#00f 74.5px,#0000cf 78.5px,#0000b7 81.5px,#00a 84.5px,#0000a6 88.5px,#0000ac 92.5px,#0000bc 96.5px,#0000fd 104.5px,#04f 110.5px,#00e5ff 121.5px,#00feff 123.5px,#09fff6 124.5px,#29ffd6 128.5px,#32ffcd 132.5px,#23ffdc 136.5px,#00fdff 140.5px,#0035ff 154.5px,#0000fc 159.5px,#0000bf 166.5px,#0000a1 173.5px,#000096 182.5px,#000094 202px)"></i><i style="top:13px;background:linear-gradient(90deg,#000094 0px,#000097 13.5px,#0000a3 20.5px,#0000c3 25.5px,#0001ff 30.5px,#0035ff 33.5px,#0065ff 35.5px,#00e2ff 39.5px,#08fff7 40.5px,#f1ff0e 46.5px,#ffec00 47.5px,#ffb700 49.5px,#ffa500 50.5px,#ff9700 52.5px,#ffa500 54.5px,#ffb700 55.5px,#ffeb00 57.5px,#f2ff0d 58.5px,#09fff6 64.5px,#00e3ff 65.5px,#0081ff 68.5px,#004dff 70.5px,#0012ff 73.5px,#0004ff 74.5px,#0000f6 75.5px,#0000b8 81.5px,#0000ab 84.5px,#0000a7 88.5px,#0000b9 95.5px,#0003ff 104.5px,#003fff 109.5px,#00eaff 120.5px,#06fff9 122.5px,#39ffc6 127.5px,#48ffb7 132.5px,#38ffc7 136.5px,#06fff9 141.5px,#00e9ff 143.5px,#003eff 154.5px,#0002ff 159.5px,#00b 167.5px,#0000a2 173.5px,#000097 182.5px,#000094 202px)"></i><i style="top:14px;background:linear-gradient(90deg,#000094 0px,#000097 13.5px,#0000a4 20.5px,#0000bc 24.5px,#0005ff 30.5px,#003cff 33.5px,#006dff 35.5px,#0af 37.5px,#00f1ff 39.5px,#19ffe6 40.5px,#eaff15 45.5px,#ffed00 46.5px,#ffab00 48.5px,#ff9100 49.5px,#ff7300 51.5px,#ff6f00 52.5px,#ff7300 53.5px,#ff9100 55.5px,#fa0 56.5px,#ffed00 58.5px,#ebff14 59.5px,#1affe5 64.5px,#00f2ff 65.5px,#008bff 68.5px,#05f 70.5px,#0017ff 73.5px,#0000f9 75.5px,#0000ba 81.5px,#0000ad 84.5px,#0000a8 88.5px,#00b 95.5px,#0000fd 103.5px,#003aff 108.5px,#00fdff 120.5px,#0dfff2 121.5px,#3fc 124.5px,#4fffb0 127.5px,#5fffa0 132.5px,#47ffb8 137.5px,#00fdff 143.5px,#0048ff 154.5px,#0012ff 158.5px,#0000fc 160.5px,#0000bd 167.5px,#0000a2 173.5px,#000097 182.5px,#000094 202px)"></i><i style="top:15px;background:linear-gradient(90deg,#000094 0px,#000097 13.5px,#0000a1 19.5px,#0000be 24.5px,#0000f9 29.5px,#0019ff 31.5px,#005aff 34.5px,#0094ff 36.5px,#01fffe 39.5px,#dcff23 44.5px,#fff700 45.5px,#ffa800 47.5px,#ff6b00 49.5px,#ff4b00 51.5px,#ff4600 52.5px,#ff4a00 53.5px,#ff6b00 55.5px,#ffa700 57.5px,#fff600 59.5px,#df2 60.5px,#02fffd 65.5px,#00dbff 66.5px,#0095ff 68.5px,#005cff 70.5px,#001bff 73.5px,#0000fc 75.5px,#0000bc 81.5px,#0000ae 84.5px,#0000a9 88.5px,#0000bd 95.5px,#0003ff 103.5px,#0053ff 109.5px,#01fffe 119.5px,#3dffc2 123.5px,#5effa1 126.5px,#72ff8d 129.5px,#7f8 132.5px,#6dff92 135.5px,#54ffab 138.5px,#01fffe 144.5px,#0052ff 154.5px,#0002ff 160.5px,#0000bf 167.5px,#0000a3 173.5px,#000097 182.5px,#000094 202px)"></i><i style="top:16px;background:linear-gradient(90deg,#000094 0px,#000097 13.5px,#0000a2 19.5px,#0000bf 24.5px,#0000fc 29.5px,#001dff 31.5px,#0048ff 33.5px,#007eff 35.5px,#00e6ff 38.5px,#10ffef 39.5px,#f6ff09 44.5px,#ffd900 45.5px,#ff8500 47.5px,#ff4500 49.5px,#f20 51.5px,#ff1d00 52.5px,#f20 53.5px,#ff4500 55.5px,#ff8500 57.5px,#ffd900 59.5px,#f7ff08 60.5px,#1fe 65.5px,#00e8ff 66.5px,#009fff 68.5px,#0063ff 70.5px,#0034ff 72.5px,#00f 75.5px,#0000be 81.5px,#0000af 84.5px,#0000a9 88.5px,#0000bf 95.5px,#0000fd 102.5px,#0021ff 105.5px,#004dff 108.5px,#03fffc 118.5px,#45ffba 122.5px,#6bff94 125.5px,#85ff7a 128.5px,#8fff70 131.5px,#8aff75 134.5px,#6bff94 138.5px,#45ffba 141.5px,#03fffc 145.5px,#004cff 155.5px,#0013ff 159.5px,#0000fb 161.5px,#00b 168.5px,#0000a1 174.5px,#000096 183.5px,#000094 202px)"></i><i style="top:17px;background:linear-gradient(90deg,#000094 0px,#000097 13.5px,#0000a3 19.5px,#0000c1 24.5px,#00f 29.5px,#0036ff 32.5px,#0068ff 34.5px,#00a7ff 36.5px,#00f3ff 38.5px,#1fffe0 39.5px,#dfff20 43.5px,#ffed00 44.5px,#ff8e00 46.5px,#ff3e00 48.5px,#ff0800 50.5px,#f90000 51.5px,#f80000 53.5px,#ff0800 54.5px,#ff1f00 55.5px,#ff6300 57.5px,#ffec00 60.5px,#e0ff1f 61.5px,#20ffdf 65.5px,#00f5ff 66.5px,#00a9ff 68.5px,#0050ff 71.5px,#0013ff 74.5px,#0003ff 75.5px,#0000f5 76.5px,#0000c8 80.5px,#0000b9 82.5px,#0000ab 88.5px,#0000bc 94.5px,#0003ff 102.5px,#0057ff 108.5px,#04fffb 117.5px,#4cffb3 121.5px,#83ff7c 125.5px,#a2ff5d 129.5px,#a7ff58 132.5px,#9dff62 135.5px,#83ff7c 138.5px,#4bffb4 142.5px,#04fffb 146.5px,#00efff 147.5px,#0056ff 155.5px,#0002ff 161.5px,#0000bd 168.5px,#0000a1 174.5px,#000096 183.5px,#000094 202px)"></i><i style="top:18px;background:linear-gradient(90deg,#000094 0px,#000097 13.5px,#0000a3 19.5px,#0000c3 24.5px,#0003ff 29.5px,#003bff 32.5px,#006fff 34.5px,#00b1ff 36.5px,#01fffe 38.5px,#5cffa3 40.5px,#f6ff09 43.5px,#ffd300 44.5px,#ff4200 47.5px,#ff1a00 48.5px,#f80000 49.5px,#d00000 51.5px,#cb0000 52.5px,#d00000 53.5px,#f80000 55.5px,#ff1a00 56.5px,#ff4200 57.5px,#ffd300 60.5px,#f7ff08 61.5px,#5effa1 64.5px,#02fffd 66.5px,#00d8ff 67.5px,#0090ff 69.5px,#003eff 72.5px,#0006ff 75.5px,#0000f8 76.5px,#00b 82.5px,#0000ac 88.5px,#0000be 94.5px,#0000fd 101.5px,#02f 104.5px,#0051ff 107.5px,#03fffc 116.5px,#62ff9d 121.5px,#9aff65 125.5px,#bf4 129.5px,#c0ff3f 132.5px,#b5ff4a 135.5px,#9aff65 138.5px,#61ff9e 142.5px,#03fffc 147.5px,#00edff 148.5px,#004fff 156.5px,#0013ff 160.5px,#0000fb 162.5px,#0000bf 168.5px,#0000a2 174.5px,#000096 183.5px,#000094 202px)"></i><i style="top:19px;background:linear-gradient(90deg,#000094 0px,#000098 13.5px,#0000a4 19.5px,#00b 23.5px,#0006ff 29.5px,#002aff 31.5px,#0059ff 33.5px,#0096ff 35.5px,#00e1ff 37.5px,#0dfff2 38.5px,#d6ff29 42.5px,#fff100 43.5px,#ff5100 46.5px,#f20 47.5px,#f60000 48.5px,#b90000 50.5px,#b30000 51.5px,#b90000 54.5px,#f60000 56.5px,#ff2100 57.5px,#ff5000 58.5px,#fff000 61.5px,#d7ff28 62.5px,#0ffff0 66.5px,#00e3ff 67.5px,#0098ff 69.5px,#005cff 71.5px,#001aff 74.5px,#0000fa 76.5px,#0000c3 81.5px,#0000b3 84.5px,#0000ad 87.5px,#00b 93.5px,#0000f7 100.5px,#000fff 102.5px,#004aff 106.5px,#01fffe 115.5px,#6f9 120.5px,#a6ff59 124.5px,#ceff31 128.5px,#d9ff26 131.5px,#cdff32 135.5px,#a6ff59 139.5px,#6f9 143.5px,#0ff 148.5px,#005aff 156.5px,#0028ff 159.5px,#0001ff 162.5px,#0000c2 168.5px,#0000a3 174.5px,#000097 182.5px,#000094 202px)"></i><i style="top:20px;background:linear-gradient(90deg,#000094 0px,#000098 13.5px,#0000a5 19.5px,#0000bd 23.5px,#0000f9 28.5px,#001aff 30.5px,#0045ff 32.5px,#009dff 35.5px,#00ebff 37.5px,#18ffe7 38.5px,#7bff84 40.5px,#e9ff16 42.5px,#ffdc00 43.5px,#ff0200 47.5px,#d40000 48.5px,#b30000 49.5px,#b30000 55.5px,#ff0100 57.5px,#ffda00 61.5px,#ebff14 62.5px,#7dff82 64.5px,#1affe5 66.5px,#00edff 67.5px,#00a0ff 69.5px,#0061ff 71.5px,#001dff 74.5px,#0000fd 76.5px,#0000be 82.5px,#0000ae 87.5px,#0000bd 93.5px,#0000fc 100.5px,#0023ff 103.5px,#0053ff 106.5px,#00fcff 114.5px,#7cff83 120.5px,#bdff42 124.5px,#e6ff19 128.5px,#f1ff0e 131.5px,#e6ff19 135.5px,#bdff42 139.5px,#7cff83 143.5px,#00fbff 149.5px,#0052ff 157.5px,#0013ff 161.5px,#0000fa 163.5px,#0000bd 169.5px,#0000a0 175.5px,#000096 183.5px,#000094 202px)"></i><i style="top:21px;background:linear-gradient(90deg,#000094 0px,#000097 12.5px,#0000a5 19.5px,#0000be 23.5px,#0000fb 28.5px,#001dff 30.5px,#0064ff 33.5px,#00a5ff 35.5px,#00f5ff 37.5px,#23ffdc 38.5px,#8aff75 40.5px,#fcff03 42.5px,#ff1800 46.5px,#e30000 47.5px,#b40000 48.5px,#b30000 49.5px,#b30000 56.5px,#e20000 57.5px,#ff1700 58.5px,#fdff02 62.5px,#57ffa8 65.5px,#26ffd9 66.5px,#00f7ff 67.5px,#00a7ff 69.5px,#0067ff 71.5px,#0035ff 73.5px,#00f 76.5px,#0000c0 82.5px,#0000af 87.5px,#0000c0 93.5px,#0000f6 99.5px,#0002ff 100.5px,#003aff 104.5px,#0086ff 108.5px,#00f7ff 113.5px,#0ffff0 114.5px,#7eff81 119.5px,#c6ff39 123.5px,#f6ff09 127.5px,#fffa00 129.5px,#fff400 132.5px,#feff01 135.5px,#e2ff1d 138.5px,#a4ff5b 142.5px,#0efff1 149.5px,#00f6ff 150.5px,#005cff 157.5px,#0028ff 160.5px,#0000fe 163.5px,#0000bf 169.5px,#0000a1 175.5px,#000096 183.5px,#000094 202px)"></i><i style="top:22px;background:linear-gradient(90deg,#000094 0px,#000097 12.5px,#0000a6 19.5px,#0000c0 23.5px,#0000fe 28.5px,#0035ff 31.5px,#0069ff 33.5px,#00abff 35.5px,#00feff 37.5px,#2effd1 38.5px,#d1ff2e 41.5px,#fff100 42.5px,#fd0000 46.5px,#c60000 47.5px,#b30000 48.5px,#b30000 56.5px,#c50000 57.5px,#fc0000 58.5px,#fff000 62.5px,#d3ff2c 63.5px,#63ff9c 65.5px,#01fffe 67.5px,#008bff 70.5px,#0051ff 72.5px,#0012ff 75.5px,#0003ff 76.5px,#0000f5 77.5px,#0000c1 82.5px,#0000b4 85.5px,#0000b1 88.5px,#0000c2 93.5px,#0000fb 99.5px,#0014ff 101.5px,#05f 105.5px,#00f0ff 112.5px,#09fff6 113.5px,#a8ff57 120.5px,#f9ff06 125.5px,#ffe200 129.5px,#ffdc00 131.5px,#ffe200 134.5px,#fffa00 137.5px,#ecff13 139.5px,#bf4 142.5px,#7eff81 145.5px,#08fff7 150.5px,#00efff 151.5px,#0053ff 158.5px,#0004ff 163.5px,#0000ba 170.5px,#0000a2 175.5px,#000096 183.5px,#000094 202px)"></i><i style="top:23px;background:linear-gradient(90deg,#000094 0px,#000098 12.5px,#0000a3 18.5px,#0000c1 23.5px,#0001ff 28.5px,#0023ff 30.5px,#0051ff 32.5px,#008eff 34.5px,#07fff8 37.5px,#6cff93 39.5px,#dfff20 41.5px,#ffe100 42.5px,#f20 45.5px,#e40000 46.5px,#b30000 47.5px,#b30000 57.5px,#e30000 58.5px,#ff2100 59.5px,#ffdf00 62.5px,#e1ff1e 63.5px,#6eff91 65.5px,#0afff5 67.5px,#0df 68.5px,#0091ff 70.5px,#05f 72.5px,#0027ff 74.5px,#0005ff 76.5px,#0000c3 82.5px,#0000b2 87.5px,#0000bf 92.5px,#0000f5 98.5px,#0001ff 99.5px,#000dff 100.5px,#004cff 104.5px,#0089ff 107.5px,#02fffd 112.5px,#a9ff56 119.5px,#e3ff1c 122.5px,#fffb00 124.5px,#ffd100 128.5px,#ffc500 132.5px,#ffd100 135.5px,#fffc00 139.5px,#e3ff1c 141.5px,#a8ff57 144.5px,#0ff 151.5px,#005dff 158.5px,#0027ff 161.5px,#0000fc 164.5px,#0000bc 170.5px,#0000a2 175.5px,#000096 183.5px,#000094 202px)"></i><i style="top:24px;background:linear-gradient(90deg,#000094 0px,#000098 12.5px,#0000a4 18.5px,#0000c3 23.5px,#0003ff 28.5px,#0026ff 30.5px,#05f 32.5px,#0093ff 34.5px,#00e1ff 36.5px,#0ffff0 37.5px,#76ff89 39.5px,#ecff13 41.5px,#ffd200 42.5px,#ff0e00 45.5px,#ce0000 46.5px,#b30000 47.5px,#b30000 57.5px,#cd0000 58.5px,#ff0d00 59.5px,#ffd100 62.5px,#ef1 63.5px,#79ff86 65.5px,#12ffed 67.5px,#00e4ff 68.5px,#0096ff 70.5px,#0059ff 72.5px,#002aff 74.5px,#0007ff 76.5px,#0000f9 77.5px,#0000c5 82.5px,#0000b4 87.5px,#0000c2 92.5px,#0000f9 98.5px,#0013ff 100.5px,#0042ff 103.5px,#0095ff 107.5px,#00f8ff 111.5px,#12ffed 112.5px,#a8ff57 118.5px,#f9ff06 122.5px,#ffc200 127.5px,#ffae00 131.5px,#ffba00 135.5px,#fc0 137.5px,#fff400 140.5px,#f9ff06 141.5px,#bdff42 144.5px,#1fe 151.5px,#00f6ff 152.5px,#0067ff 158.5px,#002eff 161.5px,#0002ff 164.5px,#0000bf 170.5px,#0000a0 176.5px,#000096 184.5px,#000094 202px)"></i><i style="top:25px;background:linear-gradient(90deg,#000094 0px,#000098 12.5px,#0000a4 18.5px,#00b 22.5px,#0005ff 28.5px,#0029ff 30.5px,#0059ff 32.5px,#0098ff 34.5px,#00e7ff 36.5px,#16ffe9 37.5px,#7fff80 39.5px,#f8ff07 41.5px,#ffc500 42.5px,#fb0000 45.5px,#ba0000 46.5px,#b30000 47.5px,#b30000 57.5px,#b90000 58.5px,#fa0000 59.5px,#ff3e00 60.5px,#faff05 63.5px,#82ff7d 65.5px,#19ffe6 67.5px,#00eaff 68.5px,#009bff 70.5px,#005dff 72.5px,#001aff 75.5px,#0000fb 77.5px,#0000c7 82.5px,#0000b5 87.5px,#0000c4 92.5px,#0000fe 98.5px,#0019ff 100.5px,#004bff 103.5px,#008aff 106.5px,#00edff 110.5px,#09fff6 111.5px,#a4ff5b 117.5px,#fcff03 121.5px,#ffb600 126.5px,#ff9f00 129.5px,#f90 131.5px,#ff9b00 133.5px,#ffad00 136.5px,#ffc200 138.5px,#fff000 141.5px,#fcff03 142.5px,#d2ff2d 144.5px,#07fff8 152.5px,#00ecff 153.5px,#08f 157.5px,#0048ff 160.5px,#0015ff 163.5px,#0000fa 165.5px,#0000b9 171.5px,#0000a1 176.5px,#000096 184.5px,#000094 202px)"></i><i style="top:26px;background:linear-gradient(90deg,#000094 0px,#000098 12.5px,#0000a5 18.5px,#0000bc 22.5px,#0000f7 27.5px,#0007ff 28.5px,#002bff 30.5px,#005cff 32.5px,#009cff 34.5px,#00edff 36.5px,#1dffe2 37.5px,#8f7 39.5px,#fffc00 41.5px,#ff3100 44.5px,#eb0000 45.5px,#b30000 46.5px,#b30000 58.5px,#ea0000 59.5px,#ff2f00 60.5px,#fff900 63.5px,#20ffdf 67.5px,#00f0ff 68.5px,#00a0ff 70.5px,#0060ff 72.5px,#001cff 75.5px,#0000fd 77.5px,#0000c9 82.5px,#0000b7 87.5px,#0000c7 92.5px,#0004ff 98.5px,#002fff 101.5px,#0069ff 104.5px,#00fdff 110.5px,#9fff60 116.5px,#fdff02 120.5px,#ffca00 123.5px,#ffa100 126.5px,#ff8a00 129.5px,#ff8400 131.5px,#ff8600 133.5px,#ff9800 136.5px,#fb0 139.5px,#fe0 142.5px,#fcff03 143.5px,#cfff30 145.5px,#00fbff 153.5px,#06f 159.5px,#002bff 162.5px,#0000fe 165.5px,#00b 171.5px,#0000a1 176.5px,#000096 184.5px,#000094 202px)"></i><i style="top:27px;background:linear-gradient(90deg,#000094 0px,#009 12.5px,#0000a6 18.5px,#0000be 22.5px,#0000f9 27.5px,#001aff 29.5px,#0045ff 31.5px,#00a0ff 34.5px,#00f2ff 36.5px,#2fd 37.5px,#cbff34 40.5px,#fff300 41.5px,#ff2500 44.5px,#de0000 45.5px,#b30000 46.5px,#b30000 58.5px,#dc0000 59.5px,#ff2300 60.5px,#fff000 63.5px,#ceff31 64.5px,#26ffd9 67.5px,#00f5ff 68.5px,#00a4ff 70.5px,#0064ff 72.5px,#0032ff 74.5px,#00f 77.5px,#0000cb 82.5px,#0000b9 87.5px,#0000ca 92.5px,#0000fb 97.5px,#0016ff 99.5px,#0049ff 102.5px,#0089ff 105.5px,#00f0ff 109.5px,#0dfff2 110.5px,#98ff67 115.5px,#fbff04 119.5px,#ffc700 122.5px,#f90 125.5px,#ff7b00 128.5px,#ff7000 131.5px,#ff7600 134.5px,#ff8d00 137.5px,#ffb600 140.5px,#fe0 143.5px,#faff05 144.5px,#96ff69 148.5px,#0bfff4 153.5px,#0ef 154.5px,#0059ff 160.5px,#0004ff 165.5px,#0000be 171.5px,#0000a2 176.5px,#000096 184.5px,#000094 202px)"></i><i style="top:28px;background:linear-gradient(90deg,#000094 0px,#009 12.5px,#0000a6 18.5px,#0000bf 22.5px,#0000fb 27.5px,#001cff 29.5px,#0062ff 32.5px,#00a3ff 34.5px,#00f6ff 36.5px,#27ffd8 37.5px,#d2ff2d 40.5px,#ffeb00 41.5px,#ff1b00 44.5px,#d30000 45.5px,#b30000 46.5px,#b30000 58.5px,#d20000 59.5px,#ff1900 60.5px,#ffe900 63.5px,#d5ff2a 64.5px,#5fffa0 66.5px,#00faff 68.5px,#00a8ff 70.5px,#0067ff 72.5px,#0035ff 74.5px,#0002ff 77.5px,#0000cd 82.5px,#00b 87.5px,#0000c7 91.5px,#0001ff 97.5px,#002cff 100.5px,#06f 103.5px,#0ff 109.5px,#deff21 117.5px,#f7ff08 118.5px,#fff000 119.5px,#ffa200 123.5px,#ff7a00 126.5px,#ff6200 129.5px,#ff5d00 132.5px,#ff6900 135.5px,#ff8600 138.5px,#ffb400 141.5px,#fff100 144.5px,#f6ff09 145.5px,#df2 146.5px,#00fdff 154.5px,#0091ff 158.5px,#004dff 161.5px,#0017ff 164.5px,#0000fa 166.5px,#0000b8 172.5px,#0000a0 177.5px,#000096 184.5px,#000094 202px)"></i><i style="top:29px;background:linear-gradient(90deg,#000094 0px,#009 12.5px,#0000a7 18.5px,#0000c0 22.5px,#0000fc 27.5px,#001dff 29.5px,#0065ff 32.5px,#00a7ff 34.5px,#00faff 36.5px,#2bffd4 37.5px,#d7ff28 40.5px,#ffe600 41.5px,#ff1400 44.5px,#cb0000 45.5px,#b30000 46.5px,#b30000 58.5px,#ca0000 59.5px,#ff1200 60.5px,#ffe300 63.5px,#daff25 64.5px,#64ff9b 66.5px,#00feff 68.5px,#00abff 70.5px,#004fff 73.5px,#0012ff 76.5px,#0004ff 77.5px,#0000f6 78.5px,#0000c8 83.5px,#0000bd 87.5px,#0000ca 91.5px,#0005ff 97.5px,#02f 99.5px,#0059ff 102.5px,#009fff 105.5px,#00f1ff 108.5px,#0efff1 109.5px,#d6ff29 116.5px,#f0ff0f 117.5px,#fff500 118.5px,#ffa100 122.5px,#ff7300 125.5px,#ff5100 129.5px,#ff4b00 132.5px,#ff5700 135.5px,#ff7400 138.5px,#ffa100 141.5px,#fff600 145.5px,#d5ff2a 147.5px,#0cfff3 154.5px,#0ef 155.5px,#009cff 158.5px,#05f 161.5px,#001cff 164.5px,#0000fe 166.5px,#0000ba 172.5px,#0000a0 177.5px,#000096 184.5px,#000094 202px)"></i><i style="top:30px;background:linear-gradient(90deg,#000094 0px,#00009a 12.5px,#0000a8 18.5px,#0000c2 22.5px,#0000fe 27.5px,#0034ff 30.5px,#0067ff 32.5px,#00a9ff 34.5px,#00fdff 36.5px,#2fffd0 37.5px,#dbff24 40.5px,#ffe100 41.5px,#ff0f00 44.5px,#c60000 45.5px,#b30000 46.5px,#b30000 58.5px,#c40000 59.5px,#ff0d00 60.5px,#ffde00 63.5px,#deff21 64.5px,#68ff97 66.5px,#02fffd 68.5px,#008bff 71.5px,#0051ff 73.5px,#0014ff 76.5px,#0000f8 78.5px,#0000ca 83.5px,#0000bf 87.5px,#0000cd 91.5px,#0000fc 96.5px,#0028ff 99.5px,#0062ff 102.5px,#0af 105.5px,#00feff 108.5px,#1cffe3 109.5px,#b0ff4f 114.5px,#fffc00 117.5px,#ffa200 121.5px,#ff6f00 124.5px,#ff4500 128.5px,#ff3a00 131.5px,#ff4000 134.5px,#ff6200 138.5px,#ffa300 142.5px,#fffe00 146.5px,#00fbff 155.5px,#00a7ff 158.5px,#005dff 161.5px,#02f 164.5px,#0003ff 166.5px,#0000bc 172.5px,#0000a1 177.5px,#000096 184.5px,#000094 202px)"></i><i style="top:31px;background:linear-gradient(90deg,#000094 0px,#009 11.5px,#0000a9 18.5px,#0000c3 22.5px,#00f 27.5px,#0036ff 30.5px,#0069ff 32.5px,#00acff 34.5px,#01fffe 36.5px,#67ff98 38.5px,#dfff20 40.5px,#ffde00 41.5px,#ff0b00 44.5px,#c30000 45.5px,#b30000 46.5px,#b30000 58.5px,#c10000 59.5px,#ff0900 60.5px,#ffdb00 63.5px,#e2ff1d 64.5px,#6bff94 66.5px,#05fffa 68.5px,#00d8ff 69.5px,#008eff 71.5px,#0054ff 73.5px,#0028ff 75.5px,#0007ff 77.5px,#0000fa 78.5px,#00c 83.5px,#0000c1 86.5px,#0000ca 90.5px,#0000f5 95.5px,#0002ff 96.5px,#0040ff 100.5px,#0082ff 103.5px,#0ef 107.5px,#0cfff3 108.5px,#f8ff07 116.5px,#ffec00 117.5px,#ff9100 121.5px,#ff5f00 124.5px,#ff3600 128.5px,#ff2b00 131.5px,#ff3000 134.5px,#ff5200 138.5px,#ff9200 142.5px,#ffed00 146.5px,#f7ff08 147.5px,#09fff6 155.5px,#00eaff 156.5px,#0097ff 159.5px,#004fff 162.5px,#0017ff 165.5px,#0000f9 167.5px,#0000be 172.5px,#0000a1 177.5px,#000096 184.5px,#000094 202px)"></i><i style="top:32px;background:linear-gradient(90deg,#000094 0px,#009 11.5px,#0000a6 17.5px,#0000c5 22.5px,#0002ff 27.5px,#0038ff 30.5px,#006bff 32.5px,#00aeff 34.5px,#03fffc 36.5px,#6aff95 38.5px,#e1ff1e 40.5px,#ffdb00 41.5px,#ff0900 44.5px,#c00000 45.5px,#b30000 46.5px,#b30000 58.5px,#be0000 59.5px,#ff0600 60.5px,#ffd800 63.5px,#e5ff1a 64.5px,#6eff91 66.5px,#08fff7 68.5px,#00dbff 69.5px,#0090ff 71.5px,#0056ff 73.5px,#0018ff 76.5px,#0000fc 78.5px,#0000ce 83.5px,#0000c3 87.5px,#0000cd 90.5px,#0000f9 95.5px,#0013ff 97.5px,#0047ff 100.5px,#008bff 103.5px,#00faff 107.5px,#19ffe6 108.5px,#d0ff2f 114.5px,#fff600 116.5px,#ff9600 120.5px,#ff5000 124.5px,#ff2f00 127.5px,#ff1c00 131.5px,#ff2700 135.5px,#ff5000 139.5px,#ff9700 143.5px,#fff800 147.5px,#ceff31 149.5px,#16ffe9 155.5px,#00f6ff 156.5px,#00a0ff 159.5px,#0056ff 162.5px,#001cff 165.5px,#0000fd 167.5px,#0000c0 172.5px,#0000a2 177.5px,#000096 184.5px,#000094 202px)"></i><i style="top:33px;background:linear-gradient(90deg,#000095 0px,#00009a 11.5px,#0000a7 17.5px,#0000c6 22.5px,#0003ff 27.5px,#003aff 30.5px,#006eff 32.5px,#00b1ff 34.5px,#06fff9 36.5px,#6cff93 38.5px,#e4ff1b 40.5px,#ffd900 41.5px,#ff0700 44.5px,#bf0000 45.5px,#b30000 46.5px,#b30000 58.5px,#bd0000 59.5px,#ff0500 60.5px,#ffd500 63.5px,#e8ff17 64.5px,#71ff8e 66.5px,#0bfff4 68.5px,#00deff 69.5px,#0093ff 71.5px,#0059ff 73.5px,#002cff 75.5px,#0000fe 78.5px,#0000d1 83.5px,#0000c6 87.5px,#0000d0 90.5px,#0000fd 95.5px,#0018ff 97.5px,#004eff 100.5px,#0094ff 103.5px,#00e8ff 106.5px,#07fff8 107.5px,#fcff03 115.5px,#ff9c00 119.5px,#ff5000 123.5px,#ff2100 127.5px,#ff0f00 131.5px,#ff1a00 135.5px,#ff4200 139.5px,#f80 143.5px,#ffe800 147.5px,#faff05 148.5px,#03fffc 156.5px,#00e4ff 157.5px,#005dff 162.5px,#0021ff 165.5px,#0001ff 167.5px,#0000b9 173.5px,#00009f 178.5px,#000096 185.5px,#000094 202px)"></i><i style="top:34px;background:linear-gradient(90deg,#000095 0px,#00009a 11.5px,#0000a8 17.5px,#0000bf 21.5px,#0005ff 27.5px,#003cff 30.5px,#0070ff 32.5px,#00dbff 35.5px,#08fff7 36.5px,#6eff91 38.5px,#e6ff19 40.5px,#ffd700 41.5px,#ff0700 44.5px,#bf0000 45.5px,#b30000 46.5px,#b30000 58.5px,#bd0000 59.5px,#ff0400 60.5px,#ffd400 63.5px,#eaff15 64.5px,#73ff8c 66.5px,#0efff1 68.5px,#00e1ff 69.5px,#0096ff 71.5px,#005bff 73.5px,#002fff 75.5px,#0001ff 78.5px,#0000d3 83.5px,#0000c8 87.5px,#0000d3 90.5px,#0001ff 95.5px,#002dff 98.5px,#0054ff 100.5px,#009dff 103.5px,#00f3ff 106.5px,#13ffec 107.5px,#edff12 114.5px,#fff400 115.5px,#ff7900 120.5px,#ff3500 124.5px,#ff0d00 128.5px,#ff0300 132.5px,#ff1500 136.5px,#f40 140.5px,#ff9000 144.5px,#fff600 148.5px,#ebff14 149.5px,#0ffff0 156.5px,#0ef 157.5px,#0064ff 162.5px,#0025ff 165.5px,#0005ff 167.5px,#00b 173.5px,#0000a0 178.5px,#000096 185.5px,#000094 202px)"></i><i style="top:35px;background:linear-gradient(90deg,#000095 0px,#00009a 11.5px,#0000a9 17.5px,#0000c1 21.5px,#0000f8 26.5px,#0007ff 27.5px,#0029ff 29.5px,#0056ff 31.5px,#0092ff 33.5px,#0df 35.5px,#0afff5 36.5px,#70ff8f 38.5px,#e7ff18 40.5px,#ffd600 41.5px,#ff0700 44.5px,#c00000 45.5px,#b30000 46.5px,#b30000 58.5px,#be0000 59.5px,#ff0400 60.5px,#ffd200 63.5px,#ebff14 64.5px,#75ff8a 66.5px,#10ffef 68.5px,#00e3ff 69.5px,#0098ff 71.5px,#005eff 73.5px,#0031ff 75.5px,#0003ff 78.5px,#0000d6 83.5px,#0000cb 87.5px,#0000d6 90.5px,#0005ff 95.5px,#03f 98.5px,#005bff 100.5px,#00a6ff 103.5px,#00feff 106.5px,#fbff04 114.5px,#ff8100 119.5px,#ff4600 122.5px,#ff2800 124.5px,#ff0200 128.5px,#f70000 131.5px,#fc0000 134.5px,#ff1200 137.5px,#ff4700 141.5px,#ff8200 144.5px,#ffe800 148.5px,#f8ff07 149.5px,#1affe5 156.5px,#00f9ff 157.5px,#00a0ff 160.5px,#0054ff 163.5px,#0018ff 166.5px,#0000fa 168.5px,#0000bd 173.5px,#0000a0 178.5px,#000096 185.5px,#000094 202px)"></i><i style="top:36px;background:linear-gradient(90deg,#000095 0px,#00009b 11.5px,#00a 17.5px,#0000c2 21.5px,#0000fa 26.5px,#0018ff 28.5px,#0058ff 31.5px,#0094ff 33.5px,#00dfff 35.5px,#0dfff2 36.5px,#72ff8d 38.5px,#e8ff17 40.5px,#ffd500 41.5px,#ff0800 44.5px,#c20000 45.5px,#b30000 46.5px,#b30000 58.5px,#bf0000 59.5px,#ff0500 60.5px,#ffd100 63.5px,#edff12 64.5px,#7f8 66.5px,#13ffec 68.5px,#00e6ff 69.5px,#009bff 71.5px,#0048ff 74.5px,#0012ff 77.5px,#0000f9 79.5px,#0000d3 84.5px,#0000ce 87.5px,#0000d9 90.5px,#0000fc 94.5px,#0009ff 95.5px,#0038ff 98.5px,#0061ff 100.5px,#00e9ff 105.5px,#09fff6 106.5px,#eaff15 113.5px,#fff600 114.5px,#ffa400 117.5px,#ff6000 120.5px,#ff3b00 122.5px,#f10 125.5px,#fe0000 127.5px,#ed0000 131.5px,#fe0000 136.5px,#ff1e00 139.5px,#ff4e00 142.5px,#ff8d00 145.5px,#fff900 149.5px,#c8ff37 151.5px,#04fffb 157.5px,#00e3ff 158.5px,#005aff 163.5px,#001dff 166.5px,#0000fd 168.5px,#0000be 173.5px,#0000a1 178.5px,#000096 185.5px,#000094 202px)"></i><i style="top:37px;background:linear-gradient(90deg,#000095 0px,#00009b 11.5px,#0000ab 17.5px,#0000c4 21.5px,#0000fc 26.5px,#001aff 28.5px,#005bff 31.5px,#0096ff 33.5px,#00e2ff 35.5px,#0ffff0 36.5px,#74ff8b 38.5px,#e9ff16 40.5px,#ffd500 41.5px,#ff0a00 44.5px,#c50000 45.5px,#b30000 46.5px,#b30000 58.5px,#c20000 59.5px,#ff0700 60.5px,#ffd100 63.5px,#ef1 64.5px,#79ff86 66.5px,#15ffea 68.5px,#00e8ff 69.5px,#009eff 71.5px,#004bff 74.5px,#0015ff 77.5px,#0000fb 79.5px,#0000d6 84.5px,#0000d1 87.5px,#00d 90.5px,#00f 94.5px,#002bff 97.5px,#0051ff 99.5px,#009aff 102.5px,#00f2ff 105.5px,#13ffec 106.5px,#f6ff09 113.5px,#ffea00 114.5px,#ff9800 117.5px,#f50 120.5px,#ff3000 122.5px,#ff0800 125.5px,#fd0000 126.5px,#e40000 131.5px,#e90000 134.5px,#fd0000 137.5px,#f20 140.5px,#ff5600 143.5px,#ff9a00 146.5px,#ffed00 149.5px,#f3ff0c 150.5px,#0efff1 157.5px,#00ecff 158.5px,#0060ff 163.5px,#0034ff 165.5px,#00f 168.5px,#0000c0 173.5px,#0000a1 178.5px,#000096 185.5px,#000094 202px)"></i><i style="top:38px;background:linear-gradient(90deg,#000095 0px,#00009b 10.5px,#0000a8 16.5px,#0000c6 21.5px,#0000fd 26.5px,#001cff 28.5px,#005dff 31.5px,#0098ff 33.5px,#00e4ff 35.5px,#1fe 36.5px,#75ff8a 38.5px,#e9ff16 40.5px,#ffd600 41.5px,#ff0d00 44.5px,#c90000 45.5px,#b30000 46.5px,#b30000 58.5px,#c60000 59.5px,#ff0900 60.5px,#ffd100 63.5px,#ef1 64.5px,#7bff84 66.5px,#17ffe8 68.5px,#00ebff 69.5px,#00a1ff 71.5px,#004eff 74.5px,#0017ff 77.5px,#0000fe 79.5px,#0000d9 84.5px,#0000d4 87.5px,#0000da 89.5px,#0003ff 94.5px,#002fff 97.5px,#0057ff 99.5px,#00a2ff 102.5px,#00fbff 105.5px,#1cffe3 106.5px,#fffd00 113.5px,#ffa700 116.5px,#ff5f00 119.5px,#ff2700 122.5px,#fe0000 125.5px,#e60000 128.5px,#d00 132.5px,#e60000 135.5px,#f00 138.5px,#ff1900 140.5px,#ff4c00 143.5px,#ff8f00 146.5px,#ffe200 149.5px,#feff01 150.5px,#17ffe8 157.5px,#00f5ff 158.5px,#0065ff 163.5px,#0038ff 165.5px,#0003ff 168.5px,#0000b8 174.5px,#0000a2 178.5px,#000096 185.5px,#000094 202px)"></i><i style="top:39px;background:linear-gradient(90deg,#000095 0px,#00009b 10.5px,#0000a9 16.5px,#0000c8 21.5px,#00f 26.5px,#0031ff 29.5px,#005fff 31.5px,#009bff 33.5px,#00e6ff 35.5px,#12ffed 36.5px,#76ff89 38.5px,#e9ff16 40.5px,#ffd600 41.5px,#ff1000 44.5px,#cd0000 45.5px,#b30000 46.5px,#b30000 58.5px,#ca0000 59.5px,#ff0c00 60.5px,#ffd100 63.5px,#efff10 64.5px,#49ffb6 67.5px,#1affe5 68.5px,#00edff 69.5px,#00a3ff 71.5px,#0051ff 74.5px,#0029ff 76.5px,#0001ff 79.5px,#0000dc 84.5px,#0000d7 86.5px,#00d 89.5px,#0006ff 94.5px,#03f 97.5px,#005cff 99.5px,#008dff 101.5px,#05fffa 105.5px,#ecff13 112.5px,#fff300 113.5px,#ff9d00 116.5px,#f50 119.5px,#ff2f00 121.5px,#ff0200 124.5px,#df0000 128.5px,#d60000 131.5px,#df0000 135.5px,#f70000 138.5px,#ff1000 140.5px,#ff5700 144.5px,#ff9f00 147.5px,#fff600 150.5px,#e9ff16 151.5px,#00fdff 158.5px,#00a1ff 161.5px,#0052ff 164.5px,#0016ff 167.5px,#0000f7 169.5px,#0000ba 174.5px,#00009f 179.5px,#000096 186.5px,#000094 202px)"></i><i style="top:40px;background:linear-gradient(90deg,#000095 0px,#00009c 10.5px,#0000ab 16.5px,#0000c2 20.5px,#0002ff 26.5px,#0034ff 29.5px,#0062ff 31.5px,#009dff 33.5px,#00e8ff 35.5px,#14ffeb 36.5px,#7f8 38.5px,#e9ff16 40.5px,#ffd700 41.5px,#ff1400 44.5px,#d20000 45.5px,#b30000 46.5px,#b30000 58.5px,#cf0000 59.5px,#ff1000 60.5px,#ffd200 63.5px,#efff10 64.5px,#4bffb4 67.5px,#1cffe3 68.5px,#00f0ff 69.5px,#00a6ff 71.5px,#0054ff 74.5px,#001cff 77.5px,#0004ff 79.5px,#0000f9 80.5px,#0000e0 84.5px,#0000da 87.5px,#0000e0 89.5px,#0000fd 93.5px,#0009ff 94.5px,#0038ff 97.5px,#0061ff 99.5px,#0093ff 101.5px,#00ecff 104.5px,#0dfff2 105.5px,#f6ff09 112.5px,#ffe900 113.5px,#ff6200 118.5px,#ff3800 120.5px,#ff0800 123.5px,#fa0000 124.5px,#d80000 128.5px,#d00000 131.5px,#d90000 135.5px,#fb0000 139.5px,#ff1700 141.5px,#ff4e00 144.5px,#ff9600 147.5px,#ffec00 150.5px,#f2ff0d 151.5px,#06fff9 158.5px,#00e4ff 159.5px,#008aff 162.5px,#0057ff 164.5px,#0019ff 167.5px,#0000f9 169.5px,#00b 174.5px,#00009f 179.5px,#000096 186.5px,#000094 202px)"></i><i style="top:41px;background:linear-gradient(90deg,#000095 0px,#00009c 10.5px,#0000ac 16.5px,#0000c4 20.5px,#0005ff 26.5px,#0036ff 29.5px,#0064ff 31.5px,#00a0ff 33.5px,#00eaff 35.5px,#16ffe9 36.5px,#78ff87 38.5px,#e9ff16 40.5px,#ffd800 41.5px,#ff1800 44.5px,#d80000 45.5px,#b30000 46.5px,#b30000 58.5px,#d40000 59.5px,#ff1400 60.5px,#ffd300 63.5px,#efff10 64.5px,#4dffb2 67.5px,#1effe1 68.5px,#00f2ff 69.5px,#00a9ff 71.5px,#0057ff 74.5px,#001fff 77.5px,#0000fc 80.5px,#0000e3 84.5px,#00d 87.5px,#0000e9 90.5px,#0001ff 93.5px,#002aff 96.5px,#0050ff 98.5px,#09f 101.5px,#00f3ff 104.5px,#14ffeb 105.5px,#ff0 112.5px,#ffa600 115.5px,#ff5a00 118.5px,#ff3100 120.5px,#ff0100 123.5px,#d90000 127.5px,#cb0000 131.5px,#d30000 135.5px,#ff0200 140.5px,#f30 143.5px,#ff5c00 145.5px,#ffe400 150.5px,#fbff04 151.5px,#0dfff2 158.5px,#00ebff 159.5px,#0090ff 162.5px,#005bff 164.5px,#001cff 167.5px,#0000fb 169.5px,#0000bc 174.5px,#00009f 179.5px,#000096 186.5px,#000094 202px)"></i><i style="top:42px;background:linear-gradient(90deg,#000095 0px,#00009d 10.5px,#0000ad 16.5px,#0000c6 20.5px,#0000f9 25.5px,#0007ff 26.5px,#0038ff 29.5px,#0067ff 31.5px,#00a2ff 33.5px,#00ecff 35.5px,#18ffe7 36.5px,#79ff86 38.5px,#e8ff17 40.5px,#ffda00 41.5px,#ff1d00 44.5px,#de0000 45.5px,#b30000 46.5px,#b30000 58.5px,#da0000 59.5px,#ff1900 60.5px,#ffd400 63.5px,#efff10 64.5px,#4effb1 67.5px,#20ffdf 68.5px,#00f5ff 69.5px,#00acff 71.5px,#005aff 74.5px,#02f 77.5px,#0000fe 80.5px,#0000ea 83.5px,#0000e0 87.5px,#0004ff 93.5px,#002dff 96.5px,#0054ff 98.5px,#009fff 101.5px,#00f9ff 104.5px,#1bffe4 105.5px,#e7ff18 111.5px,#fff700 112.5px,#ff6a00 117.5px,#ff2a00 120.5px,#ff0900 122.5px,#fa0000 123.5px,#d40000 127.5px,#c60000 131.5px,#d40000 136.5px,#fb0000 140.5px,#ff1a00 142.5px,#f50 145.5px,#ffa100 148.5px,#fffb00 151.5px,#14ffeb 158.5px,#00f1ff 159.5px,#005fff 164.5px,#001fff 167.5px,#0000fd 169.5px,#0000bd 174.5px,#0000a0 179.5px,#000096 186.5px,#000094 202px)"></i><i style="top:43px;background:linear-gradient(90deg,#000095 0px,#00009c 9.5px,#00a 15.5px,#0000c8 20.5px,#0000fb 25.5px,#0017ff 27.5px,#0051ff 30.5px,#00a4ff 33.5px,#0ef 35.5px,#19ffe6 36.5px,#79ff86 38.5px,#e7ff18 40.5px,#ffdc00 41.5px,#ff2300 44.5px,#e50000 45.5px,#b30000 46.5px,#b30000 58.5px,#e10000 59.5px,#ff1e00 60.5px,#ffd500 63.5px,#ef1 64.5px,#50ffaf 67.5px,#2fd 68.5px,#00f7ff 69.5px,#0090ff 72.5px,#0048ff 75.5px,#0018ff 78.5px,#0002ff 80.5px,#0000f9 81.5px,#0000e8 84.5px,#0000e4 87.5px,#0006ff 93.5px,#0031ff 96.5px,#0058ff 98.5px,#00a4ff 101.5px,#01fffe 104.5px,#ef1 111.5px,#ffef00 112.5px,#ff6300 117.5px,#ff3700 119.5px,#ff0300 122.5px,#cf0000 127.5px,#c20000 131.5px,#d00000 136.5px,#f60000 140.5px,#ff0500 141.5px,#ff1400 142.5px,#ff4f00 145.5px,#ff9a00 148.5px,#fff400 151.5px,#e9ff16 152.5px,#1affe5 158.5px,#00f7ff 159.5px,#0063ff 164.5px,#0035ff 166.5px,#00f 169.5px,#0000be 174.5px,#0000a0 179.5px,#000096 186.5px,#000094 202px)"></i><i style="top:44px;background:linear-gradient(90deg,#000095 0px,#00009c 9.5px,#0000ab 15.5px,#0000ca 20.5px,#0000fe 25.5px,#001aff 27.5px,#0053ff 30.5px,#00a7ff 33.5px,#00f0ff 35.5px,#1bffe4 36.5px,#7aff85 38.5px,#e6ff19 40.5px,#ffde00 41.5px,#ff2800 44.5px,#ec0000 45.5px,#b30000 46.5px,#b30000 47.5px,#b30000 58.5px,#e80000 59.5px,#ff2300 60.5px,#ffd700 63.5px,#edff12 64.5px,#52ffad 67.5px,#00faff 69.5px,#0094ff 72.5px,#004bff 75.5px,#001bff 78.5px,#0000fb 81.5px,#0000eb 84.5px,#0000e7 87.5px,#0000ef 90.5px,#0000fe 92.5px,#0009ff 93.5px,#0034ff 96.5px,#005cff 98.5px,#008dff 100.5px,#06fff9 104.5px,#f5ff0a 111.5px,#ffe900 112.5px,#ff5d00 117.5px,#ff1e00 120.5px,#fd0000 122.5px,#c00 127.5px,#bf0000 132.5px,#d30000 137.5px,#f00 141.5px,#ff2000 143.5px,#ff6000 146.5px,#fe0 151.5px,#f0ff0f 152.5px,#00fcff 159.5px,#06f 164.5px,#0037ff 166.5px,#0002ff 169.5px,#0000bf 174.5px,#0000a0 179.5px,#000096 186.5px,#000094 202px)"></i><i style="top:45px;background:linear-gradient(90deg,#000095 0px,#00009d 9.5px,#0000ad 15.5px,#0000c4 19.5px,#0001ff 25.5px,#002dff 28.5px,#0056ff 30.5px,#00a9ff 33.5px,#00f2ff 35.5px,#1dffe2 36.5px,#7aff85 38.5px,#e5ff1a 40.5px,#ffe000 41.5px,#ff2e00 44.5px,#f30000 45.5px,#bc0000 46.5px,#b30000 47.5px,#b30000 57.5px,#b90000 58.5px,#ef0000 59.5px,#ff2900 60.5px,#ffd900 63.5px,#edff12 64.5px,#53ffac 67.5px,#00fdff 69.5px,#0097ff 72.5px,#004fff 75.5px,#001eff 78.5px,#0000fe 81.5px,#0000ed 84.5px,#0000e9 87.5px,#0001ff 92.5px,#000bff 93.5px,#0037ff 96.5px,#005fff 98.5px,#0091ff 100.5px,#00eaff 103.5px,#0bfff4 104.5px,#fbff04 111.5px,#ff8a00 115.5px,#ff5800 117.5px,#ff1a00 120.5px,#f90000 122.5px,#c90000 127.5px,#bc0000 132.5px,#d00000 137.5px,#fb0000 141.5px,#ff1c00 143.5px,#ff5b00 146.5px,#ff8e00 148.5px,#ffe800 151.5px,#f5ff0a 152.5px,#02fffd 159.5px,#0069ff 164.5px,#003aff 166.5px,#0003ff 169.5px,#0000c0 174.5px,#0000a1 179.5px,#000096 186.5px,#000094 202px)"></i><i style="top:46px;background:linear-gradient(90deg,#000096 0px,#00009d 9.5px,#0000ae 15.5px,#0000c6 19.5px,#0003ff 25.5px,#0030ff 28.5px,#0059ff 30.5px,#00acff 33.5px,#00f4ff 35.5px,#1effe1 36.5px,#7bff84 38.5px,#e4ff1b 40.5px,#ffe200 41.5px,#fb0000 45.5px,#c50000 46.5px,#b30000 47.5px,#b30000 57.5px,#c20000 58.5px,#f60000 59.5px,#ff2f00 60.5px,#ffdb00 63.5px,#ecff13 64.5px,#5fa 67.5px,#0ff 69.5px,#00daff 70.5px,#009aff 72.5px,#0052ff 75.5px,#0021ff 78.5px,#0002ff 81.5px,#0000f0 84.5px,#0000eb 87.5px,#0000fa 91.5px,#000dff 93.5px,#0039ff 96.5px,#0062ff 98.5px,#0094ff 100.5px,#0ef 103.5px,#10ffef 104.5px,#dfff20 110.5px,#fffe00 111.5px,#ff6b00 116.5px,#ff2800 119.5px,#ff0500 121.5px,#c00 126.5px,#ba0000 131.5px,#c70000 136.5px,#f70000 141.5px,#ff0700 142.5px,#ff3f00 145.5px,#ff8900 148.5px,#ffe300 151.5px,#faff05 152.5px,#05fffa 159.5px,#00e3ff 160.5px,#0087ff 163.5px,#0053ff 165.5px,#0004ff 169.5px,#0000b7 175.5px,#0000a1 179.5px,#000096 186.5px,#000094 202px)"></i><i style="top:47px;background:linear-gradient(90deg,#000096 0px,#00009e 9.5px,#0000af 15.5px,#0000c8 19.5px,#0006ff 25.5px,#03f 28.5px,#005cff 30.5px,#00afff 33.5px,#00f6ff 35.5px,#20ffdf 36.5px,#7bff84 38.5px,#e3ff1c 40.5px,#ffe400 41.5px,#ff0400 45.5px,#cf0000 46.5px,#b30000 47.5px,#b30000 57.5px,#cb0000 58.5px,#fe0000 59.5px,#fd0 63.5px,#ebff14 64.5px,#56ffa9 67.5px,#03fffc 69.5px,#0df 70.5px,#0083ff 73.5px,#0043ff 76.5px,#0018ff 79.5px,#0000fc 82.5px,#0000ed 87.5px,#0000fc 91.5px,#000fff 93.5px,#004fff 97.5px,#0098ff 100.5px,#00f2ff 103.5px,#13ffec 104.5px,#e3ff1c 110.5px,#fffa00 111.5px,#ff6700 116.5px,#ff2400 119.5px,#ff0200 121.5px,#ca0000 126.5px,#b80000 131.5px,#c40000 136.5px,#f40000 141.5px,#ff0400 142.5px,#ff3c00 145.5px,#ff8500 148.5px,#ffdf00 151.5px,#feff01 152.5px,#09fff6 159.5px,#00e6ff 160.5px,#0089ff 163.5px,#05f 165.5px,#0006ff 169.5px,#0000b8 175.5px,#0000a1 179.5px,#000096 186.5px,#000094 202px)"></i><i style="top:48px;background:linear-gradient(90deg,#000096 0px,#00009d 8.5px,#0000ac 14.5px,#0000c3 18.5px,#0000fb 24.5px,#0015ff 26.5px,#0049ff 29.5px,#0093ff 32.5px,#00f8ff 35.5px,#21ffde 36.5px,#7cff83 38.5px,#e1ff1e 40.5px,#ffe700 41.5px,#ff0c00 45.5px,#d80000 46.5px,#b30000 47.5px,#b30000 57.5px,#ff0700 59.5px,#ffdf00 63.5px,#eaff15 64.5px,#58ffa7 67.5px,#05fffa 69.5px,#00e0ff 70.5px,#0086ff 73.5px,#0046ff 76.5px,#001bff 79.5px,#00f 82.5px,#0000ef 87.5px,#0000fe 91.5px,#0012ff 93.5px,#003eff 96.5px,#0068ff 98.5px,#009aff 100.5px,#00f5ff 103.5px,#17ffe8 104.5px,#e7ff18 110.5px,#fff600 111.5px,#ff6400 116.5px,#ff2100 119.5px,#fe0000 121.5px,#e30000 123.5px,#c70000 126.5px,#b60000 131.5px,#c20000 136.5px,#f10000 141.5px,#ff0100 142.5px,#ff4f00 146.5px,#ff9e00 149.5px,#fffc00 152.5px,#0bfff4 159.5px,#00e8ff 160.5px,#008bff 163.5px,#003fff 166.5px,#0006ff 169.5px,#0000f7 170.5px,#0000b8 175.5px,#0000a1 179.5px,#000096 186.5px,#000094 202px)"></i><i style="top:49px;background:linear-gradient(90deg,#000096 0px,#00009d 8.5px,#0000ae 14.5px,#0000c5 18.5px,#0000fe 24.5px,#0027ff 27.5px,#0061ff 30.5px,#00b4ff 33.5px,#00faff 35.5px,#23ffdc 36.5px,#7cff83 38.5px,#e0ff1f 40.5px,#ffea00 41.5px,#ff1400 45.5px,#e20000 46.5px,#b50000 47.5px,#b30000 48.5px,#b30000 57.5px,#d00 58.5px,#ff0f00 59.5px,#ffe100 63.5px,#e9ff16 64.5px,#59ffa6 67.5px,#08fff7 69.5px,#00e3ff 70.5px,#008aff 73.5px,#004aff 76.5px,#001fff 79.5px,#0003ff 82.5px,#0000f1 87.5px,#0001ff 91.5px,#0013ff 93.5px,#0040ff 96.5px,#006aff 98.5px,#009dff 100.5px,#00f7ff 103.5px,#19ffe6 104.5px,#eaff15 110.5px,#fff300 111.5px,#ff9600 114.5px,#ff4900 117.5px,#ff1f00 119.5px,#fb0000 121.5px,#e10000 123.5px,#c60000 126.5px,#b80000 129.5px,#b50000 132.5px,#c70000 137.5px,#e20000 140.5px,#fe0000 142.5px,#f20 144.5px,#ff6500 147.5px,#fffa00 152.5px,#e2ff1d 153.5px,#0efff1 159.5px,#00eaff 160.5px,#008dff 163.5px,#0057ff 165.5px,#0018ff 168.5px,#0000f8 170.5px,#0000b9 175.5px,#0000a1 179.5px,#000096 186.5px,#000094 202px)"></i><i style="top:50px;background:linear-gradient(90deg,#000096 0px,#00009e 8.5px,#0000af 14.5px,#0000c7 18.5px,#0001ff 24.5px,#002aff 27.5px,#0064ff 30.5px,#00b6ff 33.5px,#00fcff 35.5px,#24ffdb 36.5px,#7cff83 38.5px,#deff21 40.5px,#ffec00 41.5px,#ff1c00 45.5px,#ec0000 46.5px,#c00000 47.5px,#b30000 48.5px,#b30000 56.5px,#bd0000 57.5px,#e70000 58.5px,#ff1700 59.5px,#ffe400 63.5px,#e7ff18 64.5px,#5bffa4 67.5px,#0afff5 69.5px,#00e6ff 70.5px,#008dff 73.5px,#004eff 76.5px,#02f 79.5px,#00f 83.5px,#0000f4 87.5px,#0000fb 90.5px,#0015ff 93.5px,#0042ff 96.5px,#006cff 98.5px,#009eff 100.5px,#00f9ff 103.5px,#1bffe4 104.5px,#ecff13 110.5px,#fff100 111.5px,#ff5f00 116.5px,#ff1d00 119.5px,#fa0000 121.5px,#df0000 123.5px,#c40000 126.5px,#b70000 129.5px,#b40000 132.5px,#c50000 137.5px,#e10000 140.5px,#fc0000 142.5px,#ff2000 144.5px,#ff6300 147.5px,#fff800 152.5px,#e4ff1b 153.5px,#0ffff0 159.5px,#00ecff 160.5px,#008eff 163.5px,#0058ff 165.5px,#0018ff 168.5px,#0000f8 170.5px,#0000b9 175.5px,#0000a1 179.5px,#000096 186.5px,#000094 202px)"></i><i style="top:51px;background:linear-gradient(90deg,#000096 0px,#00009e 8.5px,#0000b0 14.5px,#0000c9 18.5px,#0003ff 24.5px,#002cff 27.5px,#0067ff 30.5px,#00b9ff 33.5px,#00feff 35.5px,#26ffd9 36.5px,#dcff23 40.5px,#ffef00 41.5px,#ff2400 45.5px,#f60000 46.5px,#c00 47.5px,#b30000 48.5px,#b30000 56.5px,#c80000 57.5px,#f10000 58.5px,#ff1f00 59.5px,#ffe600 63.5px,#e6ff19 64.5px,#3fc 68.5px,#0dfff2 69.5px,#00e9ff 70.5px,#0091ff 73.5px,#0051ff 76.5px,#0025ff 79.5px,#0002ff 83.5px,#0000f6 87.5px,#0000fd 90.5px,#0017ff 93.5px,#0043ff 96.5px,#006dff 98.5px,#00a0ff 100.5px,#00fbff 103.5px,#edff12 110.5px,#ffef00 111.5px,#ff9300 114.5px,#ff4500 117.5px,#ff0900 120.5px,#f80000 121.5px,#de0000 123.5px,#c30000 126.5px,#b50000 129.5px,#b30000 132.5px,#c40000 137.5px,#e00000 140.5px,#fb0000 142.5px,#ff1f00 144.5px,#ff6200 147.5px,#fff700 152.5px,#e5ff1a 153.5px,#10ffef 159.5px,#00ecff 160.5px,#008eff 163.5px,#0059ff 165.5px,#0019ff 168.5px,#0000f8 170.5px,#0000b9 175.5px,#0000a1 179.5px,#000096 186.5px,#000094 202px)"></i><i style="top:52px;background:linear-gradient(90deg,#000096 0px,#00009d 7.5px,#0000ad 13.5px,#0000c3 17.5px,#0005ff 24.5px,#002fff 27.5px,#006aff 30.5px,#009dff 32.5px,#01fffe 35.5px,#50ffaf 37.5px,#daff25 40.5px,#fff200 41.5px,#f00 46.5px,#d70000 47.5px,#b40000 48.5px,#b30000 56.5px,#fa0000 58.5px,#ff2700 59.5px,#ffe900 63.5px,#e5ff1a 64.5px,#35ffca 68.5px,#0ffff0 69.5px,#00ecff 70.5px,#0095ff 73.5px,#05f 76.5px,#001eff 80.5px,#00f 84.5px,#0000f8 87.5px,#00f 90.5px,#0025ff 94.5px,#006eff 98.5px,#00a1ff 100.5px,#00fcff 103.5px,#ef1 110.5px,#fe0 111.5px,#ff9200 114.5px,#f40 117.5px,#ff0800 120.5px,#f70000 121.5px,#dc0000 123.5px,#c20000 126.5px,#b40000 129.5px,#b10000 132.5px,#c30000 137.5px,#df0000 140.5px,#fa0000 142.5px,#ff1e00 144.5px,#ff6100 147.5px,#fff600 152.5px,#e6ff19 153.5px,#10ffef 159.5px,#00edff 160.5px,#008eff 163.5px,#0059ff 165.5px,#0019ff 168.5px,#0000f8 170.5px,#0000b9 175.5px,#0000a1 179.5px,#000096 186.5px,#000094 202px)"></i><i style="top:53px;background:linear-gradient(90deg,#000096 0px,#00009d 7.5px,#0000ae 13.5px,#0000c5 17.5px,#0000fc 23.5px,#02f 26.5px,#0057ff 29.5px,#00a0ff 32.5px,#02fffd 35.5px,#51ffae 37.5px,#d8ff27 40.5px,#fff600 41.5px,#ff0a00 46.5px,#e20000 47.5px,#c00000 48.5px,#b30000 49.5px,#b30000 55.5px,#bd0000 56.5px,#ff0500 58.5px,#ffec00 63.5px,#e3ff1c 64.5px,#37ffc8 68.5px,#12ffed 69.5px,#00efff 70.5px,#0098ff 73.5px,#0059ff 76.5px,#0021ff 80.5px,#0003ff 84.5px,#0002ff 90.5px,#0026ff 94.5px,#006fff 98.5px,#00a2ff 100.5px,#00fdff 103.5px,#efff10 110.5px,#ffed00 111.5px,#ff5b00 116.5px,#ff0700 120.5px,#f60000 121.5px,#db0000 123.5px,#c10000 126.5px,#b00000 131.5px,#b40000 134.5px,#c20000 137.5px,#de0000 140.5px,#f90000 142.5px,#ff1d00 144.5px,#ff6000 147.5px,#fff600 152.5px,#e6ff19 153.5px,#10ffef 159.5px,#00edff 160.5px,#008fff 163.5px,#0059ff 165.5px,#0019ff 168.5px,#0000f8 170.5px,#0000b9 175.5px,#0000a1 179.5px,#000096 186.5px,#000094 202px)"></i><i style="top:54px;background:linear-gradient(90deg,#000097 0px,#00009e 7.5px,#0000af 13.5px,#0000c6 17.5px,#0000fe 23.5px,#0024ff 26.5px,#0059ff 29.5px,#00a2ff 32.5px,#04fffb 35.5px,#51ffae 37.5px,#fff900 41.5px,#ff1400 46.5px,#e00 47.5px,#b30000 49.5px,#b30000 55.5px,#e90000 57.5px,#ff0f00 58.5px,#fe0 63.5px,#e1ff1e 64.5px,#60ff9f 67.5px,#14ffeb 69.5px,#00f1ff 70.5px,#009cff 73.5px,#004bff 77.5px,#001aff 81.5px,#0001ff 85.5px,#0004ff 90.5px,#0028ff 94.5px,#0070ff 98.5px,#00a3ff 100.5px,#00fdff 103.5px,#f0ff0f 110.5px,#ffed00 111.5px,#ff5b00 116.5px,#ff0600 120.5px,#f50000 121.5px,#da0000 123.5px,#c00000 126.5px,#af0000 131.5px,#b30000 134.5px,#c10000 137.5px,#d00 140.5px,#f80000 142.5px,#ff0a00 143.5px,#ff4700 146.5px,#ff9700 149.5px,#fff500 152.5px,#e7ff18 153.5px,#10ffef 159.5px,#00edff 160.5px,#008fff 163.5px,#0059ff 165.5px,#0019ff 168.5px,#0000f8 170.5px,#0000b9 175.5px,#0000a1 179.5px,#000096 186.5px,#000094 202px)"></i><i style="top:55px;background:linear-gradient(90deg,#000097 0px,#00009e 7.5px,#0000b0 13.5px,#0000c8 17.5px,#0001ff 23.5px,#0027ff 26.5px,#005cff 29.5px,#00a5ff 32.5px,#05fffa 35.5px,#7bff84 38.5px,#fffd00 41.5px,#ff4700 45.5px,#f90000 47.5px,#bf0000 49.5px,#b30000 50.5px,#b30000 54.5px,#bc0000 55.5px,#f40000 57.5px,#ff1800 58.5px,#ff4000 59.5px,#fff100 63.5px,#dfff20 64.5px,#3affc5 68.5px,#16ffe9 69.5px,#00f4ff 70.5px,#009fff 73.5px,#004fff 77.5px,#001dff 81.5px,#0004ff 85.5px,#0006ff 90.5px,#0029ff 94.5px,#0072ff 98.5px,#00a4ff 100.5px,#00feff 103.5px,#f1ff0e 110.5px,#ffec00 111.5px,#ff5a00 116.5px,#ff0500 120.5px,#da0000 123.5px,#bf0000 126.5px,#ae0000 131.5px,#b20000 134.5px,#c00000 137.5px,#dc0000 140.5px,#f70000 142.5px,#ff0900 143.5px,#ff4700 146.5px,#ff9600 149.5px,#fff500 152.5px,#e7ff18 153.5px,#1fe 159.5px,#00edff 160.5px,#008fff 163.5px,#0059ff 165.5px,#0019ff 168.5px,#0000f8 170.5px,#0000b9 175.5px,#0000a1 179.5px,#000096 186.5px,#000094 202px)"></i><i style="top:56px;background:linear-gradient(90deg,#000097 0px,#00009f 7.5px,#0000b1 13.5px,#0000ca 17.5px,#0002ff 23.5px,#0029ff 26.5px,#005eff 29.5px,#00a7ff 32.5px,#06fff9 35.5px,#7aff85 38.5px,#feff01 41.5px,#ff2900 46.5px,#ff0500 47.5px,#e60000 48.5px,#ba0000 50.5px,#b30000 51.5px,#b30000 53.5px,#b80000 54.5px,#ca0000 55.5px,#f00 57.5px,#ff4800 59.5px,#fff500 63.5px,#df2 64.5px,#3bffc4 68.5px,#18ffe7 69.5px,#00f6ff 70.5px,#008bff 74.5px,#0043ff 78.5px,#0010ff 83.5px,#0002ff 88.5px,#0015ff 92.5px,#004aff 96.5px,#008bff 99.5px,#0ff 103.5px,#f1ff0e 110.5px,#ffeb00 111.5px,#ff8f00 114.5px,#ff4100 117.5px,#ff0500 120.5px,#f30000 121.5px,#d90000 123.5px,#be0000 126.5px,#b00000 129.5px,#ad0000 132.5px,#bf0000 137.5px,#db0000 140.5px,#f70000 142.5px,#ff0800 143.5px,#ff4600 146.5px,#ff9600 149.5px,#fff500 152.5px,#e7ff18 153.5px,#1fe 159.5px,#00edff 160.5px,#008fff 163.5px,#0059ff 165.5px,#0019ff 168.5px,#0000f8 170.5px,#0000b9 175.5px,#0000a1 179.5px,#000096 186.5px,#000094 202px)"></i><i style="top:57px;background:linear-gradient(90deg,#000097 0px,#00009f 7.5px,#0000b2 13.5px,#0000cb 17.5px,#0004ff 23.5px,#002bff 26.5px,#0061ff 29.5px,#00a9ff 32.5px,#07fff8 35.5px,#79ff86 38.5px,#faff05 41.5px,#f30 46.5px,#f10 47.5px,#f20000 48.5px,#c80000 50.5px,#b90000 52.5px,#c60000 54.5px,#e00 56.5px,#ff0b00 57.5px,#ff5100 59.5px,#fff800 63.5px,#dbff24 64.5px,#3dffc2 68.5px,#00f8ff 70.5px,#008eff 74.5px,#0047ff 78.5px,#0013ff 83.5px,#0004ff 88.5px,#0016ff 92.5px,#003aff 95.5px,#008cff 99.5px,#01fffe 103.5px,#f2ff0d 110.5px,#ffea00 111.5px,#ff8e00 114.5px,#ff4000 117.5px,#ff0400 120.5px,#f30000 121.5px,#d80000 123.5px,#bd0000 126.5px,#af0000 129.5px,#ad0000 132.5px,#be0000 137.5px,#da0000 140.5px,#f60000 142.5px,#ff0800 143.5px,#ff5e00 147.5px,#fff400 152.5px,#e7ff18 153.5px,#1fe 159.5px,#0ef 160.5px,#008fff 163.5px,#0059ff 165.5px,#0019ff 168.5px,#0000f8 170.5px,#0000b9 175.5px,#0000a1 179.5px,#000096 186.5px,#000094 202px)"></i><i style="top:58px;background:linear-gradient(90deg,#000097 0px,#00009f 7.5px,#0000ae 12.5px,#0000c5 16.5px,#0006ff 23.5px,#002dff 26.5px,#0063ff 29.5px,#00abff 32.5px,#00e6ff 34.5px,#08fff7 35.5px,#78ff87 38.5px,#f5ff0a 41.5px,#fd0 42.5px,#ff3d00 46.5px,#f00 48.5px,#d60000 50.5px,#c80000 52.5px,#d40000 54.5px,#fa0000 56.5px,#ff1700 57.5px,#ff5a00 59.5px,#fffc00 63.5px,#62ff9d 67.5px,#1bffe4 69.5px,#00faff 70.5px,#0091ff 74.5px,#004aff 78.5px,#0016ff 83.5px,#0006ff 88.5px,#0018ff 92.5px,#003cff 95.5px,#008dff 99.5px,#02fffd 103.5px,#f3ff0c 110.5px,#ffea00 111.5px,#ff8d00 114.5px,#ff4000 117.5px,#ff0300 120.5px,#f20000 121.5px,#d70000 123.5px,#bc0000 126.5px,#ae0000 129.5px,#ac0000 132.5px,#be0000 137.5px,#da0000 140.5px,#f50000 142.5px,#ff0700 143.5px,#ff5e00 147.5px,#fff400 152.5px,#e8ff17 153.5px,#1fe 159.5px,#0ef 160.5px,#008fff 163.5px,#0059ff 165.5px,#0019ff 168.5px,#0000f8 170.5px,#0000b9 175.5px,#0000a1 179.5px,#000096 186.5px,#000094 202px)"></i><i style="top:59px;background:linear-gradient(90deg,#000097 0px,#0000a0 7.5px,#0000af 12.5px,#0000c6 16.5px,#0000fc 22.5px,#0020ff 25.5px,#0051ff 28.5px,#0092ff 31.5px,#00e7ff 34.5px,#08fff7 35.5px,#76ff89 38.5px,#f1ff0e 41.5px,#ffe300 42.5px,#ff4800 46.5px,#ff0d00 48.5px,#f50000 49.5px,#da0000 51.5px,#d60000 52.5px,#e20000 54.5px,#ff0800 56.5px,#ff6300 59.5px,#feff01 63.5px,#62ff9d 67.5px,#00fcff 70.5px,#0094ff 74.5px,#004dff 78.5px,#0018ff 83.5px,#0008ff 88.5px,#001aff 92.5px,#003dff 95.5px,#008eff 99.5px,#03fffc 103.5px,#f3ff0c 110.5px,#ffe900 111.5px,#ff8d00 114.5px,#ff3f00 117.5px,#ff0200 120.5px,#f10000 121.5px,#d60000 123.5px,#b00 126.5px,#ae0000 129.5px,#ab0000 132.5px,#bd0000 137.5px,#d90000 140.5px,#f50000 142.5px,#ff0700 143.5px,#ff5e00 147.5px,#fff400 152.5px,#e8ff17 153.5px,#1fe 159.5px,#0ef 160.5px,#008fff 163.5px,#0059ff 165.5px,#0019ff 168.5px,#0000f9 170.5px,#0000b9 175.5px,#0000a1 179.5px,#000096 186.5px,#000094 202px)"></i><i style="top:60px;background:linear-gradient(90deg,#000097 0px,#0000a0 7.5px,#0000b0 12.5px,#0000c7 16.5px,#0000fd 22.5px,#02f 25.5px,#0053ff 28.5px,#0094ff 31.5px,#00e7ff 34.5px,#08fff7 35.5px,#74ff8b 38.5px,#ecff13 41.5px,#ffe900 42.5px,#ff7500 45.5px,#ff3400 47.5px,#ff0400 49.5px,#f30000 50.5px,#e50000 52.5px,#e80000 53.5px,#f00 55.5px,#ff4b00 58.5px,#faff05 63.5px,#61ff9e 67.5px,#00feff 70.5px,#0097ff 74.5px,#0050ff 78.5px,#001bff 83.5px,#000aff 88.5px,#001bff 92.5px,#003eff 95.5px,#008fff 99.5px,#04fffb 103.5px,#f4ff0b 110.5px,#ffe900 111.5px,#ff8c00 114.5px,#ff3e00 117.5px,#ff0200 120.5px,#f10000 121.5px,#d60000 123.5px,#b00 126.5px,#ad0000 129.5px,#a00 132.5px,#bc0000 137.5px,#d90000 140.5px,#f40000 142.5px,#ff0600 143.5px,#ff5d00 147.5px,#fff400 152.5px,#e8ff17 153.5px,#1fe 159.5px,#0ef 160.5px,#008fff 163.5px,#0059ff 165.5px,#0019ff 168.5px,#0000f9 170.5px,#0000b9 175.5px,#0000a1 179.5px,#000096 186.5px,#000094 202px)"></i><i style="top:61px;background:linear-gradient(90deg,#000097 0px,#0000a0 7.5px,#0000b0 12.5px,#0000c9 16.5px,#00f 22.5px,#0023ff 25.5px,#0054ff 28.5px,#0095ff 31.5px,#00e7ff 34.5px,#08fff7 35.5px,#72ff8d 38.5px,#e7ff18 41.5px,#ffef00 42.5px,#ff7f00 45.5px,#ff4000 47.5px,#ff1200 49.5px,#ff0200 50.5px,#f80000 51.5px,#f40000 52.5px,#f00 54.5px,#ff2100 56.5px,#ff5600 58.5px,#ffe200 62.5px,#f5ff0a 63.5px,#61ff9e 67.5px,#0ff 70.5px,#09f 74.5px,#0072ff 76.5px,#0045ff 79.5px,#0017ff 84.5px,#000cff 88.5px,#001dff 92.5px,#0040ff 95.5px,#0090ff 99.5px,#05fffa 103.5px,#f5ff0a 110.5px,#ffe800 111.5px,#ff8b00 114.5px,#ff3e00 117.5px,#ff0100 120.5px,#f00000 121.5px,#d50000 123.5px,#ba0000 126.5px,#ac0000 129.5px,#a00 132.5px,#bc0000 137.5px,#d80000 140.5px,#ff0600 143.5px,#ff5d00 147.5px,#fff400 152.5px,#e8ff17 153.5px,#1fe 159.5px,#0ef 160.5px,#008fff 163.5px,#0059ff 165.5px,#0019ff 168.5px,#0000f9 170.5px,#0000b9 175.5px,#0000a1 179.5px,#000096 186.5px,#000094 202px)"></i><i style="top:62px;background:linear-gradient(90deg,#000097 0px,#0000a0 7.5px,#0000b1 12.5px,#0000ca 16.5px,#0001ff 22.5px,#0025ff 25.5px,#05f 28.5px,#0096ff 31.5px,#00e7ff 34.5px,#07fff8 35.5px,#6fff90 38.5px,#e1ff1e 41.5px,#fff600 42.5px,#ff8900 45.5px,#ff3400 48.5px,#f10 50.5px,#ff0400 52.5px,#ff0e00 54.5px,#ff2e00 56.5px,#ff8000 59.5px,#ffe900 62.5px,#f0ff0f 63.5px,#5fffa0 67.5px,#01fffe 70.5px,#00e4ff 71.5px,#009cff 74.5px,#05f 78.5px,#0028ff 82.5px,#01f 86.5px,#000fff 89.5px,#0017ff 91.5px,#0041ff 95.5px,#0091ff 99.5px,#05fffa 103.5px,#f5ff0a 110.5px,#ffe700 111.5px,#f50 116.5px,#ff0100 120.5px,#c10000 125.5px,#af0000 128.5px,#a90000 131.5px,#ac0000 134.5px,#b00 137.5px,#d80000 140.5px,#f40000 142.5px,#ff0600 143.5px,#f40 146.5px,#ff9400 149.5px,#fff400 152.5px,#e8ff17 153.5px,#1fe 159.5px,#0ef 160.5px,#008fff 163.5px,#0059ff 165.5px,#0019ff 168.5px,#0000f8 170.5px,#0000b9 175.5px,#0000a1 179.5px,#000096 186.5px,#000094 202px)"></i><i style="top:63px;background:linear-gradient(90deg,#000097 0px,#0000a1 7.5px,#0000b1 12.5px,#0000ca 16.5px,#0002ff 22.5px,#0034ff 26.5px,#006aff 29.5px,#0096ff 31.5px,#06fff9 35.5px,#fffd00 42.5px,#ff9400 45.5px,#ff4100 48.5px,#ff2000 50.5px,#ff1300 52.5px,#ff1d00 54.5px,#ff3c00 56.5px,#ff8a00 59.5px,#ffef00 62.5px,#ebff14 63.5px,#5effa1 67.5px,#01fffe 70.5px,#00e5ff 71.5px,#0089ff 75.5px,#004aff 79.5px,#001cff 84.5px,#0010ff 88.5px,#0020ff 92.5px,#0042ff 95.5px,#007bff 98.5px,#06fff9 103.5px,#f6ff09 110.5px,#ffe700 111.5px,#ff8b00 114.5px,#ff3d00 117.5px,#f00 120.5px,#ef0000 121.5px,#d40000 123.5px,#b90000 126.5px,#ab0000 129.5px,#a80000 132.5px,#b00 137.5px,#d70000 140.5px,#ff0500 143.5px,#ff5d00 147.5px,#fff400 152.5px,#e8ff17 153.5px,#1fe 159.5px,#0ef 160.5px,#008fff 163.5px,#0059ff 165.5px,#0019ff 168.5px,#0000f8 170.5px,#0000b9 175.5px,#0000a1 179.5px,#000096 186.5px,#000094 202px)"></i><i style="top:64px;background:linear-gradient(90deg,#000097 0px,#0000a1 7.5px,#0000b2 12.5px,#0000cb 16.5px,#0002ff 22.5px,#0035ff 26.5px,#006aff 29.5px,#00afff 32.5px,#05fffa 35.5px,#68ff97 38.5px,#f9ff06 42.5px,#ffe100 43.5px,#ff8100 46.5px,#ff4f00 48.5px,#ff2f00 50.5px,#f20 52.5px,#ff2c00 54.5px,#ff4900 56.5px,#ff9400 59.5px,#fff600 62.5px,#e5ff1a 63.5px,#5cffa3 67.5px,#01fffe 70.5px,#00e5ff 71.5px,#008bff 75.5px,#004cff 79.5px,#001eff 84.5px,#0012ff 88.5px,#02f 92.5px,#04f 95.5px,#007cff 98.5px,#00e7ff 102.5px,#07fff8 103.5px,#f6ff09 110.5px,#ffe700 111.5px,#ff5400 116.5px,#f00 120.5px,#e00000 122.5px,#c00000 125.5px,#ae0000 128.5px,#a80000 131.5px,#ab0000 134.5px,#ba0000 137.5px,#d70000 140.5px,#ff0500 143.5px,#ff5d00 147.5px,#fff400 152.5px,#e8ff17 153.5px,#1fe 159.5px,#00edff 160.5px,#008fff 163.5px,#0059ff 165.5px,#0019ff 168.5px,#0000f8 170.5px,#0000b9 175.5px,#0000a1 179.5px,#000096 186.5px,#000094 202px)"></i><i style="top:65px;background:linear-gradient(90deg,#000097 0px,#0000a1 7.5px,#0000b2 12.5px,#00c 16.5px,#0003ff 22.5px,#0036ff 26.5px,#006bff 29.5px,#00aeff 32.5px,#03fffc 35.5px,#f1ff0e 42.5px,#ffea00 43.5px,#ff8d00 46.5px,#ff5d00 48.5px,#ff3e00 50.5px,#ff3200 52.5px,#ff3b00 54.5px,#ff5700 56.5px,#ff9f00 59.5px,#fffe00 62.5px,#1dffe2 69.5px,#01fffe 70.5px,#00e5ff 71.5px,#008dff 75.5px,#004eff 79.5px,#0020ff 84.5px,#0014ff 88.5px,#0023ff 92.5px,#0045ff 95.5px,#007dff 98.5px,#00e7ff 102.5px,#08fff7 103.5px,#f7ff08 110.5px,#ffe600 111.5px,#ff5400 116.5px,#fe0000 120.5px,#e00000 122.5px,#bf0000 125.5px,#ad0000 128.5px,#a70000 131.5px,#ab0000 134.5px,#ba0000 137.5px,#d70000 140.5px,#ff0500 143.5px,#ff5d00 147.5px,#fff400 152.5px,#e8ff17 153.5px,#1fe 159.5px,#00edff 160.5px,#008fff 163.5px,#0059ff 165.5px,#0019ff 168.5px,#0000f8 170.5px,#0000b9 175.5px,#0000a1 179.5px,#000096 186.5px,#000094 202px)"></i><i style="top:66px;background:linear-gradient(90deg,#000097 0px,#0000a1 7.5px,#0000b3 12.5px,#0003ff 22.5px,#0036ff 26.5px,#006aff 29.5px,#00adff 32.5px,#01fffe 35.5px,#e9ff16 42.5px,#fff400 43.5px,#ff9a00 46.5px,#ff6c00 48.5px,#ff4e00 50.5px,#ff4200 52.5px,#ff4a00 54.5px,#ff6500 56.5px,#ff9000 58.5px,#f8ff07 62.5px,#1cffe3 69.5px,#0ff 70.5px,#00e5ff 71.5px,#008eff 75.5px,#0050ff 79.5px,#02f 84.5px,#0015ff 88.5px,#0025ff 92.5px,#0046ff 95.5px,#007eff 98.5px,#00e8ff 102.5px,#09fff6 103.5px,#f7ff08 110.5px,#ffe600 111.5px,#ff5400 116.5px,#fe0000 120.5px,#df0000 122.5px,#bf0000 125.5px,#ad0000 128.5px,#a70000 131.5px,#ab0000 134.5px,#ba0000 137.5px,#d70000 140.5px,#ff0500 143.5px,#ff5d00 147.5px,#fff400 152.5px,#e8ff17 153.5px,#1fe 159.5px,#00edff 160.5px,#008fff 163.5px,#0059ff 165.5px,#0019ff 168.5px,#0000f8 170.5px,#0000b9 175.5px,#0000a1 179.5px,#000096 186.5px,#000094 202px)"></i><i style="top:67px;background:linear-gradient(90deg,#000098 0px,#0000a1 7.5px,#0000b3 12.5px,#0004ff 22.5px,#0036ff 26.5px,#006aff 29.5px,#00acff 32.5px,#00fdff 35.5px,#1bffe4 36.5px,#fffe00 43.5px,#ffa700 46.5px,#ff7b00 48.5px,#ff5d00 50.5px,#ff5200 52.5px,#ff5a00 54.5px,#ff7400 56.5px,#ff9d00 58.5px,#ffef00 61.5px,#f0ff0f 62.5px,#53ffac 67.5px,#00feff 70.5px,#00a2ff 74.5px,#0051ff 79.5px,#0023ff 84.5px,#0017ff 88.5px,#0026ff 92.5px,#0048ff 95.5px,#007fff 98.5px,#00e9ff 102.5px,#09fff6 103.5px,#f7ff08 110.5px,#ffe500 111.5px,#ff5400 116.5px,#fe0000 120.5px,#df0000 122.5px,#bf0000 125.5px,#ad0000 128.5px,#a60000 131.5px,#a00 134.5px,#b90000 137.5px,#d60000 140.5px,#ff0500 143.5px,#ff5d00 147.5px,#fff400 152.5px,#e8ff17 153.5px,#10ffef 159.5px,#00edff 160.5px,#008eff 163.5px,#0059ff 165.5px,#0019ff 168.5px,#0000f8 170.5px,#0000b9 175.5px,#0000a1 179.5px,#000096 186.5px,#000094 202px)"></i><i style="top:68px;background:linear-gradient(90deg,#000098 0px,#0000a1 7.5px,#0000b3 12.5px,#0004ff 22.5px,#0027ff 25.5px,#0057ff 28.5px,#0093ff 31.5px,#00f9ff 35.5px,#17ffe8 36.5px,#f5ff0a 43.5px,#ffeb00 44.5px,#ffb500 46.5px,#ff8a00 48.5px,#ff6e00 50.5px,#ff6300 52.5px,#ff6a00 54.5px,#ff8300 56.5px,#fa0 58.5px,#fff900 61.5px,#e7ff18 62.5px,#3fc 68.5px,#00fcff 70.5px,#00a2ff 74.5px,#0053ff 79.5px,#0025ff 84.5px,#0019ff 88.5px,#0028ff 92.5px,#0049ff 95.5px,#0080ff 98.5px,#00eaff 102.5px,#0afff5 103.5px,#f8ff07 110.5px,#ffe500 111.5px,#ff5300 116.5px,#fe0000 120.5px,#df0000 122.5px,#be0000 125.5px,#ac0000 128.5px,#a60000 131.5px,#a00 134.5px,#b90000 137.5px,#d60000 140.5px,#ff0500 143.5px,#ff5d00 147.5px,#fff400 152.5px,#e7ff18 153.5px,#10ffef 159.5px,#00edff 160.5px,#008eff 163.5px,#0059ff 165.5px,#0019ff 168.5px,#0000f8 170.5px,#0000b9 175.5px,#0000a1 179.5px,#000096 186.5px,#000094 202px)"></i><i style="top:69px;background:linear-gradient(90deg,#000098 0px,#0000a1 7.5px,#0000b3 12.5px,#0004ff 22.5px,#0027ff 25.5px,#0056ff 28.5px,#0091ff 31.5px,#00f5ff 35.5px,#13ffec 36.5px,#eaff15 43.5px,#fff700 44.5px,#ffc300 46.5px,#f90 48.5px,#ff7e00 50.5px,#ff7400 52.5px,#ff7b00 54.5px,#ff9200 56.5px,#ffb800 58.5px,#ffe900 60.5px,#faff05 61.5px,#2fffd0 68.5px,#00faff 70.5px,#00a2ff 74.5px,#0054ff 79.5px,#0027ff 84.5px,#001aff 88.5px,#0029ff 92.5px,#004aff 95.5px,#0081ff 98.5px,#00ebff 102.5px,#0bfff4 103.5px,#f8ff07 110.5px,#ffe500 111.5px,#ff5300 116.5px,#fe0000 120.5px,#df0000 122.5px,#be0000 125.5px,#ac0000 128.5px,#a60000 131.5px,#a00 134.5px,#b90000 137.5px,#d60000 140.5px,#ff0500 143.5px,#ff5d00 147.5px,#fff400 152.5px,#e7ff18 153.5px,#10ffef 159.5px,#00ecff 160.5px,#008eff 163.5px,#0058ff 165.5px,#0019ff 168.5px,#0000f8 170.5px,#0000b9 175.5px,#0000a1 179.5px,#000096 186.5px,#000094 202px)"></i><i style="top:70px;background:linear-gradient(90deg,#000098 0px,#0000a1 7.5px,#0000b3 12.5px,#0003ff 22.5px,#0026ff 25.5px,#0054ff 28.5px,#008fff 31.5px,#00f1ff 35.5px,#0efff1 36.5px,#faff05 44.5px,#fa0 48.5px,#ff9000 50.5px,#ff8500 52.5px,#ff8c00 54.5px,#ffa200 56.5px,#ffc600 58.5px,#fff500 60.5px,#efff10 61.5px,#2bffd4 68.5px,#00f7ff 70.5px,#00a1ff 74.5px,#05f 79.5px,#0028ff 84.5px,#001cff 88.5px,#002aff 92.5px,#004cff 95.5px,#0082ff 98.5px,#00ebff 102.5px,#0bfff4 103.5px,#f8ff07 110.5px,#ffe500 111.5px,#ff5300 116.5px,#fd0000 120.5px,#df0000 122.5px,#be0000 125.5px,#ac0000 128.5px,#a60000 131.5px,#a00 134.5px,#b90000 137.5px,#d60000 140.5px,#ff0500 143.5px,#ff5d00 147.5px,#fff500 152.5px,#e7ff18 153.5px,#10ffef 159.5px,#00ecff 160.5px,#008eff 163.5px,#0058ff 165.5px,#0018ff 168.5px,#0000f8 170.5px,#0000b9 175.5px,#0000a1 179.5px,#000096 186.5px,#000094 202px)"></i><i style="top:71px;background:linear-gradient(90deg,#000098 0px,#0000a1 7.5px,#0000b3 12.5px,#0003ff 22.5px,#03f 26.5px,#0065ff 29.5px,#00a3ff 32.5px,#00ecff 35.5px,#08fff7 36.5px,#d3ff2c 43.5px,#fff700 45.5px,#ffcb00 47.5px,#ffab00 49.5px,#ff9700 52.5px,#ffa500 55.5px,#ffc200 57.5px,#ffea00 59.5px,#fdff02 60.5px,#27ffd8 68.5px,#0efff1 69.5px,#00f5ff 70.5px,#00a1ff 74.5px,#05f 79.5px,#0029ff 84.5px,#001dff 88.5px,#002cff 92.5px,#004dff 95.5px,#0083ff 98.5px,#00ecff 102.5px,#0cfff3 103.5px,#f9ff06 110.5px,#ffe400 111.5px,#ff5300 116.5px,#fd0000 120.5px,#df0000 122.5px,#be0000 125.5px,#ac0000 128.5px,#a60000 131.5px,#a00 134.5px,#b90000 137.5px,#d60000 140.5px,#ff0500 143.5px,#ff5d00 147.5px,#fff500 152.5px,#e6ff19 153.5px,#0ffff0 159.5px,#00ecff 160.5px,#008eff 163.5px,#0058ff 165.5px,#0018ff 168.5px,#0000f8 170.5px,#0000b9 175.5px,#0000a1 179.5px,#000096 186.5px,#000094 202px)"></i><i style="top:72px;background:linear-gradient(90deg,#000098 0px,#0000a1 7.5px,#0000b3 12.5px,#0002ff 22.5px,#0032ff 26.5px,#0063ff 29.5px,#00a0ff 32.5px,#03fffc 36.5px,#faff05 45.5px,#fb0 49.5px,#ffa700 52.5px,#ffb600 55.5px,#ffd000 57.5px,#fff700 59.5px,#d9ff26 61.5px,#0afff5 69.5px,#00f2ff 70.5px,#00a0ff 74.5px,#0056ff 79.5px,#002bff 84.5px,#001fff 88.5px,#002dff 92.5px,#004eff 95.5px,#0084ff 98.5px,#00edff 102.5px,#0dfff2 103.5px,#f9ff06 110.5px,#ffe400 111.5px,#ff5300 116.5px,#fd0000 120.5px,#df0000 122.5px,#be0000 125.5px,#ac0000 128.5px,#a50000 131.5px,#a00 134.5px,#b90000 137.5px,#d70000 140.5px,#ff0500 143.5px,#ff5e00 147.5px,#fff500 152.5px,#e6ff19 153.5px,#0ffff0 159.5px,#00ecff 160.5px,#008dff 163.5px,#0058ff 165.5px,#0018ff 168.5px,#0000f8 170.5px,#0000b9 175.5px,#0000a1 179.5px,#000096 186.5px,#000094 202px)"></i><i style="top:73px;background:linear-gradient(90deg,#000098 0px,#0000a1 7.5px,#0000b3 12.5px,#00c 16.5px,#0002ff 22.5px,#0024ff 25.5px,#0050ff 28.5px,#009dff 32.5px,#00fdff 36.5px,#18ffe7 37.5px,#bcff43 43.5px,#fffc00 46.5px,#ffcb00 49.5px,#ffb800 52.5px,#ffc500 55.5px,#fff000 58.5px,#fbff04 59.5px,#e5ff1a 60.5px,#07fff8 69.5px,#00efff 70.5px,#008eff 75.5px,#0057ff 79.5px,#002cff 84.5px,#0020ff 88.5px,#002fff 92.5px,#004fff 95.5px,#0085ff 98.5px,#0ef 102.5px,#0dfff2 103.5px,#f9ff06 110.5px,#ff5300 116.5px,#fd0000 120.5px,#df0000 122.5px,#be0000 125.5px,#ac0000 128.5px,#a60000 131.5px,#a00 134.5px,#b90000 137.5px,#d70000 140.5px,#ff0600 143.5px,#ff5e00 147.5px,#fff600 152.5px,#e6ff19 153.5px,#0efff1 159.5px,#00ebff 160.5px,#008dff 163.5px,#0058ff 165.5px,#0018ff 168.5px,#0000f8 170.5px,#0000b9 175.5px,#0000a1 179.5px,#000096 186.5px,#000094 202px)"></i><i style="top:74px;background:linear-gradient(90deg,#000098 0px,#0000a1 7.5px,#0000b3 12.5px,#00c 16.5px,#0001ff 22.5px,#0030ff 26.5px,#005fff 29.5px,#09f 32.5px,#00f7ff 36.5px,#12ffed 37.5px,#b0ff4f 43.5px,#f4ff0b 46.5px,#fff800 47.5px,#ffd100 50.5px,#ffc800 52.5px,#ffd500 55.5px,#fffd00 58.5px,#c3ff3c 61.5px,#03fffc 69.5px,#009eff 74.5px,#0057ff 79.5px,#002dff 84.5px,#02f 88.5px,#0030ff 92.5px,#0050ff 95.5px,#0086ff 98.5px,#0ef 102.5px,#0efff1 103.5px,#f9ff06 110.5px,#ff5300 116.5px,#fe0000 120.5px,#df0000 122.5px,#be0000 125.5px,#ac0000 128.5px,#a60000 131.5px,#a00 134.5px,#ba0000 137.5px,#d70000 140.5px,#f40000 142.5px,#ff0600 143.5px,#ff5f00 147.5px,#fff700 152.5px,#e5ff1a 153.5px,#0efff1 159.5px,#00ebff 160.5px,#008dff 163.5px,#0057ff 165.5px,#0018ff 168.5px,#0000f8 170.5px,#0000b9 175.5px,#0000a1 179.5px,#000096 186.5px,#000094 202px)"></i><i style="top:75px;background:linear-gradient(90deg,#000097 0px,#0000a1 7.5px,#0000b2 12.5px,#0000cb 16.5px,#0001ff 22.5px,#002fff 26.5px,#005dff 29.5px,#0096ff 32.5px,#00f2ff 36.5px,#0cfff3 37.5px,#a5ff5a 43.5px,#f8ff07 47.5px,#ffe100 50.5px,#ffd800 52.5px,#fd0 54.5px,#fffb00 57.5px,#f3ff0c 58.5px,#b9ff46 61.5px,#00feff 69.5px,#009dff 74.5px,#0058ff 79.5px,#002eff 84.5px,#0023ff 88.5px,#0031ff 92.5px,#0052ff 95.5px,#0087ff 98.5px,#00efff 102.5px,#0efff1 103.5px,#f9ff06 110.5px,#ffe400 111.5px,#ff5400 116.5px,#f00 120.5px,#e00000 122.5px,#bf0000 125.5px,#ad0000 128.5px,#a70000 131.5px,#ab0000 134.5px,#b00 137.5px,#d80000 140.5px,#f50000 142.5px,#ff0700 143.5px,#ff6000 147.5px,#fff700 152.5px,#e4ff1b 153.5px,#0dfff2 159.5px,#00eaff 160.5px,#008cff 163.5px,#0057ff 165.5px,#0018ff 168.5px,#0000f7 170.5px,#0000b9 175.5px,#0000a1 179.5px,#000096 186.5px,#000094 202px)"></i><i style="top:76px;background:linear-gradient(90deg,#000097 0px,#0000a1 7.5px,#0000b2 12.5px,#0000cb 16.5px,#00f 22.5px,#002dff 26.5px,#005bff 29.5px,#0093ff 32.5px,#06fff9 37.5px,#b1ff4e 44.5px,#f9ff06 48.5px,#ffe800 52.5px,#ffec00 54.5px,#fffc00 56.5px,#e6ff19 58.5px,#c3ff3c 60.5px,#00faff 69.5px,#009cff 74.5px,#0058ff 79.5px,#0030ff 84.5px,#0024ff 88.5px,#0032ff 92.5px,#0053ff 95.5px,#08f 98.5px,#00efff 102.5px,#0efff1 103.5px,#f8ff07 110.5px,#ff8a00 114.5px,#ff3d00 117.5px,#ff0100 120.5px,#f00000 121.5px,#d50000 123.5px,#b90000 126.5px,#ab0000 129.5px,#a80000 132.5px,#bc0000 137.5px,#da0000 140.5px,#f60000 142.5px,#ff0900 143.5px,#ff4800 146.5px,#f90 149.5px,#fff900 152.5px,#e3ff1c 153.5px,#0dfff2 159.5px,#00e9ff 160.5px,#008cff 163.5px,#0057ff 165.5px,#0017ff 168.5px,#0000f7 170.5px,#0000b9 175.5px,#0000a1 179.5px,#000096 186.5px,#000094 202px)"></i><i style="top:77px;background:linear-gradient(90deg,#000097 0px,#0000a1 7.5px,#0000b2 12.5px,#0000cb 16.5px,#0000fe 22.5px,#0049ff 28.5px,#008fff 32.5px,#00feff 37.5px,#17ffe8 38.5px,#8fff70 43.5px,#dcff23 47.5px,#ff0 50.5px,#fff700 52.5px,#fffb00 54.5px,#f4ff0b 56.5px,#c9ff36 59.5px,#0cfff3 68.5px,#00f7ff 69.5px,#009bff 74.5px,#0059ff 79.5px,#0031ff 84.5px,#0026ff 88.5px,#0034ff 92.5px,#0054ff 95.5px,#0089ff 98.5px,#00efff 102.5px,#0ffff0 103.5px,#f8ff07 110.5px,#ffe600 111.5px,#ff8b00 114.5px,#ff3e00 117.5px,#ff0200 120.5px,#f10000 121.5px,#d60000 123.5px,#b00 126.5px,#ad0000 129.5px,#a00 132.5px,#be0000 137.5px,#dc0000 140.5px,#f80000 142.5px,#ff0a00 143.5px,#ff4a00 146.5px,#ff9a00 149.5px,#fffa00 152.5px,#e2ff1d 153.5px,#0cfff3 159.5px,#00e9ff 160.5px,#008bff 163.5px,#0056ff 165.5px,#0017ff 168.5px,#0000f7 170.5px,#0000b9 175.5px,#0000a1 179.5px,#000096 186.5px,#000094 202px)"></i><i style="top:78px;background:linear-gradient(90deg,#000097 0px,#0000a1 7.5px,#0000b2 12.5px,#0000ca 16.5px,#0000fd 22.5px,#001eff 25.5px,#0056ff 29.5px,#00a0ff 33.5px,#00f8ff 37.5px,#10ffef 38.5px,#84ff7b 43.5px,#bfff40 46.5px,#e8ff17 49.5px,#f8ff07 52.5px,#efff10 55.5px,#cdff32 58.5px,#9aff65 61.5px,#08fff7 68.5px,#00f3ff 69.5px,#009aff 74.5px,#0059ff 79.5px,#0032ff 84.5px,#0027ff 88.5px,#0035ff 92.5px,#05f 95.5px,#008aff 98.5px,#00f0ff 102.5px,#0ffff0 103.5px,#f7ff08 110.5px,#ffe700 111.5px,#ff8c00 114.5px,#ff4000 117.5px,#ff0400 120.5px,#f30000 121.5px,#d80000 123.5px,#bd0000 126.5px,#af0000 129.5px,#ac0000 132.5px,#c00000 137.5px,#de0000 140.5px,#fa0000 142.5px,#ff1f00 144.5px,#ff6500 147.5px,#fffb00 152.5px,#0bfff4 159.5px,#00e8ff 160.5px,#008aff 163.5px,#003eff 166.5px,#0006ff 169.5px,#0000f7 170.5px,#0000b8 175.5px,#0000a1 179.5px,#000096 186.5px,#000094 202px)"></i><i style="top:79px;background:linear-gradient(90deg,#000097 0px,#0000a1 7.5px,#0000b1 12.5px,#0000ca 16.5px,#0000fd 22.5px,#001dff 25.5px,#0054ff 29.5px,#009cff 33.5px,#00f2ff 37.5px,#09fff6 38.5px,#7aff85 43.5px,#b2ff4d 46.5px,#d9ff26 49.5px,#eaff15 52.5px,#e1ff1e 55.5px,#c1ff3e 58.5px,#7dff82 62.5px,#03fffc 68.5px,#09f 74.5px,#0064ff 78.5px,#0039ff 83.5px,#0028ff 88.5px,#0036ff 92.5px,#0056ff 95.5px,#008aff 98.5px,#00f0ff 102.5px,#0ffff0 103.5px,#f6ff09 110.5px,#ffe800 111.5px,#ff8e00 114.5px,#ff4200 117.5px,#ff0600 120.5px,#f50000 121.5px,#db0000 123.5px,#bf0000 126.5px,#b20000 129.5px,#af0000 132.5px,#c30000 137.5px,#e00000 140.5px,#fd0000 142.5px,#f20 144.5px,#ff6700 147.5px,#fffd00 152.5px,#0afff5 159.5px,#00e7ff 160.5px,#008aff 163.5px,#003eff 166.5px,#0006ff 169.5px,#0000f6 170.5px,#0000b8 175.5px,#0000a1 179.5px,#000096 186.5px,#000094 202px)"></i><i style="top:80px;background:linear-gradient(90deg,#000097 0px,#0000a1 7.5px,#0000b1 12.5px,#0000c9 16.5px,#0000fc 22.5px,#0006ff 23.5px,#0034ff 27.5px,#0062ff 30.5px,#02fffd 38.5px,#6fff90 43.5px,#a5ff5a 46.5px,#cbff34 49.5px,#dbff24 52.5px,#d3ff2c 55.5px,#b5ff4a 58.5px,#86ff79 61.5px,#00feff 68.5px,#00a6ff 73.5px,#0064ff 78.5px,#003aff 83.5px,#002aff 88.5px,#0037ff 92.5px,#0057ff 95.5px,#008bff 98.5px,#00f0ff 102.5px,#0ffff0 103.5px,#f5ff0a 110.5px,#ffe900 111.5px,#ff9000 114.5px,#f40 117.5px,#ff0900 120.5px,#f80000 121.5px,#c20000 126.5px,#b50000 129.5px,#b20000 132.5px,#c60000 137.5px,#ff0100 142.5px,#ff5000 146.5px,#ff8400 148.5px,#ffde00 151.5px,#ff0 152.5px,#08fff7 159.5px,#00e6ff 160.5px,#0089ff 163.5px,#0054ff 165.5px,#0005ff 169.5px,#0000b8 175.5px,#0000a1 179.5px,#000096 186.5px,#000094 202px)"></i><i style="top:81px;background:linear-gradient(90deg,#000097 0px,#0000a1 7.5px,#0000b1 12.5px,#0005ff 23.5px,#004fff 29.5px,#0094ff 33.5px,#00faff 38.5px,#1fe 39.5px,#7f8 44.5px,#a7ff58 47.5px,#c5ff3a 50.5px,#cdff32 53.5px,#beff41 56.5px,#9bff64 59.5px,#0dfff2 67.5px,#00f9ff 68.5px,#00a4ff 73.5px,#0064ff 78.5px,#003aff 83.5px,#002bff 88.5px,#0038ff 92.5px,#0058ff 95.5px,#008bff 98.5px,#00f0ff 102.5px,#0efff1 103.5px,#f3ff0c 110.5px,#ffeb00 111.5px,#ff9200 114.5px,#ff4600 117.5px,#ff0b00 120.5px,#fb0000 121.5px,#c50000 126.5px,#b50000 131.5px,#ba0000 134.5px,#c90000 137.5px,#ff0400 142.5px,#ff5300 146.5px,#ff8600 148.5px,#ffe000 151.5px,#fdff02 152.5px,#07fff8 159.5px,#00e4ff 160.5px,#08f 163.5px,#0054ff 165.5px,#0005ff 169.5px,#0000b8 175.5px,#0000a1 179.5px,#000096 186.5px,#000094 202px)"></i><i style="top:82px;background:linear-gradient(90deg,#000097 0px,#0000a0 7.5px,#0000b0 12.5px,#0000c8 16.5px,#0004ff 23.5px,#0030ff 27.5px,#005cff 30.5px,#00a2ff 34.5px,#00f3ff 38.5px,#09fff6 39.5px,#6cff93 44.5px,#9bff64 47.5px,#b8ff47 50.5px,#bfff40 53.5px,#b8ff47 55.5px,#9dff62 58.5px,#72ff8d 61.5px,#07fff8 67.5px,#00f4ff 68.5px,#00a3ff 73.5px,#0064ff 78.5px,#003bff 83.5px,#002cff 88.5px,#003aff 92.5px,#0058ff 95.5px,#008cff 98.5px,#00f0ff 102.5px,#0efff1 103.5px,#f2ff0d 110.5px,#ffed00 111.5px,#ff9400 114.5px,#ff4900 117.5px,#fe0000 121.5px,#c90000 126.5px,#b90000 131.5px,#c60000 136.5px,#f70000 141.5px,#ff0700 142.5px,#ff5600 146.5px,#ff8900 148.5px,#ffe300 151.5px,#faff05 152.5px,#06fff9 159.5px,#00e3ff 160.5px,#0087ff 163.5px,#0053ff 165.5px,#0005ff 169.5px,#0000b7 175.5px,#0000a1 179.5px,#000096 186.5px,#000094 202px)"></i><i style="top:83px;background:linear-gradient(90deg,#000097 0px,#0000a0 7.5px,#0000b0 12.5px,#0000c7 16.5px,#0002ff 23.5px,#002eff 27.5px,#0059ff 30.5px,#009eff 34.5px,#02fffd 39.5px,#61ff9e 44.5px,#8eff71 47.5px,#af5 50.5px,#b2ff4d 53.5px,#a4ff5b 56.5px,#85ff7a 59.5px,#02fffd 67.5px,#00a1ff 73.5px,#0064ff 78.5px,#003cff 83.5px,#002dff 88.5px,#003bff 92.5px,#0059ff 95.5px,#008cff 98.5px,#00efff 102.5px,#0efff1 103.5px,#f0ff0f 110.5px,#fe0 111.5px,#ff9600 114.5px,#ff4c00 117.5px,#ff0200 121.5px,#f30000 122.5px,#c70000 127.5px,#bd0000 132.5px,#d10000 137.5px,#fb0000 141.5px,#ff1c00 143.5px,#ff5900 146.5px,#ff8c00 148.5px,#ffe600 151.5px,#f8ff07 152.5px,#04fffb 159.5px,#00e2ff 160.5px,#0086ff 163.5px,#0052ff 165.5px,#0004ff 169.5px,#0000b7 175.5px,#0000a1 179.5px,#000096 186.5px,#000094 202px)"></i><i style="top:84px;background:linear-gradient(90deg,#000097 0px,#0000a0 7.5px,#0000b0 12.5px,#0000c6 16.5px,#0001ff 23.5px,#002cff 27.5px,#0056ff 30.5px,#09f 34.5px,#00f9ff 39.5px,#0dfff2 40.5px,#57ffa8 44.5px,#82ff7d 47.5px,#9dff62 50.5px,#a4ff5b 53.5px,#98ff67 56.5px,#7aff85 59.5px,#00fcff 67.5px,#009fff 73.5px,#0064ff 78.5px,#003dff 83.5px,#002eff 88.5px,#003cff 92.5px,#005aff 95.5px,#008dff 98.5px,#00efff 102.5px,#0dfff2 103.5px,#ef1 110.5px,#fff100 111.5px,#f90 114.5px,#ff4f00 117.5px,#ff1600 120.5px,#f70000 122.5px,#c00 127.5px,#c20000 132.5px,#d50000 137.5px,#f00 141.5px,#ff3200 144.5px,#ff5d00 146.5px,#ff9000 148.5px,#ffe800 151.5px,#f5ff0a 152.5px,#02fffd 159.5px,#006aff 164.5px,#003aff 166.5px,#0004ff 169.5px,#0000c0 174.5px,#0000a0 179.5px,#000096 186.5px,#000094 202px)"></i><i style="top:85px;background:linear-gradient(90deg,#000097 0px,#0000a0 7.5px,#0000af 12.5px,#0000c5 16.5px,#00f 23.5px,#001eff 26.5px,#0053ff 30.5px,#05fffa 40.5px,#4cffb3 44.5px,#76ff89 47.5px,#90ff6f 50.5px,#97ff68 53.5px,#92ff6d 55.5px,#7aff85 58.5px,#5fa 61.5px,#07fff8 66.5px,#00f6ff 67.5px,#009dff 73.5px,#0063ff 78.5px,#003eff 83.5px,#002fff 88.5px,#003dff 92.5px,#005bff 95.5px,#008dff 98.5px,#00efff 102.5px,#0dfff2 103.5px,#ecff13 110.5px,#fff300 111.5px,#ff9c00 114.5px,#ff5300 117.5px,#ff1a00 120.5px,#fc0000 122.5px,#d60000 126.5px,#c60000 131.5px,#d40000 136.5px,#ff0400 141.5px,#ff3600 144.5px,#ff6100 146.5px,#ff9300 148.5px,#ffeb00 151.5px,#f2ff0d 152.5px,#01fffe 159.5px,#0069ff 164.5px,#003aff 166.5px,#0003ff 169.5px,#0000c0 174.5px,#0000a0 179.5px,#000096 186.5px,#000094 202px)"></i><i style="top:86px;background:linear-gradient(90deg,#000097 0px,#0000a0 7.5px,#0000af 12.5px,#0000c5 16.5px,#0000fe 23.5px,#001cff 26.5px,#004fff 30.5px,#008fff 34.5px,#00fcff 40.5px,#0ffff0 41.5px,#50ffaf 45.5px,#74ff8b 48.5px,#8f7 51.5px,#8bff74 53.5px,#80ff7f 56.5px,#65ff9a 59.5px,#01fffe 66.5px,#009aff 73.5px,#0063ff 78.5px,#003eff 83.5px,#0030ff 88.5px,#003eff 92.5px,#005bff 95.5px,#008dff 98.5px,#0ef 102.5px,#0cfff3 103.5px,#eaff15 110.5px,#fff500 111.5px,#ff8500 115.5px,#ff4200 118.5px,#ff0100 122.5px,#f40000 123.5px,#d50000 127.5px,#c00 132.5px,#d90000 136.5px,#fb0000 140.5px,#ff1800 142.5px,#ff4f00 145.5px,#ff9700 148.5px,#ffef00 151.5px,#efff10 152.5px,#00feff 159.5px,#0068ff 164.5px,#0039ff 166.5px,#0002ff 169.5px,#0000c0 174.5px,#0000a0 179.5px,#000096 186.5px,#000094 202px)"></i><i style="top:87px;background:linear-gradient(90deg,#000097 0px,#0000a0 7.5px,#0000ae 12.5px,#0000c4 16.5px,#0000fc 23.5px,#0006ff 24.5px,#005bff 31.5px,#00f4ff 40.5px,#06fff9 41.5px,#45ffba 45.5px,#68ff97 48.5px,#7bff84 51.5px,#7eff81 53.5px,#79ff86 55.5px,#64ff9b 58.5px,#00faff 66.5px,#0098ff 73.5px,#0063ff 78.5px,#003fff 83.5px,#0031ff 88.5px,#003eff 92.5px,#005cff 95.5px,#008eff 98.5px,#0ef 102.5px,#0bfff4 103.5px,#e7ff18 110.5px,#fff800 111.5px,#f80 115.5px,#ff4600 118.5px,#ff1300 121.5px,#f90000 123.5px,#da0000 127.5px,#d10000 131.5px,#de0000 136.5px,#ff0100 140.5px,#ff2d00 143.5px,#ff5300 145.5px,#ff9b00 148.5px,#fff200 151.5px,#ecff13 152.5px,#00fcff 159.5px,#0067ff 164.5px,#0038ff 166.5px,#0002ff 169.5px,#0000bf 174.5px,#0000a0 179.5px,#000096 186.5px,#000094 202px)"></i><i style="top:88px;background:linear-gradient(90deg,#000097 0px,#00009f 7.5px,#0000b2 13.5px,#0004ff 24.5px,#0049ff 30.5px,#00fdff 41.5px,#0efff1 42.5px,#3affc5 45.5px,#5cffa3 48.5px,#6eff91 51.5px,#72ff8d 53.5px,#6dff92 55.5px,#59ffa6 58.5px,#04fffb 65.5px,#00f4ff 66.5px,#0096ff 73.5px,#0062ff 78.5px,#003fff 83.5px,#0032ff 88.5px,#003fff 92.5px,#005dff 95.5px,#008eff 98.5px,#00edff 102.5px,#0bfff4 103.5px,#e5ff1a 110.5px,#fffa00 111.5px,#ff8c00 115.5px,#ff4a00 118.5px,#ff1800 121.5px,#fe0000 123.5px,#e00000 127.5px,#d60000 131.5px,#de0000 135.5px,#fb0000 139.5px,#ff0600 140.5px,#ff3100 143.5px,#ff5700 145.5px,#ff9f00 148.5px,#fff500 151.5px,#e9ff16 152.5px,#00faff 159.5px,#0065ff 164.5px,#0037ff 166.5px,#0001ff 169.5px,#0000bf 174.5px,#0000a0 179.5px,#000096 185.5px,#000094 202px)"></i><i style="top:89px;background:linear-gradient(90deg,#000097 0px,#00009f 7.5px,#0000b2 13.5px,#0003ff 24.5px,#0053ff 31.5px,#05fffa 42.5px,#30ffcf 45.5px,#50ffaf 48.5px,#62ff9d 51.5px,#65ff9a 53.5px,#4fffb0 58.5px,#00fcff 65.5px,#009fff 72.5px,#0062ff 78.5px,#0040ff 83.5px,#03f 88.5px,#0040ff 92.5px,#005dff 95.5px,#008eff 98.5px,#00edff 102.5px,#0afff5 103.5px,#fffd00 111.5px,#ff9000 115.5px,#ff4e00 118.5px,#ff1d00 121.5px,#ff0400 123.5px,#fa0000 124.5px,#e60000 127.5px,#dc0000 131.5px,#e40000 135.5px,#ff0100 139.5px,#ff2600 142.5px,#ff5c00 145.5px,#ffa300 148.5px,#fff900 151.5px,#e5ff1a 152.5px,#1affe5 158.5px,#00f8ff 159.5px,#0064ff 164.5px,#0036ff 166.5px,#0001ff 169.5px,#0000be 174.5px,#0000a0 179.5px,#000096 185.5px,#000094 202px)"></i><i style="top:90px;background:linear-gradient(90deg,#000097 0px,#00009f 7.5px,#0000b1 13.5px,#0000c8 17.5px,#0001ff 24.5px,#0050ff 31.5px,#00fbff 42.5px,#0afff5 43.5px,#4fb 48.5px,#56ffa9 51.5px,#59ffa6 53.5px,#4fb 58.5px,#03fffc 64.5px,#0091ff 73.5px,#0061ff 78.5px,#0040ff 83.5px,#0034ff 88.5px,#0041ff 92.5px,#005eff 95.5px,#008eff 98.5px,#00ecff 102.5px,#09fff6 103.5px,#feff01 111.5px,#ff9400 115.5px,#ff5300 118.5px,#ff1500 122.5px,#f00 124.5px,#f70000 125.5px,#e70000 128.5px,#e30000 132.5px,#ea0000 135.5px,#fd0000 138.5px,#ff0700 139.5px,#ff2c00 142.5px,#ff6100 145.5px,#ffa700 148.5px,#fffd00 151.5px,#18ffe7 158.5px,#00f6ff 159.5px,#0063ff 164.5px,#0021ff 167.5px,#00f 169.5px,#0000be 174.5px,#0000a0 179.5px,#000096 185.5px,#000094 202px)"></i><i style="top:91px;background:linear-gradient(90deg,#000097 0px,#00009f 7.5px,#0000b0 13.5px,#0000c7 17.5px,#0000fe 24.5px,#004cff 31.5px,#01fffe 43.5px,#39ffc6 48.5px,#4effb1 53.5px,#3affc5 58.5px,#00fbff 64.5px,#009aff 72.5px,#0069ff 77.5px,#0041ff 83.5px,#0035ff 88.5px,#0042ff 92.5px,#005eff 95.5px,#008eff 98.5px,#00ebff 102.5px,#08fff7 103.5px,#fbff04 111.5px,#ff9800 115.5px,#ff5700 118.5px,#ff1a00 122.5px,#fd0000 125.5px,#e00 128.5px,#e90000 131.5px,#fb0000 137.5px,#ff0d00 139.5px,#ff3100 142.5px,#f60 145.5px,#ff9200 147.5px,#ffe300 150.5px,#fdff02 151.5px,#16ffe9 158.5px,#00f4ff 159.5px,#0062ff 164.5px,#0020ff 167.5px,#0000fe 169.5px,#0000bd 174.5px,#00009f 179.5px,#000096 185.5px,#000094 202px)"></i><i style="top:92px;background:linear-gradient(90deg,#000097 0px,#00009e 7.5px,#0000b0 13.5px,#0000c6 17.5px,#0000fd 24.5px,#001aff 27.5px,#0048ff 31.5px,#00e9ff 42.5px,#04fffb 44.5px,#35ffca 49.5px,#42ffbd 53.5px,#30ffcf 58.5px,#0ff 63.5px,#0097ff 72.5px,#0068ff 77.5px,#0046ff 82.5px,#0036ff 87.5px,#003dff 91.5px,#005fff 95.5px,#008eff 98.5px,#00eaff 102.5px,#07fff8 103.5px,#f8ff07 111.5px,#ffea00 112.5px,#ff8500 116.5px,#ff4b00 119.5px,#ff1500 123.5px,#fd0000 126.5px,#ef0000 131.5px,#fc0000 136.5px,#ff1300 139.5px,#ff3700 142.5px,#ff6b00 145.5px,#ff9700 147.5px,#ffe700 150.5px,#faff05 151.5px,#13ffec 158.5px,#00f1ff 159.5px,#0060ff 164.5px,#001fff 167.5px,#0000fe 169.5px,#0000bd 174.5px,#00009f 179.5px,#000096 185.5px,#000094 202px)"></i><i style="top:93px;background:linear-gradient(90deg,#000097 0px,#00009e 7.5px,#0000af 13.5px,#0000c5 17.5px,#0004ff 25.5px,#04f 31.5px,#00e0ff 42.5px,#06fff9 45.5px,#2affd5 49.5px,#36ffc9 53.5px,#2cffd3 57.5px,#03fffc 62.5px,#0094ff 72.5px,#0067ff 77.5px,#0046ff 82.5px,#0037ff 87.5px,#003eff 91.5px,#005fff 95.5px,#008eff 98.5px,#00e9ff 102.5px,#05fffa 103.5px,#f4ff0b 111.5px,#ffed00 112.5px,#ff8900 116.5px,#ff5000 119.5px,#ff1b00 123.5px,#fe0000 127.5px,#f60000 131.5px,#fd0000 135.5px,#ff1900 139.5px,#ff3d00 142.5px,#ff7000 145.5px,#ff9c00 147.5px,#ffeb00 150.5px,#f6ff09 151.5px,#1fe 158.5px,#00efff 159.5px,#005fff 164.5px,#001eff 167.5px,#0000fd 169.5px,#0000bc 174.5px,#00009f 179.5px,#000096 185.5px,#000094 202px)"></i><i style="top:94px;background:linear-gradient(90deg,#000097 0px,#00009e 7.5px,#0000af 13.5px,#0000c3 17.5px,#0002ff 25.5px,#0041ff 31.5px,#00e4ff 43.5px,#00fbff 45.5px,#07fff8 46.5px,#24ffdb 50.5px,#2bffd4 53.5px,#21ffde 57.5px,#04fffb 61.5px,#06f 77.5px,#0046ff 82.5px,#0037ff 87.5px,#003eff 91.5px,#005fff 95.5px,#008eff 98.5px,#00e8ff 102.5px,#04fffb 103.5px,#f1ff0e 111.5px,#fff100 112.5px,#ff8e00 116.5px,#ff4600 120.5px,#ff1800 124.5px,#fe0000 129.5px,#ff0500 135.5px,#ff2900 140.5px,#ff5200 143.5px,#ff7600 145.5px,#ffa100 147.5px,#ffef00 150.5px,#f2ff0d 151.5px,#0efff1 158.5px,#00edff 159.5px,#005dff 164.5px,#001dff 167.5px,#0000fc 169.5px,#0000bc 174.5px,#00009f 179.5px,#000096 185.5px,#000094 202px)"></i><i style="top:95px;background:linear-gradient(90deg,#000097 0px,#00009e 7.5px,#0000ae 13.5px,#0000c9 18.5px,#00f 25.5px,#0049ff 32.5px,#00e7ff 44.5px,#05fffa 47.5px,#1dffe2 51.5px,#20ffdf 54.5px,#00fbff 61.5px,#008eff 72.5px,#0065ff 77.5px,#0042ff 83.5px,#0038ff 88.5px,#04f 92.5px,#006dff 96.5px,#00a1ff 99.5px,#03fffc 103.5px,#ef1 111.5px,#fff500 112.5px,#ff7e00 117.5px,#ff3d00 121.5px,#f10 126.5px,#ff0400 131.5px,#ff1000 136.5px,#ff3b00 141.5px,#ff7b00 145.5px,#ffa600 147.5px,#fff400 150.5px,#edff12 151.5px,#cfff30 152.5px,#0cfff3 158.5px,#00eaff 159.5px,#005cff 164.5px,#001cff 167.5px,#0000fb 169.5px,#00b 174.5px,#00009f 179.5px,#000096 185.5px,#000094 202px)"></i><i style="top:96px;background:linear-gradient(90deg,#000096 0px,#00009f 8.5px,#0000b1 14.5px,#0000c8 18.5px,#0000fd 25.5px,#0039ff 31.5px,#0df 44.5px,#03fffc 48.5px,#12ffed 51.5px,#15ffea 54.5px,#00faff 60.5px,#0063ff 77.5px,#0042ff 83.5px,#0039ff 88.5px,#0045ff 92.5px,#006dff 96.5px,#00a1ff 99.5px,#02fffd 103.5px,#eaff15 111.5px,#fff800 112.5px,#ff8300 117.5px,#ff4300 121.5px,#ff1700 126.5px,#ff0b00 131.5px,#ff1700 136.5px,#ff4100 141.5px,#ff8000 145.5px,#ffab00 147.5px,#fff800 150.5px,#cbff34 152.5px,#09fff6 158.5px,#00e8ff 159.5px,#005bff 164.5px,#001cff 167.5px,#0000fb 169.5px,#00b 174.5px,#00009e 179.5px,#000096 185.5px,#000094 202px)"></i><i style="top:97px;background:linear-gradient(90deg,#000096 0px,#00009f 8.5px,#0000b1 14.5px,#0004ff 26.5px,#0041ff 32.5px,#00d4ff 44.5px,#00f7ff 48.5px,#03fffc 50.5px,#0bfff4 54.5px,#00fdff 58.5px,#00e2ff 62.5px,#0062ff 77.5px,#0043ff 83.5px,#0039ff 88.5px,#0045ff 92.5px,#006dff 96.5px,#00a0ff 99.5px,#0ff 103.5px,#e7ff18 111.5px,#fffc00 112.5px,#f80 117.5px,#ff4900 121.5px,#ff1e00 126.5px,#ff1200 131.5px,#ff1d00 136.5px,#ff4700 141.5px,#ff8600 145.5px,#ffb000 147.5px,#fffc00 150.5px,#a8ff57 153.5px,#06fff9 158.5px,#00e6ff 159.5px,#0059ff 164.5px,#001bff 167.5px,#0000fa 169.5px,#0000ba 174.5px,#00009e 179.5px,#000096 185.5px,#000094 202px)"></i><i style="top:98px;background:linear-gradient(90deg,#000096 0px,#00009f 8.5px,#0000b0 14.5px,#0000c5 18.5px,#0002ff 26.5px,#003cff 32.5px,#00d5ff 45.5px,#00f3ff 49.5px,#0ff 53.5px,#00fcff 56.5px,#00e9ff 60.5px,#007dff 73.5px,#05f 79.5px,#003fff 84.5px,#003aff 88.5px,#0046ff 92.5px,#006dff 96.5px,#00a0ff 99.5px,#00feff 103.5px,#feff01 112.5px,#ff8d00 117.5px,#ff4f00 121.5px,#ff2400 126.5px,#ff1800 131.5px,#ff2400 136.5px,#ff4e00 141.5px,#ff8b00 145.5px,#ffe600 149.5px,#fdff02 150.5px,#04fffb 158.5px,#00e3ff 159.5px,#008bff 162.5px,#0041ff 165.5px,#0009ff 168.5px,#0000f9 169.5px,#0000ba 174.5px,#00009e 179.5px,#000096 185.5px,#000094 202px)"></i><i style="top:99px;background:linear-gradient(90deg,#000096 0px,#00009e 8.5px,#0000af 14.5px,#0000ca 19.5px,#00f 26.5px,#0038ff 32.5px,#00cbff 45.5px,#00e9ff 49.5px,#00f5ff 53.5px,#00f2ff 56.5px,#00e0ff 60.5px,#007bff 73.5px,#004fff 80.5px,#003bff 86.5px,#003dff 90.5px,#004dff 93.5px,#006dff 96.5px,#009fff 99.5px,#00fcff 103.5px,#18ffe7 104.5px,#faff05 112.5px,#ff9200 117.5px,#f50 121.5px,#ff3100 125.5px,#ff2000 130.5px,#ff2700 135.5px,#ff4900 140.5px,#ff6f00 143.5px,#ff9100 145.5px,#ffeb00 149.5px,#f9ff06 150.5px,#df2 151.5px,#01fffe 158.5px,#00a5ff 161.5px,#0056ff 164.5px,#0019ff 167.5px,#0000f9 169.5px,#0000b9 174.5px,#00009e 179.5px,#000096 185.5px,#000094 202px)"></i><i style="top:100px;background:linear-gradient(90deg,#000096 0px,#00009e 8.5px,#0000ae 14.5px,#0000c8 19.5px,#0000fc 26.5px,#002aff 31.5px,#00c2ff 45.5px,#00dfff 49.5px,#00ebff 53.5px,#00e8ff 56.5px,#00d8ff 60.5px,#0071ff 74.5px,#004fff 80.5px,#003cff 86.5px,#003eff 90.5px,#004dff 93.5px,#006dff 96.5px,#009fff 99.5px,#00fbff 103.5px,#17ffe8 104.5px,#f7ff08 112.5px,#fe0 113.5px,#ff9700 117.5px,#ff5b00 121.5px,#ff3200 126.5px,#ff2600 131.5px,#ff3200 136.5px,#ff5a00 141.5px,#ff9600 145.5px,#ffef00 149.5px,#f4ff0b 150.5px,#d8ff27 151.5px,#00fdff 158.5px,#00a3ff 161.5px,#05f 164.5px,#0018ff 167.5px,#0000f8 169.5px,#0000b9 174.5px,#00009e 179.5px,#000096 185.5px,#000094 202px)"></i><i style="top:101px;background:linear-gradient(90deg,#000096 0px,#00009e 8.5px,#0000ad 14.5px,#0000c7 19.5px,#0003ff 27.5px,#0030ff 32.5px,#00b9ff 45.5px,#00d5ff 49.5px,#00e1ff 53.5px,#00dfff 56.5px,#00d0ff 60.5px,#006fff 74.5px,#004eff 80.5px,#003cff 86.5px,#003eff 90.5px,#004eff 93.5px,#006dff 96.5px,#009eff 99.5px,#00faff 103.5px,#15ffea 104.5px,#f3ff0c 112.5px,#fff200 113.5px,#ff9c00 117.5px,#ff6000 121.5px,#ff3800 126.5px,#ff2d00 131.5px,#ff3800 136.5px,#ff6000 141.5px,#ff9c00 145.5px,#fff400 149.5px,#f0ff0f 150.5px,#d4ff2b 151.5px,#00fbff 158.5px,#00a1ff 161.5px,#0053ff 164.5px,#0017ff 167.5px,#0000f7 169.5px,#0000b8 174.5px,#00009d 179.5px,#000096 185.5px,#000094 202px)"></i><i style="top:102px;background:linear-gradient(90deg,#000096 0px,#00009f 9.5px,#0000b1 15.5px,#0000c5 19.5px,#00f 27.5px,#002cff 32.5px,#00b0ff 45.5px,#00cbff 49.5px,#00d7ff 53.5px,#00d5ff 56.5px,#00c7ff 60.5px,#006dff 74.5px,#004eff 80.5px,#003cff 86.5px,#003fff 90.5px,#004eff 93.5px,#006dff 96.5px,#009dff 99.5px,#00f8ff 103.5px,#13ffec 104.5px,#d5ff2a 111.5px,#fff600 113.5px,#ffa100 117.5px,#f60 121.5px,#ff3f00 126.5px,#ff3400 131.5px,#ff3f00 136.5px,#f60 141.5px,#ffa100 145.5px,#fff900 149.5px,#d0ff2f 151.5px,#18ffe7 157.5px,#00f8ff 158.5px,#006aff 163.5px,#0028ff 166.5px,#0005ff 168.5px,#0000b8 174.5px,#0000a0 178.5px,#000095 185.5px,#000094 202px)"></i><i style="top:103px;background:linear-gradient(90deg,#000096 0px,#00009f 9.5px,#0000b0 15.5px,#0000c4 19.5px,#0000fd 27.5px,#0028ff 32.5px,#00a8ff 45.5px,#00c1ff 49.5px,#00cdff 53.5px,#00bfff 60.5px,#006aff 74.5px,#0049ff 81.5px,#003cff 86.5px,#003fff 90.5px,#004eff 93.5px,#006dff 96.5px,#009dff 99.5px,#00f7ff 103.5px,#1fe 104.5px,#d2ff2d 111.5px,#fffa00 113.5px,#ffa600 117.5px,#ff6c00 121.5px,#ff4500 126.5px,#ff3a00 131.5px,#ff4500 136.5px,#ff6c00 141.5px,#ffa700 145.5px,#fffd00 149.5px,#afff50 152.5px,#16ffe9 157.5px,#00f6ff 158.5px,#0068ff 163.5px,#0027ff 166.5px,#0005ff 168.5px,#0000b7 174.5px,#0000a0 178.5px,#000096 184.5px,#000094 202px)"></i><i style="top:104px;background:linear-gradient(90deg,#000096 0px,#00009f 9.5px,#0000af 15.5px,#0000c2 19.5px,#0003ff 28.5px,#009fff 45.5px,#00b8ff 49.5px,#00c4ff 53.5px,#00b7ff 60.5px,#0068ff 74.5px,#0049ff 81.5px,#003cff 86.5px,#003fff 90.5px,#004eff 93.5px,#006cff 96.5px,#009cff 99.5px,#00f5ff 103.5px,#10ffef 104.5px,#fffe00 113.5px,#ffab00 117.5px,#ff7200 121.5px,#ff5000 125.5px,#ff4100 130.5px,#ff4800 135.5px,#ff6800 140.5px,#ff9b00 144.5px,#ffea00 148.5px,#fcff03 149.5px,#abff54 152.5px,#13ffec 157.5px,#00f3ff 158.5px,#0067ff 163.5px,#0025ff 166.5px,#0004ff 168.5px,#0000b7 174.5px,#0000a0 178.5px,#000096 184.5px,#000094 202px)"></i><i style="top:105px;background:linear-gradient(90deg,#000096 0px,#00009e 9.5px,#0000ae 15.5px,#0000c7 20.5px,#00f 28.5px,#0097ff 45.5px,#00b3ff 50.5px,#0bf 54.5px,#00acff 61.5px,#06f 74.5px,#0048ff 81.5px,#003dff 86.5px,#003fff 90.5px,#004eff 93.5px,#006cff 96.5px,#009bff 99.5px,#00f3ff 103.5px,#0efff1 104.5px,#fcff03 113.5px,#ffb000 117.5px,#f70 121.5px,#ff5700 125.5px,#ff4800 130.5px,#ff4e00 135.5px,#ff6e00 140.5px,#ffa100 144.5px,#ffef00 148.5px,#f8ff07 149.5px,#deff21 150.5px,#10ffef 157.5px,#00f0ff 158.5px,#0065ff 163.5px,#0024ff 166.5px,#0003ff 168.5px,#0000c0 173.5px,#0000a0 178.5px,#000096 184.5px,#000094 202px)"></i><i style="top:106px;background:linear-gradient(90deg,#000096 0px,#00009e 9.5px,#0000ad 15.5px,#0000c5 20.5px,#0000fc 28.5px,#0095ff 46.5px,#0af 50.5px,#00b2ff 54.5px,#00a4ff 61.5px,#0047ff 81.5px,#003dff 86.5px,#0040ff 90.5px,#0056ff 94.5px,#007aff 97.5px,#00aeff 100.5px,#00f2ff 103.5px,#0cfff3 104.5px,#e0ff1f 112.5px,#f8ff07 113.5px,#fff000 114.5px,#ffa500 118.5px,#ff7300 122.5px,#ff5800 126.5px,#ff4e00 131.5px,#ff5900 136.5px,#ff7400 140.5px,#ffa600 144.5px,#fff300 148.5px,#f3ff0c 149.5px,#bfff40 151.5px,#0dfff2 157.5px,#0ef 158.5px,#0063ff 163.5px,#0023ff 166.5px,#0002ff 168.5px,#0000bf 173.5px,#00009f 178.5px,#000096 184.5px,#000094 202px)"></i><i style="top:107px;background:linear-gradient(90deg,#000096 0px,#00009d 9.5px,#0000ac 15.5px,#0000c3 20.5px,#0002ff 29.5px,#0086ff 45.5px,#00a1ff 50.5px,#00a9ff 54.5px,#009dff 61.5px,#0047ff 81.5px,#003dff 86.5px,#0040ff 90.5px,#0056ff 94.5px,#0079ff 97.5px,#00adff 100.5px,#00f0ff 103.5px,#0afff5 104.5px,#dcff23 112.5px,#f4ff0b 113.5px,#fff400 114.5px,#ffa900 118.5px,#ff7800 122.5px,#ff5e00 126.5px,#ff5400 131.5px,#ff5f00 136.5px,#ff7a00 140.5px,#ffab00 144.5px,#fff800 148.5px,#efff10 149.5px,#bf4 151.5px,#0afff5 157.5px,#00ebff 158.5px,#0062ff 163.5px,#02f 166.5px,#0001ff 168.5px,#0000bf 173.5px,#00009f 178.5px,#000096 184.5px,#000094 202px)"></i><i style="top:108px;background:linear-gradient(90deg,#000096 0px,#00009d 9.5px,#0000af 16.5px,#0000c7 21.5px,#0000fe 29.5px,#007eff 45.5px,#0098ff 50.5px,#00a1ff 54.5px,#0096ff 61.5px,#0046ff 81.5px,#003dff 86.5px,#0040ff 90.5px,#0056ff 94.5px,#0079ff 97.5px,#00acff 100.5px,#00efff 103.5px,#08fff7 104.5px,#c0ff3f 111.5px,#f0ff0f 113.5px,#fff800 114.5px,#ffae00 118.5px,#ff7e00 122.5px,#ff6400 126.5px,#ff5a00 131.5px,#ff6500 136.5px,#ff7f00 140.5px,#ffb000 144.5px,#fffc00 148.5px,#9cff63 152.5px,#08fff7 157.5px,#00e9ff 158.5px,#0060ff 163.5px,#0021ff 166.5px,#00f 168.5px,#0000be 173.5px,#00009f 178.5px,#000096 184.5px,#000094 202px)"></i><i style="top:109px;background:linear-gradient(90deg,#000096 0px,#00009d 9.5px,#0000ae 16.5px,#0000c5 21.5px,#0003ff 30.5px,#07f 45.5px,#0090ff 50.5px,#0098ff 54.5px,#008fff 61.5px,#0043ff 82.5px,#0040ff 90.5px,#0056ff 94.5px,#0078ff 97.5px,#00abff 100.5px,#06fff9 104.5px,#bdff42 111.5px,#fffc00 114.5px,#ffb300 118.5px,#ff8d00 121.5px,#ff6e00 125.5px,#ff6000 130.5px,#ff6700 135.5px,#ff7c00 139.5px,#ffa700 143.5px,#ffeb00 147.5px,#fdff02 148.5px,#cdff32 150.5px,#05fffa 157.5px,#00e6ff 158.5px,#005fff 163.5px,#0020ff 166.5px,#00f 168.5px,#0000bd 173.5px,#00009f 178.5px,#000096 184.5px,#000094 202px)"></i><i style="top:110px;background:linear-gradient(90deg,#000096 0px,#00009c 9.5px,#0000ad 16.5px,#0000c4 21.5px,#00f 30.5px,#006fff 45.5px,#08f 50.5px,#0090ff 54.5px,#08f 61.5px,#0042ff 82.5px,#0040ff 90.5px,#0056ff 94.5px,#07f 97.5px,#0af 100.5px,#05fffa 104.5px,#b9ff46 111.5px,#feff01 114.5px,#ffb800 118.5px,#f80 122.5px,#ff6f00 126.5px,#f60 130.5px,#ff6c00 135.5px,#ff8200 139.5px,#ffac00 143.5px,#fff000 147.5px,#f9ff06 148.5px,#c9ff36 150.5px,#02fffd 157.5px,#005dff 163.5px,#001fff 166.5px,#0000fe 168.5px,#0000bd 173.5px,#00009f 178.5px,#000096 184.5px,#000094 202px)"></i><i style="top:111px;background:linear-gradient(90deg,#000095 0px,#00009c 9.5px,#0000ac 16.5px,#0000c2 21.5px,#0000fc 30.5px,#006eff 46.5px,#08f 54.5px,#0082ff 61.5px,#0042ff 82.5px,#0040ff 90.5px,#05f 94.5px,#07f 97.5px,#00a9ff 100.5px,#03fffc 104.5px,#b6ff49 111.5px,#faff05 114.5px,#ffbc00 118.5px,#ff8e00 122.5px,#ff7400 126.5px,#ff6c00 130.5px,#ff7200 135.5px,#ff8700 139.5px,#ffb100 143.5px,#fff400 147.5px,#f4ff0b 148.5px,#c5ff3a 150.5px,#0ff 157.5px,#005cff 163.5px,#001eff 166.5px,#0000fd 168.5px,#0000bc 173.5px,#00009e 178.5px,#000095 184.5px,#000094 202px)"></i><i style="top:112px;background:linear-gradient(90deg,#000095 0px,#00009d 10.5px,#0000ae 17.5px,#0000c5 22.5px,#00f 31.5px,#06f 46.5px,#007bff 51.5px,#0081ff 55.5px,#0079ff 62.5px,#0041ff 82.5px,#0040ff 90.5px,#05f 94.5px,#0076ff 97.5px,#00a8ff 100.5px,#01fffe 104.5px,#caff35 112.5px,#f6ff09 114.5px,#fff400 115.5px,#ffc100 118.5px,#ff9200 122.5px,#ff7a00 126.5px,#ff7100 131.5px,#ff7b00 136.5px,#ff9500 140.5px,#ffc400 144.5px,#fff900 147.5px,#f0ff0f 148.5px,#a8ff57 151.5px,#00fcff 157.5px,#005aff 163.5px,#001dff 166.5px,#0000fc 168.5px,#0000bc 173.5px,#00009e 178.5px,#000095 184.5px,#000094 202px)"></i><i style="top:113px;background:linear-gradient(90deg,#000095 0px,#00009d 10.5px,#0000ad 17.5px,#0000c3 22.5px,#0000fc 31.5px,#005fff 46.5px,#0073ff 51.5px,#0079ff 55.5px,#0073ff 62.5px,#003fff 83.5px,#003fff 90.5px,#05f 94.5px,#0075ff 97.5px,#00a6ff 100.5px,#00feff 104.5px,#18ffe7 105.5px,#c7ff38 112.5px,#f2ff0d 114.5px,#fff800 115.5px,#ffc500 118.5px,#ff9700 122.5px,#ff7f00 126.5px,#ff7600 131.5px,#ff8000 136.5px,#ff9a00 140.5px,#ffc900 144.5px,#fffd00 147.5px,#a4ff5b 151.5px,#00f9ff 157.5px,#0059ff 163.5px,#001cff 166.5px,#0000fb 168.5px,#00b 173.5px,#00009e 178.5px,#000095 184.5px,#000094 202px)"></i><i style="top:114px;background:linear-gradient(90deg,#000095 0px,#00009c 10.5px,#0000ac 17.5px,#0000c1 22.5px,#00f 32.5px,#0058ff 46.5px,#0072ff 55.5px,#006dff 62.5px,#003eff 83.5px,#003fff 90.5px,#0054ff 94.5px,#0075ff 97.5px,#00a5ff 100.5px,#00fcff 104.5px,#15ffea 105.5px,#acff53 111.5px,#fffc00 115.5px,#ffca00 118.5px,#ff9c00 122.5px,#ff8400 126.5px,#ff7b00 130.5px,#ff8200 135.5px,#ff9600 139.5px,#ffbf00 143.5px,#fe0 146.5px,#fdff02 147.5px,#d2ff2d 149.5px,#86ff79 152.5px,#15ffea 156.5px,#00f7ff 157.5px,#0057ff 163.5px,#001bff 166.5px,#0000fb 168.5px,#00b 173.5px,#00009e 178.5px,#000095 184.5px,#000094 202px)"></i><i style="top:115px;background:linear-gradient(90deg,#000095 0px,#00009c 10.5px,#0000ab 17.5px,#0000c5 23.5px,#0000fb 32.5px,#0056ff 47.5px,#006bff 55.5px,#0067ff 62.5px,#003dff 83.5px,#003fff 90.5px,#0054ff 94.5px,#0074ff 97.5px,#00a4ff 100.5px,#00faff 104.5px,#13ffec 105.5px,#a9ff56 111.5px,#feff01 115.5px,#ffc000 119.5px,#ffa100 122.5px,#ff8900 126.5px,#ff8000 130.5px,#ff8700 135.5px,#ff9b00 139.5px,#ffc400 143.5px,#fff200 146.5px,#f9ff06 147.5px,#ceff31 149.5px,#83ff7c 152.5px,#12ffed 156.5px,#00f4ff 157.5px,#0056ff 163.5px,#001aff 166.5px,#0000fa 168.5px,#0000ba 173.5px,#00009e 178.5px,#000095 184.5px,#000094 202px)"></i></div>
<div class="cb" style="top:25px;height:116px"></div>
<div class="cb" style="top:209px;height:116px"></div>
<svg width="550" height="387" viewBox="0 0 550 387">
<text transform="translate(30.80 29.40) scale(1.000 1)" font-size="13.5" text-anchor="end">0</text>
<text transform="translate(30.80 54.96) scale(1.000 1)" font-size="13.5" text-anchor="end">2</text>
<line x1="35.00" y1="50.56" x2="37.20" y2="50.56" stroke="#333" stroke-width="0.8"/>
<line x1="237.00" y1="50.56" x2="234.80" y2="50.56" stroke="#333" stroke-width="0.8"/>
<text transform="translate(30.80 80.51) scale(1.000 1)" font-size="13.5" text-anchor="end">4</text>
<line x1="35.00" y1="76.11" x2="37.20" y2="76.11" stroke="#333" stroke-width="0.8"/>
<line x1="237.00" y1="76.11" x2="234.80" y2="76.11" stroke="#333" stroke-width="0.8"/>
<text transform="translate(30.80 106.07) scale(1.000 1)" font-size="13.5" text-anchor="end">6</text>
<line x1="35.00" y1="101.67" x2="37.20" y2="101.67" stroke="#333" stroke-width="0.8"/>
<line x1="237.00" y1="101.67" x2="234.80" y2="101.67" stroke="#333" stroke-width="0.8"/>
<text transform="translate(30.80 131.62) scale(1.000 1)" font-size="13.5" text-anchor="end">8</text>
<line x1="35.00" y1="127.22" x2="37.20" y2="127.22" stroke="#333" stroke-width="0.8"/>
<line x1="237.00" y1="127.22" x2="234.80" y2="127.22" stroke="#333" stroke-width="0.8"/>
<text transform="translate(63.40 155.60) scale(1.000 1)" font-size="13.5" text-anchor="middle">5</text>
<line x1="62.50" y1="140.00" x2="62.50" y2="137.80" stroke="#333" stroke-width="0.8"/>
<line x1="62.50" y1="25.00" x2="62.50" y2="27.20" stroke="#333" stroke-width="0.8"/>
<text transform="translate(98.40 155.60) scale(1.000 1)" font-size="13.5" text-anchor="middle">10</text>
<line x1="97.50" y1="140.00" x2="97.50" y2="137.80" stroke="#333" stroke-width="0.8"/>
<line x1="97.50" y1="25.00" x2="97.50" y2="27.20" stroke="#333" stroke-width="0.8"/>
<text transform="translate(133.40 155.60) scale(1.000 1)" font-size="13.5" text-anchor="middle">15</text>
<line x1="132.50" y1="140.00" x2="132.50" y2="137.80" stroke="#333" stroke-width="0.8"/>
<line x1="132.50" y1="25.00" x2="132.50" y2="27.20" stroke="#333" stroke-width="0.8"/>
<text transform="translate(168.40 155.60) scale(1.000 1)" font-size="13.5" text-anchor="middle">20</text>
<line x1="167.50" y1="140.00" x2="167.50" y2="137.80" stroke="#333" stroke-width="0.8"/>
<line x1="167.50" y1="25.00" x2="167.50" y2="27.20" stroke="#333" stroke-width="0.8"/>
<text transform="translate(203.40 155.60) scale(1.000 1)" font-size="13.5" text-anchor="middle">25</text>
<line x1="202.50" y1="140.00" x2="202.50" y2="137.80" stroke="#333" stroke-width="0.8"/>
<line x1="202.50" y1="25.00" x2="202.50" y2="27.20" stroke="#333" stroke-width="0.8"/>
<text transform="translate(238.40 155.60) scale(1.000 1)" font-size="13.5" text-anchor="middle">30</text>
<text transform="translate(136.00 176.00) scale(1.000 1)" font-size="13.5" text-anchor="middle"><tspan font-style="italic">x</tspan>/<tspan dx="0.8">km</tspan></text>
<text transform="translate(19.40 79.60) rotate(-90) scale(1.000 1)" font-size="13.5" text-anchor="middle"><tspan font-style="italic">z</tspan><tspan dx="1.8">/</tspan><tspan dx="1.4">km</tspan></text>
<text transform="translate(148.50 190.80) scale(1.000 1)" font-size="10.3" text-anchor="middle" font-weight="bold">(a)</text>
<text transform="translate(269.60 31.30) scale(1.000 1)" font-size="13.5" text-anchor="start" letter-spacing="0.7">400</text>
<text transform="translate(269.60 59.02) scale(1.000 1)" font-size="13.5" text-anchor="start" letter-spacing="0.7">300</text>
<text transform="translate(269.60 86.74) scale(1.000 1)" font-size="13.5" text-anchor="start" letter-spacing="0.7">200</text>
<text transform="translate(269.60 114.46) scale(1.000 1)" font-size="13.5" text-anchor="start" letter-spacing="0.7">100</text>
<text transform="translate(269.60 142.18) scale(1.000 1)" font-size="13.5" text-anchor="start" letter-spacing="0.7">0</text>
<text transform="translate(248.80 19.60) scale(1.000 1)" font-size="13.5" text-anchor="start">kg/m<tspan font-size="7" dy="-5.5">3</tspan></text>
<path d="M79.30 45.90H83.68M79.30 70.60H83.68M90.02 45.90H94.40M90.02 70.60H94.40M79.30 45.90V53.06M94.40 45.90V53.06M79.30 63.44V70.60M94.40 63.44V70.60" fill="none" stroke="#383838" stroke-width="1.4" stroke-linecap="square"/>
<path d="M152.80 70.20H156.87M152.80 109.70H156.87M162.50 70.20H170.94M162.50 109.70H170.94M176.43 70.20H180.50M176.43 109.70H180.50M152.80 70.20V76.32M180.50 70.20V76.32M152.80 83.47V97.73M180.50 83.47V97.73M152.80 103.58V109.70M180.50 103.58V109.70" fill="none" stroke="#383838" stroke-width="1.4" stroke-linecap="square"/>
<text transform="translate(30.80 213.40) scale(1.000 1)" font-size="13.5" text-anchor="end">0</text>
<text transform="translate(30.80 239.18) scale(1.000 1)" font-size="13.5" text-anchor="end">2</text>
<line x1="35.00" y1="234.78" x2="37.20" y2="234.78" stroke="#333" stroke-width="0.8"/>
<line x1="237.00" y1="234.78" x2="234.80" y2="234.78" stroke="#333" stroke-width="0.8"/>
<text transform="translate(30.80 264.96) scale(1.000 1)" font-size="13.5" text-anchor="end">4</text>
<line x1="35.00" y1="260.56" x2="37.20" y2="260.56" stroke="#333" stroke-width="0.8"/>
<line x1="237.00" y1="260.56" x2="234.80" y2="260.56" stroke="#333" stroke-width="0.8"/>
<text transform="translate(30.80 290.73) scale(1.000 1)" font-size="13.5" text-anchor="end">6</text>
<line x1="35.00" y1="286.33" x2="37.20" y2="286.33" stroke="#333" stroke-width="0.8"/>
<line x1="237.00" y1="286.33" x2="234.80" y2="286.33" stroke="#333" stroke-width="0.8"/>
<text transform="translate(30.80 316.51) scale(1.000 1)" font-size="13.5" text-anchor="end">8</text>
<line x1="35.00" y1="312.11" x2="37.20" y2="312.11" stroke="#333" stroke-width="0.8"/>
<line x1="237.00" y1="312.11" x2="234.80" y2="312.11" stroke="#333" stroke-width="0.8"/>
<text transform="translate(63.40 340.10) scale(1.000 1)" font-size="13.5" text-anchor="middle">5</text>
<line x1="62.50" y1="325.00" x2="62.50" y2="322.80" stroke="#333" stroke-width="0.8"/>
<line x1="62.50" y1="209.00" x2="62.50" y2="211.20" stroke="#333" stroke-width="0.8"/>
<text transform="translate(98.40 340.10) scale(1.000 1)" font-size="13.5" text-anchor="middle">10</text>
<line x1="97.50" y1="325.00" x2="97.50" y2="322.80" stroke="#333" stroke-width="0.8"/>
<line x1="97.50" y1="209.00" x2="97.50" y2="211.20" stroke="#333" stroke-width="0.8"/>
<text transform="translate(133.40 340.10) scale(1.000 1)" font-size="13.5" text-anchor="middle">15</text>
<line x1="132.50" y1="325.00" x2="132.50" y2="322.80" stroke="#333" stroke-width="0.8"/>
<line x1="132.50" y1="209.00" x2="132.50" y2="211.20" stroke="#333" stroke-width="0.8"/>
<text transform="translate(168.40 340.10) scale(1.000 1)" font-size="13.5" text-anchor="middle">20</text>
<line x1="167.50" y1="325.00" x2="167.50" y2="322.80" stroke="#333" stroke-width="0.8"/>
<line x1="167.50" y1="209.00" x2="167.50" y2="211.20" stroke="#333" stroke-width="0.8"/>
<text transform="translate(203.40 340.10) scale(1.000 1)" font-size="13.5" text-anchor="middle">25</text>
<line x1="202.50" y1="325.00" x2="202.50" y2="322.80" stroke="#333" stroke-width="0.8"/>
<line x1="202.50" y1="209.00" x2="202.50" y2="211.20" stroke="#333" stroke-width="0.8"/>
<text transform="translate(238.40 340.10) scale(1.000 1)" font-size="13.5" text-anchor="middle">30</text>
<text transform="translate(136.00 360.50) scale(1.000 1)" font-size="13.5" text-anchor="middle"><tspan font-style="italic">x</tspan>/<tspan dx="0.8">km</tspan></text>
<text transform="translate(19.40 264.10) rotate(-90) scale(1.000 1)" font-size="13.5" text-anchor="middle"><tspan font-style="italic">z</tspan><tspan dx="1.8">/</tspan><tspan dx="1.4">km</tspan></text>
<text transform="translate(148.50 375.30) scale(1.000 1)" font-size="10.3" text-anchor="middle" font-weight="bold">(c)</text>
<text transform="translate(269.60 215.80) scale(1.000 1)" font-size="13.5" text-anchor="start" letter-spacing="0.7">400</text>
<text transform="translate(269.60 243.52) scale(1.000 1)" font-size="13.5" text-anchor="start" letter-spacing="0.7">300</text>
<text transform="translate(269.60 271.24) scale(1.000 1)" font-size="13.5" text-anchor="start" letter-spacing="0.7">200</text>
<text transform="translate(269.60 298.96) scale(1.000 1)" font-size="13.5" text-anchor="start" letter-spacing="0.7">100</text>
<text transform="translate(269.60 326.68) scale(1.000 1)" font-size="13.5" text-anchor="start" letter-spacing="0.7">0</text>
<text transform="translate(248.80 204.10) scale(1.000 1)" font-size="13.5" text-anchor="start">kg/m<tspan font-size="7" dy="-5.5">3</tspan></text>
<path d="M79.30 231.40H83.68M79.30 255.10H83.68M90.02 231.40H94.40M90.02 255.10H94.40M79.30 231.40V238.27M94.40 231.40V238.27M79.30 248.23V255.10M94.40 248.23V255.10" fill="none" stroke="#383838" stroke-width="1.4" stroke-linecap="square"/>
<path d="M153.80 255.20H157.89M153.80 294.40H157.89M163.53 255.20H172.01M163.53 294.40H172.01M177.51 255.20H181.60M177.51 294.40H181.60M153.80 255.20V261.28M181.60 255.20V261.28M153.80 268.37V282.52M181.60 268.37V282.52M153.80 288.32V294.40M181.60 288.32V294.40" fill="none" stroke="#383838" stroke-width="1.4" stroke-linecap="square"/>
<line x1="339.50" y1="18.40" x2="507.60" y2="16.10" stroke="#333" stroke-width="1.1"/>
<line x1="339.50" y1="18.40" x2="339.50" y2="132.50" stroke="#333" stroke-width="1.1"/>
<line x1="339.50" y1="18.40" x2="362.50" y2="36.40" stroke="#333" stroke-width="1.1"/>
<line x1="507.60" y1="16.10" x2="530.60" y2="33.60" stroke="#333" stroke-width="1.1"/>
<line x1="362.50" y1="36.40" x2="530.60" y2="33.60" stroke="#333" stroke-width="1.1"/>
<line x1="362.50" y1="36.40" x2="363.00" y2="149.10" stroke="#333" stroke-width="1.1"/>
<line x1="530.60" y1="33.60" x2="530.60" y2="146.60" stroke="#333" stroke-width="1.1"/>
<line x1="363.00" y1="149.10" x2="530.60" y2="146.60" stroke="#333" stroke-width="1.1"/>
<line x1="339.50" y1="132.50" x2="363.00" y2="149.10" stroke="#333" stroke-width="1.1"/>
<line x1="507.60" y1="16.10" x2="507.80" y2="128.90" stroke="#333" stroke-width="1.1" stroke-dasharray="2.5 3"/>
<line x1="339.50" y1="132.50" x2="507.80" y2="128.90" stroke="#333" stroke-width="1.1" stroke-dasharray="2.5 3"/>
<line x1="507.80" y1="128.90" x2="530.60" y2="146.60" stroke="#333" stroke-width="1.1" stroke-dasharray="2.5 3"/>
<line x1="339.50" y1="18.40" x2="336.40" y2="16.00" stroke="#333" stroke-width="1.0"/>
<text transform="translate(336.00 17.90) scale(1.000 1)" font-size="13.5" text-anchor="end">0</text>
<line x1="339.50" y1="41.22" x2="336.40" y2="38.82" stroke="#333" stroke-width="1.0"/>
<text transform="translate(336.00 40.72) scale(1.000 1)" font-size="13.5" text-anchor="end">2</text>
<line x1="339.50" y1="64.04" x2="336.40" y2="61.64" stroke="#333" stroke-width="1.0"/>
<text transform="translate(336.00 63.54) scale(1.000 1)" font-size="13.5" text-anchor="end">4</text>
<line x1="339.50" y1="86.86" x2="336.40" y2="84.46" stroke="#333" stroke-width="1.0"/>
<text transform="translate(336.00 86.36) scale(1.000 1)" font-size="13.5" text-anchor="end">6</text>
<line x1="339.50" y1="109.68" x2="336.40" y2="107.28" stroke="#333" stroke-width="1.0"/>
<text transform="translate(336.00 109.18) scale(1.000 1)" font-size="13.5" text-anchor="end">8</text>
<line x1="339.50" y1="132.50" x2="336.40" y2="130.10" stroke="#333" stroke-width="1.0"/>
<text transform="translate(336.00 132.00) scale(1.000 1)" font-size="13.5" text-anchor="end">10</text>
<line x1="363.00" y1="149.10" x2="363.00" y2="152.70" stroke="#333" stroke-width="1.0"/>
<text transform="translate(363.40 165.20) scale(1.000 1)" font-size="13.5" text-anchor="middle">0</text>
<line x1="390.94" y1="148.68" x2="390.94" y2="152.28" stroke="#333" stroke-width="1.0"/>
<text transform="translate(391.90 164.88) scale(1.000 1)" font-size="13.5" text-anchor="middle">5</text>
<line x1="418.89" y1="148.27" x2="418.89" y2="151.87" stroke="#333" stroke-width="1.0"/>
<text transform="translate(420.40 164.55) scale(1.000 1)" font-size="13.5" text-anchor="middle">10</text>
<line x1="446.84" y1="147.85" x2="446.84" y2="151.45" stroke="#333" stroke-width="1.0"/>
<text transform="translate(448.90 164.22) scale(1.000 1)" font-size="13.5" text-anchor="middle">15</text>
<line x1="474.78" y1="147.43" x2="474.78" y2="151.03" stroke="#333" stroke-width="1.0"/>
<text transform="translate(477.40 163.90) scale(1.000 1)" font-size="13.5" text-anchor="middle">20</text>
<line x1="502.73" y1="147.02" x2="502.73" y2="150.62" stroke="#333" stroke-width="1.0"/>
<text transform="translate(505.90 163.57) scale(1.000 1)" font-size="13.5" text-anchor="middle">25</text>
<line x1="530.67" y1="146.60" x2="530.67" y2="150.20" stroke="#333" stroke-width="1.0"/>
<text transform="translate(534.40 163.25) scale(1.000 1)" font-size="13.5" text-anchor="middle">30</text>
<line x1="351.20" y1="140.80" x2="351.20" y2="143.20" stroke="#333" stroke-width="0.9"/>
<text transform="translate(342.70 155.50) scale(1.000 1)" font-size="13.5" text-anchor="start">10</text>
<text transform="translate(330.60 147.70) scale(1.000 1)" font-size="13.5" text-anchor="start">20</text>
<text transform="translate(302.60 156.30) scale(1.000 1)" font-size="13.5" text-anchor="start"><tspan font-style="italic">y</tspan>/<tspan dx="0.8">km</tspan></text>
<text transform="translate(320.60 72.50) rotate(-90) scale(1.000 1)" font-size="13.5" text-anchor="middle"><tspan font-style="italic">z</tspan>/km</text>
<text transform="translate(447.30 178.20) scale(1.000 1)" font-size="13.5" text-anchor="middle"><tspan font-style="italic">x</tspan><tspan dx="0.6">/</tspan><tspan dx="1">km</tspan></text>
<text transform="translate(421.30 190.20) scale(1.000 1)" font-size="10.3" text-anchor="middle" font-weight="bold">(b)</text>
<line x1="339.50" y1="203.10" x2="507.60" y2="200.80" stroke="#333" stroke-width="1.1"/>
<line x1="339.50" y1="203.10" x2="339.50" y2="317.20" stroke="#333" stroke-width="1.1"/>
<line x1="339.50" y1="203.10" x2="362.50" y2="221.10" stroke="#333" stroke-width="1.1"/>
<line x1="507.60" y1="200.80" x2="530.60" y2="218.30" stroke="#333" stroke-width="1.1"/>
<line x1="362.50" y1="221.10" x2="530.60" y2="218.30" stroke="#333" stroke-width="1.1"/>
<line x1="362.50" y1="221.10" x2="363.00" y2="333.80" stroke="#333" stroke-width="1.1"/>
<line x1="530.60" y1="218.30" x2="530.60" y2="331.30" stroke="#333" stroke-width="1.1"/>
<line x1="363.00" y1="333.80" x2="530.60" y2="331.30" stroke="#333" stroke-width="1.1"/>
<line x1="339.50" y1="317.20" x2="363.00" y2="333.80" stroke="#333" stroke-width="1.1"/>
<line x1="507.60" y1="200.80" x2="507.80" y2="313.60" stroke="#333" stroke-width="1.1" stroke-dasharray="2.5 3"/>
<line x1="339.50" y1="317.20" x2="507.80" y2="313.60" stroke="#333" stroke-width="1.1" stroke-dasharray="2.5 3"/>
<line x1="507.80" y1="313.60" x2="530.60" y2="331.30" stroke="#333" stroke-width="1.1" stroke-dasharray="2.5 3"/>
<line x1="339.50" y1="203.10" x2="336.40" y2="200.70" stroke="#333" stroke-width="1.0"/>
<text transform="translate(336.00 202.60) scale(1.000 1)" font-size="13.5" text-anchor="end">0</text>
<line x1="339.50" y1="225.92" x2="336.40" y2="223.52" stroke="#333" stroke-width="1.0"/>
<text transform="translate(336.00 225.42) scale(1.000 1)" font-size="13.5" text-anchor="end">2</text>
<line x1="339.50" y1="248.74" x2="336.40" y2="246.34" stroke="#333" stroke-width="1.0"/>
<text transform="translate(336.00 248.24) scale(1.000 1)" font-size="13.5" text-anchor="end">4</text>
<line x1="339.50" y1="271.56" x2="336.40" y2="269.16" stroke="#333" stroke-width="1.0"/>
<text transform="translate(336.00 271.06) scale(1.000 1)" font-size="13.5" text-anchor="end">6</text>
<line x1="339.50" y1="294.38" x2="336.40" y2="291.98" stroke="#333" stroke-width="1.0"/>
<text transform="translate(336.00 293.88) scale(1.000 1)" font-size="13.5" text-anchor="end">8</text>
<line x1="339.50" y1="317.20" x2="336.40" y2="314.80" stroke="#333" stroke-width="1.0"/>
<text transform="translate(336.00 316.70) scale(1.000 1)" font-size="13.5" text-anchor="end">10</text>
<line x1="363.00" y1="333.80" x2="363.00" y2="337.40" stroke="#333" stroke-width="1.0"/>
<text transform="translate(363.40 349.90) scale(1.000 1)" font-size="13.5" text-anchor="middle">0</text>
<line x1="390.94" y1="333.38" x2="390.94" y2="336.98" stroke="#333" stroke-width="1.0"/>
<text transform="translate(391.90 349.57) scale(1.000 1)" font-size="13.5" text-anchor="middle">5</text>
<line x1="418.89" y1="332.97" x2="418.89" y2="336.57" stroke="#333" stroke-width="1.0"/>
<text transform="translate(420.40 349.25) scale(1.000 1)" font-size="13.5" text-anchor="middle">10</text>
<line x1="446.84" y1="332.55" x2="446.84" y2="336.15" stroke="#333" stroke-width="1.0"/>
<text transform="translate(448.90 348.92) scale(1.000 1)" font-size="13.5" text-anchor="middle">15</text>
<line x1="474.78" y1="332.13" x2="474.78" y2="335.73" stroke="#333" stroke-width="1.0"/>
<text transform="translate(477.40 348.60) scale(1.000 1)" font-size="13.5" text-anchor="middle">20</text>
<line x1="502.73" y1="331.72" x2="502.73" y2="335.32" stroke="#333" stroke-width="1.0"/>
<text transform="translate(505.90 348.27) scale(1.000 1)" font-size="13.5" text-anchor="middle">25</text>
<line x1="530.67" y1="331.30" x2="530.67" y2="334.90" stroke="#333" stroke-width="1.0"/>
<text transform="translate(534.40 347.95) scale(1.000 1)" font-size="13.5" text-anchor="middle">30</text>
<line x1="351.20" y1="325.50" x2="351.20" y2="327.90" stroke="#333" stroke-width="0.9"/>
<text transform="translate(342.70 340.20) scale(1.000 1)" font-size="13.5" text-anchor="start">10</text>
<text transform="translate(330.60 332.40) scale(1.000 1)" font-size="13.5" text-anchor="start">20</text>
<text transform="translate(302.60 341.00) scale(1.000 1)" font-size="13.5" text-anchor="start"><tspan font-style="italic">y</tspan>/<tspan dx="0.8">km</tspan></text>
<text transform="translate(320.60 257.20) rotate(-90) scale(1.000 1)" font-size="13.5" text-anchor="middle"><tspan font-style="italic">z</tspan>/km</text>
<text transform="translate(447.30 362.90) scale(1.000 1)" font-size="13.5" text-anchor="middle"><tspan font-style="italic">x</tspan><tspan dx="0.6">/</tspan><tspan dx="1">km</tspan></text>
<text transform="translate(421.30 374.90) scale(1.000 1)" font-size="10.3" text-anchor="middle" font-weight="bold">(d)</text>
<rect x="397.6" y="58.1" width="3.0" height="12.9" fill="#b00000" stroke="none" stroke-width="0.6"/>
<rect x="400.5" y="59.9" width="11.0" height="22.7" fill="#ff1400" stroke="#b00000" stroke-width="0.6"/>
<line x1="406.00" y1="59.90" x2="406.00" y2="82.60" stroke="#b00000" stroke-width="0.7"/>
<line x1="400.50" y1="71.30" x2="411.50" y2="71.30" stroke="#b00000" stroke-width="0.7"/>
<rect x="398.0" y="82.6" width="11.8" height="8.7" fill="#ff1400" stroke="#b00000" stroke-width="0.6"/>
<line x1="404.00" y1="82.60" x2="404.00" y2="91.30" stroke="#b00000" stroke-width="0.7"/>
<path d="M393.3 52.1H412.1V85.3H393.3Z" stroke="#1010ff" stroke-width="1.15" fill="none"/>
<path d="M395.8 54.8H414.6V87.8H395.8Z" stroke="#1010ff" stroke-width="1.15" fill="none"/>
<line x1="393.30" y1="52.10" x2="395.80" y2="54.80" stroke="#1010ff" stroke-width="1.15"/>
<line x1="412.10" y1="52.10" x2="414.60" y2="54.80" stroke="#1010ff" stroke-width="1.15"/>
<line x1="412.10" y1="85.30" x2="414.60" y2="87.80" stroke="#1010ff" stroke-width="1.15"/>
<line x1="393.30" y1="85.30" x2="395.80" y2="87.80" stroke="#1010ff" stroke-width="1.15"/>
<rect x="462.0" y="90.1" width="7.0" height="10.9" fill="#f07a10" stroke="none" stroke-width="0.6"/>
<path d="M447.0 72.7H480.6V116.2H447.0Z" stroke="#1010ff" stroke-width="1.15" fill="none"/>
<path d="M450.5 76.2H484.3V119.3H450.5Z" stroke="#1010ff" stroke-width="1.15" fill="none"/>
<line x1="447.00" y1="72.70" x2="450.50" y2="76.20" stroke="#1010ff" stroke-width="1.15"/>
<line x1="480.60" y1="72.70" x2="484.30" y2="76.20" stroke="#1010ff" stroke-width="1.15"/>
<line x1="480.60" y1="116.20" x2="484.30" y2="119.30" stroke="#1010ff" stroke-width="1.15"/>
<line x1="447.00" y1="116.20" x2="450.50" y2="119.30" stroke="#1010ff" stroke-width="1.15"/>
<path d="M392.5 245.8L394.3 243.4H407L406.8 246Z" stroke="#700000" stroke-width="0.4" fill="#9a1010"/>
<rect x="393.0" y="245.5" width="1.4" height="29.9" fill="#a01000" stroke="none" stroke-width="0.6"/>
<rect x="394.3" y="245.8" width="12.7" height="9.2" fill="#ff3410" stroke="#900000" stroke-width="0.6"/>
<rect x="394.3" y="255.0" width="12.7" height="10.2" fill="#f20000" stroke="#900000" stroke-width="0.6"/>
<rect x="394.3" y="265.2" width="12.7" height="10.2" fill="#ff4410" stroke="#900000" stroke-width="0.6"/>
<line x1="400.60" y1="245.80" x2="400.60" y2="275.40" stroke="#900000" stroke-width="0.6"/>
<path d="M388.8 242.3H406.5V272.8H388.8Z" stroke="#1010ff" stroke-width="1.15" fill="none"/>
<path d="M391.3 244.6H410.8V275.6H391.3Z" stroke="#1010ff" stroke-width="1.15" fill="none"/>
<line x1="388.80" y1="242.30" x2="391.30" y2="244.60" stroke="#1010ff" stroke-width="1.15"/>
<line x1="406.50" y1="242.30" x2="410.80" y2="244.60" stroke="#1010ff" stroke-width="1.15"/>
<line x1="406.50" y1="272.80" x2="410.80" y2="275.60" stroke="#1010ff" stroke-width="1.15"/>
<line x1="388.80" y1="272.80" x2="391.30" y2="275.60" stroke="#1010ff" stroke-width="1.15"/>
<rect x="387.6" y="253.7" width="4.4" height="10.9" fill="#f47000" stroke="#a04000" stroke-width="0.6"/>
<rect x="406.8" y="253.7" width="4.4" height="10.9" fill="#f47000" stroke="#a04000" stroke-width="0.6"/>
<rect x="453.5" y="253.1" width="3.9" height="6.5" fill="#a81008" stroke="#8a1800" stroke-width="0.6"/>
<rect x="453.5" y="259.6" width="3.9" height="5.9" fill="#a81008" stroke="#8a1800" stroke-width="0.6"/>
<rect x="457.4" y="253.1" width="5.4" height="6.5" fill="#ff3c08" stroke="#8a1800" stroke-width="0.6"/>
<rect x="457.4" y="259.6" width="5.4" height="5.9" fill="#ff3c08" stroke="#8a1800" stroke-width="0.6"/>
<rect x="462.8" y="253.1" width="5.4" height="6.5" fill="#f01000" stroke="#8a1800" stroke-width="0.6"/>
<rect x="462.8" y="259.6" width="5.4" height="5.9" fill="#f01000" stroke="#8a1800" stroke-width="0.6"/>
<rect x="468.2" y="253.1" width="5.4" height="6.5" fill="#ff4a08" stroke="#8a1800" stroke-width="0.6"/>
<rect x="468.2" y="259.6" width="5.4" height="5.9" fill="#ff4a08" stroke="#8a1800" stroke-width="0.6"/>
<rect x="473.6" y="253.1" width="4.0" height="6.5" fill="#ff8a20" stroke="#8a1800" stroke-width="0.6"/>
<rect x="473.6" y="259.6" width="4.0" height="5.9" fill="#ff8a20" stroke="#8a1800" stroke-width="0.6"/>
<path d="M449.6 265.2L453.5 263.2V296.6H449.6Z" stroke="#8a1800" stroke-width="0.6" fill="#f07818"/>
<line x1="449.60" y1="275.60" x2="453.50" y2="275.60" stroke="#8a1800" stroke-width="0.6"/>
<line x1="449.60" y1="285.70" x2="453.50" y2="285.70" stroke="#8a1800" stroke-width="0.6"/>
<rect x="453.5" y="264.0" width="4.7" height="11.6" fill="#ff8c1a" stroke="#8a1800" stroke-width="0.6"/>
<rect x="453.5" y="275.6" width="4.7" height="10.1" fill="#ff8c1a" stroke="#8a1800" stroke-width="0.6"/>
<rect x="453.5" y="285.7" width="4.7" height="10.1" fill="#ff8c1a" stroke="#8a1800" stroke-width="0.6"/>
<rect x="458.2" y="264.0" width="5.4" height="11.6" fill="#ff6010" stroke="#8a1800" stroke-width="0.6"/>
<rect x="458.2" y="275.6" width="5.4" height="10.1" fill="#ff6010" stroke="#8a1800" stroke-width="0.6"/>
<rect x="458.2" y="285.7" width="5.4" height="10.1" fill="#ff6010" stroke="#8a1800" stroke-width="0.6"/>
<rect x="463.6" y="264.0" width="5.4" height="11.6" fill="#ff4a0a" stroke="#8a1800" stroke-width="0.6"/>
<rect x="463.6" y="275.6" width="5.4" height="10.1" fill="#ff4a0a" stroke="#8a1800" stroke-width="0.6"/>
<rect x="463.6" y="285.7" width="5.4" height="10.1" fill="#ff4a0a" stroke="#8a1800" stroke-width="0.6"/>
<rect x="469.0" y="264.0" width="5.5" height="11.6" fill="#ff7a14" stroke="#8a1800" stroke-width="0.6"/>
<rect x="469.0" y="275.6" width="5.5" height="10.1" fill="#ff7a14" stroke="#8a1800" stroke-width="0.6"/>
<rect x="469.0" y="285.7" width="5.5" height="10.1" fill="#ff7a14" stroke="#8a1800" stroke-width="0.6"/>
<rect x="474.5" y="264.0" width="4.2" height="11.6" fill="#ff8c1a" stroke="#8a1800" stroke-width="0.6"/>
<rect x="474.5" y="275.6" width="4.2" height="10.1" fill="#ff8c1a" stroke="#8a1800" stroke-width="0.6"/>
<rect x="474.5" y="285.7" width="4.2" height="10.1" fill="#ff8c1a" stroke="#8a1800" stroke-width="0.6"/>
<rect x="453.5" y="295.8" width="3.9" height="9.3" fill="#b01808" stroke="#8a1800" stroke-width="0.6"/>
<rect x="457.4" y="295.8" width="5.4" height="9.3" fill="#ff4008" stroke="#8a1800" stroke-width="0.6"/>
<rect x="462.8" y="295.8" width="5.4" height="9.3" fill="#f01000" stroke="#8a1800" stroke-width="0.6"/>
<rect x="468.2" y="295.8" width="5.4" height="9.3" fill="#ff3a08" stroke="#8a1800" stroke-width="0.6"/>
<rect x="473.6" y="295.8" width="5.1" height="9.3" fill="#ff7a14" stroke="#8a1800" stroke-width="0.6"/>
<path d="M443.7 257.9H480.2V297.9H443.7Z" stroke="#1010ff" stroke-width="1.15" fill="none"/>
<path d="M447.7 260.8H483.5V301.2H447.7Z" stroke="#1010ff" stroke-width="1.15" fill="none"/>
<line x1="443.70" y1="257.90" x2="447.70" y2="260.80" stroke="#1010ff" stroke-width="1.15"/>
<line x1="480.20" y1="257.90" x2="483.50" y2="260.80" stroke="#1010ff" stroke-width="1.15"/>
<line x1="480.20" y1="297.90" x2="483.50" y2="301.20" stroke="#1010ff" stroke-width="1.15"/>
<line x1="443.70" y1="297.90" x2="447.70" y2="301.20" stroke="#1010ff" stroke-width="1.15"/>
</svg>
</body></html>
